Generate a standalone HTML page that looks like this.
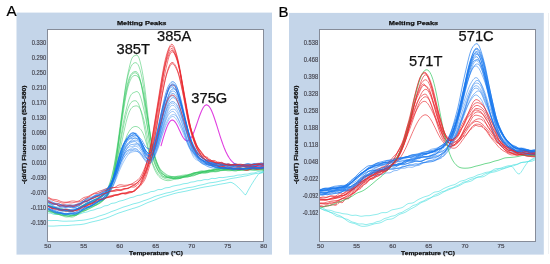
<!DOCTYPE html>
<html><head><meta charset="utf-8"><title>Melting Peaks</title>
<style>
html,body{margin:0;padding:0;background:#fff;width:550px;height:264px;overflow:hidden}
svg{display:block}
text{font-family:"Liberation Sans",sans-serif}
.r{stroke:#e8262c;stroke-opacity:0.9}
.b{stroke:#1677ee;stroke-opacity:0.95}
.g{stroke:#36c862;stroke-opacity:0.75}
.m{stroke:#e040e0}
.c{stroke:#4fe0e0;stroke-opacity:0.9}
path{fill:none;stroke-width:0.7;stroke-linejoin:round;stroke-linecap:round}
</style></head><body>
<svg width="550" height="264" viewBox="0 0 550 264" style="will-change:transform">
<rect x="16.5" y="12.6" width="255.5" height="242" fill="#c4d5e9"/>
<rect x="548" y="13" width="1" height="241" fill="#eef0f2"/>
<rect x="289" y="12.9" width="254.8" height="241.7" fill="#c4d5e9"/>
<rect x="47.5" y="29.5" width="216" height="212" fill="#fff" stroke="#868c99" stroke-width="1"/>
<rect x="319.5" y="29.5" width="216" height="212" fill="#fff" stroke="#868c99" stroke-width="1"/>
<svg x="48.1" y="30.1" width="215.6" height="210.6" viewBox="48.1 30.1 215.6 210.6" overflow="hidden">
<g fill="none" stroke-linejoin="round" stroke-linecap="round">
<path class="c" style="stroke-width:0.75" d="M48 213 49 213.1 50 213.1 51 213.3 52 213.7 53 214.1 54 214.4 55 214.5 56 214.4 57 214.3 58 214.3 59 214.6 60 214.9 61 215.2 62 215.2 63 215.1 64 214.8 65 214.7 66 214.7 67 214.9 68 215 69 215.1 70 215.1 71 215 72 214.8 73 214.7 74 214.6 75 214.5 76 214.4 77 214.3 78 214.2 79 214.1 80 213.9 81 213.6 82 213.2 83 212.8 84 212.5 85 212.3 86 212.2 87 212 88 211.6 89 211.2 90 210.8 91 210.5 92 210.3 93 210.1 94 209.9 95 209.5 96 209.1 97 208.7 98 208.4 99 208.2 100 208 101 207.7 102 207.2 103 206.6 104 206.1 105 205.8 106 205.7 107 205.6 108 205.3 109 204.8 110 204.2 111 203.6 112 203.3 113 203.2 114 203.1 115 202.9 116 202.6 117 202.2 118 201.7 119 201.3 120 201 121 200.8 122 200.6 123 200.4 124 200 125 199.7 126 199.3 127 199 128 198.6 129 198.2 130 197.8 131 197.6 132 197.4 133 197.2 134 196.9 135 196.5 136 196 137 195.7 138 195.4 139 195.3 140 195.2 141 195 142 194.6 143 194.2 144 193.8 145 193.6 146 193.4 147 193.2 148 192.9 149 192.5 150 192 151 191.6 152 191.5 153 191.4 154 191.3 155 190.9 156 190.5 157 190 158 189.6 159 189.5 160 189.6 161 189.6 162 189.4 163 188.9 164 188.4 165 188 166 187.8 167 187.7 168 187.6 169 187.5 170 187.2 171 186.8 172 186.4 173 186.1 174 185.9 175 185.7 176 185.5 177 185.3 178 185.1 179 185 180 184.8 181 184.5 182 184.2 183 183.9 184 183.7 185 183.6 186 183.5 187 183.4 188 183.2 189 182.8 190 182.4 191 182.1 192 182 193 181.9 194 181.8 195 181.5 196 181.2 197 180.9 198 180.7 199 180.7 200 180.7 201 180.6 202 180.3 203 180 204 179.7 205 179.6 206 179.6 207 179.7 208 179.7 209 179.4 210 179 211 178.6 212 178.3 213 178.4 214 178.5 215 178.6 216 178.4 217 178.1 218 177.8 219 177.5 220 177.5 221 177.5 222 177.6 223 177.6 224 177.4 225 177.3 226 177.1 227 177 228 176.8 229 176.6 230 176.5 231 176.4 232 176.3 233 176.2 234 176.1 235 175.8 236 175.5 237 175.2 238 175.1 239 175 240 175 241 175 242 174.8 243 174.5 244 174.3 245 174.2 246 174.1 247 174.1 248 174 249 173.7 250 173.4 251 173.2 252 173.1 253 173.1 254 173 255 172.8 256 172.4 257 172 258 171.6 259 171.6 260 171.7 261 171.8 262 171.7 263 171.3 264 170.9"/>
<path class="c" style="stroke-width:0.75" d="M48 220.5 49 220.5 50 220.6 51 220.6 52 220.6 53 220.5 54 220.5 55 220.5 56 220.5 57 220.5 58 220.6 59 220.8 60 220.9 61 221 62 221.1 63 221.2 64 221.2 65 221.2 66 221.2 67 221.2 68 221.1 69 221.1 70 221.1 71 221.1 72 221.1 73 221.1 74 221 75 220.9 76 220.8 77 220.7 78 220.6 79 220.5 80 220.4 81 220.4 82 220.3 83 220.2 84 220.1 85 219.9 86 219.8 87 219.5 88 219.3 89 219.1 90 218.8 91 218.6 92 218.4 93 218.2 94 217.9 95 217.6 96 217.2 97 216.9 98 216.5 99 216.1 100 215.8 101 215.5 102 215.2 103 214.9 104 214.6 105 214.3 106 213.9 107 213.5 108 213.1 109 212.7 110 212.2 111 211.8 112 211.4 113 211.1 114 210.7 115 210.4 116 210 117 209.6 118 209.2 119 208.8 120 208.4 121 208 122 207.6 123 207.2 124 206.9 125 206.6 126 206.3 127 206 128 205.7 129 205.4 130 205 131 204.7 132 204.3 133 204 134 203.7 135 203.5 136 203.3 137 203 138 202.8 139 202.5 140 202.1 141 201.8 142 201.4 143 201 144 200.6 145 200.3 146 200 147 199.6 148 199.3 149 198.9 150 198.5 151 198.1 152 197.7 153 197.2 154 196.8 155 196.4 156 196.1 157 195.7 158 195.5 159 195.2 160 194.9 161 194.6 162 194.3 163 194 164 193.7 165 193.4 166 193.1 167 192.9 168 192.7 169 192.5 170 192.3 171 192.1 172 191.8 173 191.5 174 191.2 175 190.8 176 190.5 177 190.2 178 190 179 189.7 180 189.5 181 189.3 182 189.1 183 188.8 184 188.6 185 188.3 186 188.1 187 187.8 188 187.7 189 187.5 190 187.4 191 187.3 192 187.1 193 187 194 186.7 195 186.5 196 186.2 197 185.9 198 185.7 199 185.4 200 185.2 201 185 202 184.8 203 184.6 204 184.3 205 184.1 206 183.8 207 183.5 208 183.2 209 183 210 182.8 211 182.7 212 182.6 213 182.5 214 182.3 215 182.2 216 182 217 181.8 218 181.6 219 181.3 220 181.1 221 180.9 222 180.7 223 180.5 224 180.3 225 180.1 226 179.9 227 179.6 228 179.3 229 179 230 178.8 231 178.5 232 178.4 233 178.2 234 178.1 235 177.9 236 177.8 237 177.6 238 177.4 239 177.2 240 177 241 176.8 242 176.6 243 176.4 244 176.2 245 176 246 175.9 247 175.7 248 175.4 249 175.2 250 174.9 251 174.6 252 174.3 253 174.1 254 173.9 255 173.7 256 173.6 257 173.4 258 173.3 259 173.1 260 172.9 261 172.6 262 172.4 263 172.1 264 171.9"/>
<path class="c" style="stroke-width:0.75" d="M48 226 49 226 50 226.1 51 226.1 52 226.1 53 226.1 54 226.1 55 226 56 225.9 57 225.9 58 225.8 59 225.7 60 225.7 61 225.6 62 225.6 63 225.6 64 225.6 65 225.6 66 225.6 67 225.5 68 225.5 69 225.4 70 225.3 71 225.2 72 225.1 73 225 74 225 75 224.9 76 224.8 77 224.8 78 224.7 79 224.7 80 224.6 81 224.5 82 224.3 83 224.2 84 224 85 223.8 86 223.5 87 223.3 88 223 89 222.7 90 222.4 91 222.2 92 221.9 93 221.7 94 221.5 95 221.2 96 221 97 220.8 98 220.5 99 220.3 100 220 101 219.7 102 219.4 103 219.1 104 218.8 105 218.5 106 218.2 107 217.8 108 217.4 109 217.1 110 216.7 111 216.2 112 215.8 113 215.4 114 215 115 214.5 116 214.1 117 213.7 118 213.3 119 212.9 120 212.6 121 212.3 122 212 123 211.6 124 211.3 125 211 126 210.7 127 210.3 128 210 129 209.7 130 209.4 131 209.1 132 208.7 133 208.4 134 208.2 135 207.9 136 207.5 137 207.2 138 206.9 139 206.5 140 206.1 141 205.7 142 205.2 143 204.8 144 204.3 145 203.8 146 203.4 147 202.9 148 202.5 149 202.1 150 201.8 151 201.4 152 201 153 200.7 154 200.3 155 199.9 156 199.5 157 199.1 158 198.6 159 198.2 160 197.8 161 197.5 162 197.1 163 196.8 164 196.5 165 196.2 166 196 167 195.7 168 195.4 169 195.1 170 194.8 171 194.5 172 194.2 173 193.9 174 193.6 175 193.4 176 193.1 177 192.9 178 192.6 179 192.4 180 192.3 181 192.1 182 191.9 183 191.7 184 191.5 185 191.3 186 191.1 187 190.9 188 190.7 189 190.4 190 190.2 191 189.9 192 189.7 193 189.5 194 189.2 195 189 196 188.8 197 188.6 198 188.4 199 188.1 200 187.9 201 187.7 202 187.5 203 187.3 204 187.1 205 186.9 206 186.8 207 186.6 208 186.5 209 186.3 210 186.1 211 186 212 185.8 213 185.6 214 185.4 215 185.2 216 185 217 184.8 218 184.6 219 184.4 220 184.2 221 184.1 222 183.9 223 183.7 224 183.6 225 183.4 226 183.2 227 183 228 182.8 229 182.6 230 182.3 231 182.4 232 182.7 233 183.2 234 183.8 235 184.5 236 185.3 237 186.2 238 187.1 239 188.1 240 189.1 241 190.2 242 191.3 243 192.4 244 193.6 245 194.8 246 194.5 247 192.6 248 190.7 249 188.9 250 187.1 251 185.4 252 183.8 253 182.2 254 180.6 255 179.1 256 177.6 257 176.2 258 174.8 259 173.7 260 173.4 261 173.1 262 172.9 263 172.7 264 172.5"/>
<path class="m" style="stroke-width:1.10" d="M161 145.8 162 142.3 163 138.9 164 135.6 165 132.4 166 129.5 167 126.9 168 124.6 169 122.7 170 121.3 171 120.4 172 120 173 120.1 174 120.8 175 121.9 176 123.3 177 125.1 178 127.1 179 129.2 180 131.3 181 133.4 182 135.4 183 137.2 184 138.7 185 139.8 186 140.6 187 141 188 140.9 189 140.4 190 139.4 191 138.1 192 136.3 193 134.2 194 131.8 195 129.1 196 126.3 197 123.4 198 120.4 199 117.5 200 114.7 201 112.2 202 109.9 203 108 204 106.5 205 105.4 206 104.9 207 104.9 208 105.4 209 106.4 210 107.8 211 109.6 212 111.8 213 114.3 214 117 215 120 216 123 217 126.2 218 129.4 219 132.6 220 135.8 221 138.9 222 141.8 223 144.6 224 147.3 225 149.7 226 152 227 154 228 155.9 229 157.5 230 159 231 160.3 232 161.4 233 162.3 234 163.2 235 163.9 236 164.4 237 164.9 238 165.3 239 165.6 240 165.9 241 166.1 242 166.3 243 166.4 244 166.5 245 166.5 246 166.6 247 166.6 248 166.6 249 166.6 250 166.6 251 166.5 252 166.5 253 166.5 254 166.5 255 166.4 256 166.4 257 166.3 258 166.3 259 166.2 260 166.2 261 166.1 262 166.1 263 166 264 166.0"/>
<path class="g" d="M48 209.4 49 209.8 50 210.5 51 211.3 52 211.9 53 212.1 54 212 55 212.1 56 212.4 57 213 58 213.5 59 213.7 60 213.6 61 213.7 62 214.1 63 214.7 64 215.2 65 215.4 66 215.1 67 214.8 68 214.6 69 214.9 70 215.4 71 215.7 72 215.8 73 215.5 74 215.2 75 215 76 214.9 77 214.5 78 213.8 79 212.7 80 211.6 81 210.9 82 210.6 83 210.5 84 210.1 85 209.4 86 208.6 87 207.9 88 207.5 89 207.3 90 207 91 206.5 92 205.8 93 205.2 94 204.9 95 204.9 96 204.9 97 204.4 98 203.5 99 202.5 100 201.6 101 201.1 102 200.8 103 200.2 104 199.3 105 198 106 196.6 107 195.2 108 193.7 109 191.7 110 188.8 111 185.2 112 181 113 176.5 114 171.8 115 166.7 116 160.7 117 153.7 118 146.1 119 138.1 120 130.1 121 122.2 122 114.2 123 106 124 98 125 90.4 126 83.8 127 78.1 128 73.1 129 68.6 130 64.4 131 60.8 132 58.2 133 56.6 134 55.9 135 55.6 136 55.2 137 55.2 138 56 139 58 140 61.2 141 65.3 142 70.1 143 75.5 144 81.9 145 89.3 146 97.7 147 106.7 148 115.6 149 124.1 150 131.8 151 138.6 152 144.6 153 150.1 154 154.6 155 158.3 156 161.2 157 163.8 158 166.4 159 168.9 160 171.1 161 172.7 162 173.6 163 174.2 164 174.7 165 175.4 166 176.2 167 176.8 168 177 169 177 170 177 171 177.3 172 177.8 173 178.2 174 178.1 175 177.7 176 177.3 177 177.1 178 177.3 179 177.6 180 177.8 181 177.5 182 177 183 176.6 184 176.3 185 176.3 186 176.1 187 175.5 188 174.8 189 174.2 190 174 191 174.1 192 174.4 193 174.3 194 173.8 195 173.2 196 172.7 197 172.5 198 172.6 199 172.5 200 172.3 201 171.8 202 171.5 203 171.5 204 171.7 205 171.9 206 171.7 207 171.1 208 170.5 209 170.2 210 170.3 211 170.6 212 170.7 213 170.5 214 170.1 215 169.7 216 169.7 217 169.8 218 169.7 219 169.4 220 168.8 221 168.4 222 168.3 223 168.7 224 169.2 225 169.4 226 169.3 227 168.9 228 168.7 229 168.8 230 169.1 231 169.3 232 169.2 233 168.9 234 168.7 235 168.9 236 169.3 237 169.6 238 169.5 239 169 240 168.5 241 168.2 242 168.4 243 168.7 244 169 245 168.9 246 168.6 247 168.5 248 168.6 249 168.8 250 168.9 251 168.6 252 168.1 253 167.7 254 167.6 255 168 256 168.5 257 168.8 258 168.7 259 168.4 260 168.2 261 168.3 262 168.6 263 168.8 264 168.6"/>
<path class="g" d="M48 205.2 49 205.7 50 206.1 51 206.3 52 206.6 53 206.8 54 207 55 207.3 56 207.6 57 207.9 58 208.1 59 208.2 60 208.3 61 208.5 62 208.7 63 209 64 209.4 65 209.7 66 210 67 210.2 68 210.3 69 210.3 70 210.4 71 210.5 72 210.6 73 210.6 74 210.4 75 210 76 209.4 77 208.8 78 208.1 79 207.5 80 206.9 81 206.4 82 205.8 83 205.2 84 204.5 85 204 86 203.5 87 203.1 88 202.8 89 202.4 90 202 91 201.6 92 201 93 200.5 94 200 95 199.5 96 199.1 97 198.7 98 198.2 99 197.7 100 197 101 196.3 102 195.5 103 194.7 104 193.8 105 192.8 106 191.5 107 189.8 108 187.7 109 185.2 110 182.3 111 179 112 175.2 113 171 114 166.1 115 160.6 116 154.5 117 147.9 118 141 119 133.8 120 126.5 121 119.2 122 111.9 123 104.7 124 97.9 125 91.4 126 85.4 127 80.2 128 75.7 129 72 130 69 131 66.6 132 64.9 133 63.7 134 63 135 62.7 136 62.7 137 63.3 138 64.6 139 66.7 140 69.6 141 73.4 142 78 143 83.6 144 89.9 145 96.9 146 104.4 147 112.1 148 119.8 149 127.5 150 134.6 151 140.8 152 146.3 153 151.1 154 155.2 155 158.8 156 161.8 157 164.4 158 166.5 159 168.4 160 170.1 161 171.7 162 173.1 163 174.2 164 175.2 165 175.9 166 176.5 167 177 168 177.5 169 177.9 170 178.3 171 178.5 172 178.7 173 178.7 174 178.6 175 178.4 176 178.4 177 178.3 178 178.3 179 178.2 180 178.1 181 177.9 182 177.6 183 177.3 184 177.1 185 177 186 176.9 187 176.8 188 176.6 189 176.4 190 176 191 175.7 192 175.4 193 175.2 194 175 195 174.9 196 174.6 197 174.3 198 174 199 173.7 200 173.5 201 173.3 202 173.2 203 173.2 204 173.1 205 172.9 206 172.7 207 172.4 208 172.2 209 172.1 210 172 211 172 212 171.9 213 171.7 214 171.4 215 171.2 216 171 217 170.8 218 170.8 219 170.8 220 170.7 221 170.7 222 170.6 223 170.5 224 170.4 225 170.4 226 170.5 227 170.7 228 170.8 229 170.8 230 170.8 231 170.7 232 170.6 233 170.6 234 170.6 235 170.6 236 170.6 237 170.6 238 170.4 239 170.3 240 170.1 241 170 242 170 243 170.1 244 170.1 245 170.1 246 170.1 247 170 248 170 249 170 250 170 251 170.1 252 170.3 253 170.3 254 170.3 255 170.2 256 170.1 257 170 258 170 259 170 260 170.1 261 170.1 262 170 263 169.9 264 169.7"/>
<path class="g" d="M48 211 49 211.2 50 211.5 51 211.7 52 212 53 212.4 54 212.7 55 213.1 56 213.4 57 213.7 58 214.1 59 214.4 60 214.8 61 215.2 62 215.6 63 216.1 64 216.5 65 216.8 66 217 67 217 68 216.9 69 216.7 70 216.4 71 216.2 72 215.9 73 215.8 74 215.5 75 215.3 76 215.1 77 214.7 78 214.3 79 213.8 80 213.3 81 212.6 82 212 83 211.4 84 210.9 85 210.4 86 210 87 209.6 88 209.1 89 208.7 90 208.1 91 207.6 92 207.1 93 206.5 94 206 95 205.6 96 205.2 97 204.8 98 204.3 99 203.8 100 203.2 101 202.5 102 201.6 103 200.7 104 199.6 105 198.4 106 197.1 107 195.5 108 193.8 109 191.6 110 189 111 185.8 112 182 113 177.5 114 172.3 115 166.5 116 160.1 117 153.2 118 146 119 138.5 120 131 121 123.5 122 116.1 123 109 124 102.2 125 96.1 126 90.5 127 85.7 128 81.7 129 78.5 130 76.1 131 74.3 132 73.1 133 72.3 134 71.8 135 71.5 136 71.5 137 72.1 138 73.5 139 75.9 140 79.1 141 83.4 142 88.6 143 94.5 144 101.1 145 108.1 146 115.4 147 122.8 148 130.1 149 137 150 143.1 151 148.4 152 153.1 153 157.2 154 160.7 155 163.8 156 166.5 157 168.7 158 170.6 159 172.2 160 173.5 161 174.6 162 175.5 163 176.2 164 176.8 165 177.2 166 177.5 167 177.6 168 177.6 169 177.5 170 177.4 171 177.3 172 177.2 173 177.2 174 177.4 175 177.6 176 177.8 177 178 178 178.2 179 178.2 180 178.1 181 177.8 182 177.4 183 177 184 176.6 185 176.2 186 175.8 187 175.5 188 175.1 189 174.8 190 174.5 191 174.2 192 173.9 193 173.6 194 173.3 195 173 196 172.9 197 172.7 198 172.6 199 172.5 200 172.3 201 172.1 202 171.9 203 171.6 204 171.3 205 171.1 206 170.9 207 170.8 208 170.8 209 170.8 210 170.8 211 170.8 212 170.7 213 170.5 214 170.2 215 169.8 216 169.5 217 169.2 218 168.9 219 168.8 220 168.8 221 168.8 222 168.9 223 169.1 224 169.2 225 169.3 226 169.3 227 169.3 228 169.3 229 169.3 230 169.2 231 169.2 232 169.1 233 169.1 234 168.9 235 168.7 236 168.5 237 168.3 238 168.2 239 168.1 240 168.1 241 168.2 242 168.5 243 168.7 244 169 245 169.2 246 169.3 247 169.3 248 169.2 249 169 250 168.8 251 168.6 252 168.5 253 168.4 254 168.3 255 168.3 256 168.4 257 168.4 258 168.3 259 168.2 260 168.1 261 168 262 167.9 263 167.9 264 167.9"/>
<path class="g" d="M48 204 49 204.4 50 204.9 51 205.5 52 206.2 53 206.9 54 207.5 55 208 56 208.4 57 208.7 58 208.9 59 209.1 60 209.2 61 209.3 62 209.4 63 209.5 64 209.5 65 209.4 66 209.4 67 209.4 68 209.5 69 209.7 70 209.9 71 210.2 72 210.5 73 210.6 74 210.4 75 210.1 76 209.6 77 209 78 208.4 79 207.7 80 207.1 81 206.5 82 205.9 83 205.3 84 204.8 85 204.2 86 203.7 87 203.3 88 202.9 89 202.5 90 202.2 91 201.8 92 201.3 93 200.7 94 200 95 199.3 96 198.6 97 198 98 197.5 99 197.1 100 196.7 101 196.3 102 195.7 103 195.1 104 194.2 105 193.2 106 191.9 107 190.3 108 188.4 109 186.2 110 183.5 111 180.3 112 176.5 113 172.1 114 167.2 115 161.9 116 156.2 117 150.1 118 143.9 119 137.4 120 130.8 121 124 122 117.3 123 110.7 124 104.4 125 98.4 126 93 127 88.3 128 84.2 129 80.8 130 78 131 75.9 132 74.4 133 73.5 134 73 135 72.8 136 73 137 73.7 138 75 139 77 140 79.6 141 82.8 142 86.6 143 91 144 95.9 145 101.5 146 107.5 147 113.8 148 120.4 149 127 150 133.6 151 139.4 152 144.6 153 149.1 154 153.1 155 156.6 156 159.8 157 162.6 158 165 159 167 160 168.6 161 169.9 162 171 163 171.9 164 172.7 165 173.4 166 174.1 167 174.8 168 175.4 169 175.8 170 176.2 171 176.4 172 176.5 173 176.5 174 176.5 175 176.5 176 176.4 177 176.4 178 176.3 179 176.1 180 175.8 181 175.6 182 175.3 183 175.2 184 175.1 185 175.1 186 175.2 187 175.3 188 175.2 189 175.1 190 174.8 191 174.4 192 174 193 173.5 194 173.1 195 172.7 196 172.4 197 172 198 171.7 199 171.4 200 171.2 201 171 202 170.9 203 170.9 204 171 205 171.1 206 171.2 207 171.2 208 171.1 209 170.9 210 170.6 211 170.3 212 169.9 213 169.6 214 169.4 215 169.3 216 169.1 217 169 218 168.8 219 168.7 220 168.6 221 168.5 222 168.5 223 168.6 224 168.7 225 168.8 226 168.9 227 168.8 228 168.7 229 168.6 230 168.5 231 168.4 232 168.5 233 168.6 234 168.8 235 169 236 169.1 237 169.1 238 169 239 168.9 240 168.7 241 168.5 242 168.4 243 168.2 244 168.1 245 167.9 246 167.8 247 167.6 248 167.5 249 167.5 250 167.5 251 167.7 252 168 253 168.4 254 168.7 255 169 256 169.1 257 169.1 258 169 259 168.8 260 168.5 261 168.3 262 168 263 167.8 264 167.7"/>
<path class="g" d="M48 211.1 49 211.2 50 211.1 51 211.1 52 211.5 53 212.2 54 213 55 213.7 56 214.1 57 214.2 58 214.2 59 214.2 60 214.3 61 214.6 62 215 63 215.3 64 215.5 65 215.6 66 215.7 67 215.8 68 216 69 216 70 215.9 71 215.8 72 215.6 73 215.5 74 215.5 75 215.6 76 215.5 77 215.1 78 214.4 79 213.5 80 212.5 81 211.8 82 211.4 83 211.2 84 211.1 85 210.8 86 210.2 87 209.3 88 208.4 89 207.6 90 207.1 91 206.9 92 206.7 93 206.3 94 205.8 95 205.2 96 204.6 97 204 98 203.6 99 203.1 100 202.6 101 202 102 201.3 103 200.6 104 199.8 105 199 106 197.8 107 196.2 108 194 109 191.4 110 188.4 111 185.3 112 181.8 113 178 114 173.5 115 168.2 116 162.2 117 155.5 118 148.6 119 141.6 120 134.8 121 128.1 122 121.4 123 114.7 124 108 125 101.7 126 95.9 127 91 128 86.9 129 83.6 130 80.9 131 78.8 132 77.2 133 76.1 134 75.6 135 75.4 136 75.5 137 75.9 138 76.8 139 78.3 140 80.6 141 83.7 142 87.7 143 92.4 144 97.6 145 103.1 146 108.8 147 114.7 148 121 149 127.6 150 134.3 151 140.6 152 145.9 153 150.3 154 154 155 157.1 156 160 157 162.7 158 165.2 159 167.5 160 169.3 161 170.7 162 171.8 163 172.7 164 173.5 165 174.4 166 175.2 167 175.8 168 176.2 169 176.3 170 176.3 171 176.5 172 176.7 173 176.9 174 177 175 176.9 176 176.7 177 176.4 178 176.2 179 176.3 180 176.4 181 176.5 182 176.4 183 176 184 175.6 185 175.2 186 174.9 187 174.9 188 174.9 189 174.8 190 174.5 191 174 192 173.4 193 172.9 194 172.8 195 172.8 196 172.8 197 172.7 198 172.4 199 171.9 200 171.5 201 171.3 202 171.3 203 171.4 204 171.4 205 171.3 206 171 207 170.6 208 170.3 209 170.1 210 170.1 211 170 212 169.9 213 169.6 214 169.2 215 169 216 168.9 217 169 218 169.1 219 169.1 220 168.9 221 168.6 222 168.4 223 168.4 224 168.7 225 169 226 169.2 227 169.2 228 168.9 229 168.5 230 168.2 231 168.2 232 168.4 233 168.7 234 168.9 235 168.8 236 168.6 237 168.2 238 168 239 168 240 168.1 241 168.3 242 168.5 243 168.5 244 168.4 245 168.3 246 168.3 247 168.4 248 168.4 249 168.4 250 168.2 251 168 252 167.9 253 168 254 168.2 255 168.4 256 168.4 257 168.2 258 167.8 259 167.4 260 167.3 261 167.5 262 167.9 263 168.3 264 168.5"/>
<path class="g" d="M48 205.5 49 205.6 50 205.9 51 206.4 52 207 53 207.6 54 208 55 208.2 56 208.3 57 208.3 58 208.5 59 208.9 60 209.4 61 209.8 62 210.1 63 210.2 64 210.1 65 210 66 210.1 67 210.3 68 210.8 69 211.2 70 211.4 71 211.4 72 211.2 73 210.8 74 210.4 75 210.2 76 210 77 209.7 78 209.3 79 208.6 80 207.7 81 206.8 82 206 83 205.5 84 205.3 85 205.1 86 204.9 87 204.3 88 203.6 89 202.8 90 202.1 91 201.6 92 201.3 93 201.1 94 200.8 95 200.3 96 199.7 97 199 98 198.4 99 198 100 197.8 101 197.6 102 197.1 103 196.3 104 195.2 105 193.9 106 192.4 107 191 108 189.6 109 188 110 185.9 111 183.4 112 180.3 113 176.6 114 172.6 115 168.4 116 164 117 159.2 118 154 119 148.3 120 142.2 121 136 122 130 123 124.3 124 119.2 125 114.5 126 110.3 127 106.3 128 102.6 129 99.4 130 96.8 131 94.9 132 93.6 133 92.9 134 92.5 135 92.1 136 91.6 137 91.5 138 92 139 93.2 140 95.4 141 98.4 142 101.9 143 105.9 144 110.3 145 114.9 146 119.9 147 125.4 148 131.1 149 137 150 142.7 151 147.8 152 152 153 155.5 154 158.7 155 161.6 156 164.4 157 167 158 169.3 159 171.1 160 172.4 161 173.2 162 173.9 163 174.5 164 175.2 165 175.9 166 176.6 167 177 168 177.1 169 177.1 170 177.1 171 177.3 172 177.7 173 178.2 174 178.6 175 178.8 176 178.6 177 178.2 178 177.7 179 177.4 180 177.2 181 177.2 182 177.2 183 177.1 184 176.8 185 176.4 186 176 187 175.8 188 175.7 189 175.8 190 175.9 191 175.7 192 175.2 193 174.6 194 173.9 195 173.4 196 173.1 197 173.1 198 173.2 199 173.2 200 173.1 201 172.8 202 172.5 203 172.3 204 172.3 205 172.4 206 172.5 207 172.4 208 172.1 209 171.6 210 171 211 170.6 212 170.4 213 170.5 214 170.7 215 170.8 216 170.7 217 170.5 218 170.2 219 170 220 169.9 221 170.1 222 170.3 223 170.3 224 170.1 225 169.8 226 169.4 227 169.2 228 169.2 229 169.5 230 169.9 231 170.2 232 170.3 233 170.2 234 169.9 235 169.7 236 169.7 237 169.8 238 170 239 170.1 240 170 241 169.7 242 169.3 243 169.1 244 169.1 245 169.3 246 169.6 247 169.8 248 169.9 249 169.6 250 169.3 251 169 252 168.9 253 169 254 169.3 255 169.5 256 169.5 257 169.3 258 169.1 259 168.9 260 168.9 261 169.1 262 169.4 263 169.7 264 169.7"/>
<path class="g" d="M48 211.2 49 211.7 50 212.1 51 212.5 52 212.7 53 213 54 213.2 55 213.4 56 213.6 57 213.9 58 214.2 59 214.5 60 214.8 61 215 62 215.2 63 215.4 64 215.6 65 215.8 66 216 67 216.2 68 216.5 69 216.7 70 216.9 71 217.1 72 217.1 73 217 74 216.6 75 216 76 215.3 77 214.6 78 213.8 79 213.1 80 212.4 81 211.9 82 211.5 83 211.1 84 210.8 85 210.5 86 210.2 87 209.9 88 209.4 89 208.9 90 208.4 91 207.9 92 207.4 93 206.9 94 206.4 95 205.8 96 205.3 97 204.7 98 204 99 203.3 100 202.6 101 201.8 102 201 103 200.2 104 199.3 105 198.3 106 197.1 107 195.7 108 194 109 191.9 110 189.4 111 186.4 112 183 113 179.2 114 175 115 170.5 116 165.7 117 160.8 118 155.6 119 150.3 120 145 121 139.6 122 134.2 123 129 124 124 125 119.4 126 115.2 127 111.5 128 108.5 129 106 130 104 131 102.6 132 101.7 133 101.1 134 100.8 135 100.7 136 100.9 137 101.6 138 103 139 105.1 140 108 141 111.5 142 115.6 143 120.3 144 125.4 145 130.7 146 136.1 147 141.5 148 146.8 149 151.6 150 155.8 151 159.5 152 162.7 153 165.5 154 168.1 155 170.4 156 172.3 157 174 158 175.4 159 176.6 160 177.5 161 178.3 162 178.9 163 179.4 164 179.8 165 180.2 166 180.4 167 180.6 168 180.7 169 180.6 170 180.5 171 180.3 172 180 173 179.7 174 179.4 175 179.2 176 179 177 178.8 178 178.7 179 178.6 180 178.4 181 178.2 182 177.9 183 177.6 184 177.2 185 176.9 186 176.6 187 176.4 188 176.3 189 176.2 190 176.2 191 176.2 192 176.1 193 176 194 175.7 195 175.3 196 174.9 197 174.4 198 173.9 199 173.5 200 173.1 201 172.7 202 172.4 203 172.2 204 172 205 171.8 206 171.6 207 171.5 208 171.3 209 171.3 210 171.3 211 171.3 212 171.5 213 171.6 214 171.8 215 171.9 216 171.8 217 171.7 218 171.5 219 171.2 220 170.8 221 170.4 222 170.1 223 169.8 224 169.6 225 169.5 226 169.6 227 169.6 228 169.7 229 169.8 230 169.9 231 169.9 232 169.9 233 169.9 234 169.9 235 170 236 170.1 237 170.2 238 170.3 239 170.5 240 170.5 241 170.5 242 170.5 243 170.3 244 170.2 245 170 246 169.8 247 169.7 248 169.7 249 169.6 250 169.6 251 169.6 252 169.5 253 169.4 254 169.3 255 169.1 256 168.9 257 168.8 258 168.8 259 168.9 260 169.1 261 169.3 262 169.6 263 170 264 170.2"/>
<path class="g" d="M48 209.5 49 210 50 210.4 51 210.8 52 211.2 53 211.5 54 211.8 55 212 56 212.2 57 212.4 58 212.6 59 212.8 60 213 61 213.2 62 213.5 63 213.8 64 214 65 214.3 66 214.5 67 214.7 68 214.9 69 215 70 215 71 215 72 214.9 73 214.8 74 214.5 75 214.1 76 213.7 77 213.2 78 212.6 79 212 80 211.5 81 210.9 82 210.4 83 209.9 84 209.4 85 209 86 208.6 87 208.1 88 207.6 89 207.1 90 206.5 91 206 92 205.4 93 204.9 94 204.4 95 203.8 96 203.3 97 202.8 98 202.3 99 201.8 100 201.3 101 200.7 102 200.1 103 199.5 104 198.8 105 198.1 106 197.1 107 196 108 194.6 109 192.9 110 190.9 111 188.4 112 185.5 113 182.2 114 178.5 115 174.4 116 170.1 117 165.5 118 160.8 119 155.9 120 151 121 146 122 141.1 123 136.2 124 131.4 125 126.9 126 122.6 127 118.8 128 115.5 129 112.6 130 110.4 131 108.7 132 107.5 133 106.7 134 106.3 135 106 136 105.9 137 105.9 138 106.4 139 107.2 140 108.6 141 110.7 142 113.3 143 116.6 144 120.5 145 124.8 146 129.5 147 134.4 148 139.3 149 144.1 150 148.7 151 152.9 152 156.4 153 159.4 154 162.1 155 164.5 156 166.7 157 168.7 158 170.6 159 172.3 160 173.7 161 174.9 162 175.8 163 176.5 164 176.9 165 177.1 166 177.3 167 177.4 168 177.5 169 177.6 170 177.8 171 178 172 178.1 173 178.2 174 178.2 175 178.1 176 177.9 177 177.6 178 177.3 179 177 180 176.7 181 176.6 182 176.5 183 176.5 184 176.5 185 176.4 186 176.3 187 176.1 188 175.8 189 175.3 190 174.8 191 174.2 192 173.7 193 173.3 194 173 195 172.8 196 172.8 197 172.8 198 172.8 199 172.8 200 172.8 201 172.6 202 172.4 203 172.1 204 171.8 205 171.4 206 171.1 207 170.9 208 170.7 209 170.5 210 170.4 211 170.3 212 170.2 213 170 214 169.9 215 169.7 216 169.5 217 169.4 218 169.3 219 169.3 220 169.3 221 169.4 222 169.5 223 169.5 224 169.6 225 169.6 226 169.5 227 169.4 228 169.2 229 169 230 168.9 231 168.8 232 168.7 233 168.7 234 168.7 235 168.7 236 168.8 237 168.9 238 169 239 169.1 240 169.1 241 169.1 242 169.1 243 169.1 244 169 245 168.9 246 168.8 247 168.7 248 168.6 249 168.5 250 168.4 251 168.4 252 168.3 253 168.3 254 168.4 255 168.4 256 168.5 257 168.5 258 168.6 259 168.7 260 168.7 261 168.7 262 168.7 263 168.6 264 168.5"/>
<path class="g" d="M48 205.8 49 206.3 50 206.8 51 207.3 52 207.6 53 207.7 54 207.7 55 207.8 56 207.9 57 208.2 58 208.6 59 209.1 60 209.7 61 210.2 62 210.6 63 210.9 64 210.9 65 211 66 211 67 211 68 211.2 69 211.3 70 211.5 71 211.5 72 211.5 73 211.2 74 210.8 75 210.4 76 209.9 77 209.4 78 209 79 208.6 80 208.1 81 207.5 82 206.8 83 206 84 205.3 85 204.7 86 204.3 87 204.1 88 204 89 203.8 90 203.6 91 203.2 92 202.7 93 201.9 94 201.1 95 200.4 96 199.7 97 199.1 98 198.7 99 198.3 100 197.8 101 197.3 102 196.6 103 195.9 104 195.1 105 194.3 106 193.5 107 192.7 108 191.7 109 190.4 110 188.9 111 186.9 112 184.7 113 182.1 114 179.4 115 176.5 116 173.5 117 170.4 118 167.1 119 163.6 120 159.9 121 156 122 152 123 148 124 144.3 125 140.9 126 138 127 135.4 128 133.3 129 131.5 130 130 131 128.7 132 127.8 133 127.1 134 126.7 135 126.5 136 126.5 137 126.7 138 127.1 139 127.8 140 128.6 141 129.8 142 131.3 143 133.3 144 135.7 145 138.6 146 141.9 147 145.4 148 148.9 149 152.4 150 155.8 151 158.9 152 161.6 153 164 154 166.2 155 168.3 156 170.2 157 172 158 173.6 159 174.8 160 175.8 161 176.5 162 177.1 163 177.6 164 178.1 165 178.5 166 178.8 167 179.1 168 179.2 169 179.1 170 178.9 171 178.7 172 178.5 173 178.5 174 178.5 175 178.7 176 178.9 177 178.9 178 178.9 179 178.6 180 178.3 181 177.8 182 177.5 183 177.3 184 177.2 185 177.2 186 177.2 187 177.2 188 177.1 189 176.7 190 176.3 191 175.8 192 175.4 193 175 194 174.8 195 174.6 196 174.4 197 174.1 198 173.8 199 173.4 200 173.1 201 172.8 202 172.7 203 172.8 204 172.9 205 173 206 173 207 172.9 208 172.7 209 172.3 210 171.8 211 171.5 212 171.2 213 171.2 214 171.2 215 171.3 216 171.4 217 171.3 218 171.1 219 170.8 220 170.5 221 170.3 222 170.2 223 170.2 224 170.2 225 170.3 226 170.4 227 170.4 228 170.3 229 170.2 230 170.2 231 170.3 232 170.5 233 170.7 234 170.9 235 171 236 171 237 170.8 238 170.4 239 170.1 240 169.8 241 169.7 242 169.7 243 169.9 244 170.1 245 170.3 246 170.3 247 170.2 248 170 249 169.8 250 169.6 251 169.6 252 169.7 253 169.8 254 170 255 170.1 256 170.1 257 170.1 258 170 259 169.9 260 169.9 261 169.9 262 170.1 263 170.2 264 170.2"/>
<path class="r" d="M48 206 49 206.7 50 207.4 51 207.9 52 208.3 53 208.4 54 208.4 55 208.4 56 208.4 57 208.5 58 208.8 59 209.1 60 209.5 61 209.8 62 210 63 210.1 64 210 65 209.9 66 209.8 67 209.8 68 209.9 69 210.2 70 210.6 71 210.9 72 211.2 73 211.2 74 211 75 210.6 76 210 77 209.4 78 208.8 79 208.3 80 207.9 81 207.4 82 207 83 206.6 84 206.1 85 205.7 86 205.3 87 205 88 204.7 89 204.6 90 204.4 91 204.1 92 203.8 93 203.2 94 202.5 95 201.6 96 200.8 97 200 98 199.4 99 199.1 100 199 101 199 102 199 103 198.9 104 198.7 105 198.2 106 197.7 107 197.1 108 196.5 109 196.1 110 195.8 111 195.7 112 195.6 113 195.6 114 195.5 115 195.3 116 195.1 117 194.8 118 194.4 119 194.1 120 193.9 121 193.8 122 193.7 123 193.6 124 193.4 125 193.2 126 192.9 127 192.5 128 192.2 129 192 130 191.9 131 191.9 132 191.8 133 191.6 134 191.3 135 190.7 136 189.9 137 188.8 138 187.6 139 186.4 140 185.1 141 183.8 142 182.4 143 180.9 144 179 145 176.8 146 174.1 147 171 148 167.5 149 163.7 150 159.7 151 155.5 152 151.2 153 146.6 154 141.8 155 136.8 156 131.3 157 125.6 158 119.6 159 113.4 160 107.4 161 101.4 162 95.7 163 90.3 164 85.2 165 80.5 166 76.2 167 72.4 168 69.1 169 66.4 170 64.3 171 63 172 62.4 173 62.6 174 63.4 175 64.8 176 66.6 177 68.9 178 71.7 179 75 180 78.8 181 83.2 182 88.1 183 93.4 184 98.9 185 104.6 186 110.2 187 115.6 188 120.6 189 125.1 190 129 191 132.6 192 135.8 193 138.9 194 141.9 195 144.6 196 147.1 197 149.3 198 151.2 199 152.8 200 154.2 201 155.5 202 156.6 203 157.7 204 158.8 205 159.8 206 160.8 207 161.6 208 162.2 209 162.7 210 163.2 211 163.5 212 163.9 213 164.4 214 164.9 215 165.4 216 165.9 217 166.3 218 166.4 219 166.5 220 166.5 221 166.4 222 166.4 223 166.6 224 166.9 225 167.3 226 167.8 227 168.2 228 168.5 229 168.6 230 168.5 231 168.4 232 168.2 233 168.1 234 168.2 235 168.4 236 168.7 237 169 238 169.3 239 169.5 240 169.5 241 169.3 242 169 243 168.8 244 168.6 245 168.5 246 168.5 247 168.5 248 168.7 249 168.7 250 168.8 251 168.8 252 168.7 253 168.7 254 168.8 255 168.9 256 169 257 169.1 258 169 259 168.8 260 168.5 261 168 262 167.5 263 167 264 166.8"/>
<path class="r" d="M48 202.2 49 202 50 202 51 202.2 52 202.7 53 203.2 54 203.6 55 203.7 56 203.7 57 203.5 58 203.5 59 203.7 60 204.2 61 204.9 62 205.5 63 206 64 206.1 65 206.1 66 206 67 206 68 206.2 69 206.5 70 206.8 71 206.8 72 206.6 73 206.1 74 205.5 75 204.9 76 204.5 77 204.3 78 204.2 79 204 80 203.6 81 203.1 82 202.4 83 201.8 84 201.4 85 201.3 86 201.2 87 201.1 88 200.8 89 200.3 90 199.6 91 198.8 92 198.2 93 197.8 94 197.5 95 197.2 96 196.9 97 196.5 98 195.9 99 195.3 100 194.8 101 194.5 102 194.3 103 194.1 104 193.8 105 193.5 106 193 107 192.4 108 191.9 109 191.5 110 191.2 111 191 112 190.8 113 190.7 114 190.4 115 190.3 116 190.1 117 190 118 190.1 119 190.1 120 190.1 121 190.1 122 190 123 189.8 124 189.5 125 189.2 126 188.9 127 188.5 128 188.1 129 187.6 130 187.1 131 186.5 132 186 133 185.5 134 185 135 184.4 136 183.7 137 182.9 138 182 139 180.9 140 179.7 141 178.3 142 176.6 143 174.5 144 172 145 169 146 165.6 147 161.9 148 157.9 149 153.6 150 148.9 151 143.8 152 138.3 153 132.4 154 126.3 155 120 156 113.8 157 107.5 158 101.4 159 95.2 160 88.9 161 82.7 162 76.5 163 70.8 164 65.5 165 60.8 166 56.8 167 53.2 168 50.2 169 47.6 170 45.7 171 44.5 172 44.2 173 45 174 46.7 175 49.3 176 52.4 177 56 178 59.9 179 64.4 180 69.3 181 74.9 182 80.9 183 87.1 184 93.3 185 99.3 186 105 187 110.4 188 115.4 189 120.2 190 124.8 191 129.1 192 133.1 193 136.6 194 139.5 195 142 196 144.2 197 146.4 198 148.5 199 150.7 200 152.7 201 154.4 202 155.5 203 156.3 204 156.8 205 157.3 206 158 207 158.9 208 159.8 209 160.6 210 161.2 211 161.5 212 161.6 213 161.8 214 162.2 215 163 216 163.9 217 164.7 218 165.3 219 165.6 220 165.7 221 165.6 222 165.6 223 165.8 224 166.2 225 166.6 226 166.8 227 166.7 228 166.3 229 165.9 230 165.6 231 165.6 232 165.9 233 166.4 234 166.9 235 167.1 236 167.2 237 167.1 238 167 239 167.1 240 167.4 241 167.8 242 168.2 243 168.4 244 168.3 245 167.9 246 167.5 247 167.2 248 167.1 249 167.2 250 167.4 251 167.5 252 167.4 253 167.1 254 166.8 255 166.5 256 166.4 257 166.6 258 166.8 259 166.9 260 166.9 261 166.7 262 166.4 263 166.1 264 165.9"/>
<path class="r" d="M48 200.2 49 200.9 50 201.7 51 202.6 52 203.2 53 203.5 54 203.7 55 203.9 56 204.2 57 204.7 58 205.3 59 205.6 60 205.6 61 205.3 62 204.8 63 204.6 64 204.6 65 204.9 66 205.2 67 205.4 68 205.4 69 205.2 70 205 71 205.1 72 205.4 73 205.9 74 206.2 75 206.1 76 205.6 77 205 78 204.3 79 203.9 80 203.7 81 203.5 82 203.1 83 202.5 84 201.7 85 200.9 86 200.3 87 200 88 199.9 89 199.8 90 199.5 91 198.9 92 198.1 93 197.3 94 196.8 95 196.6 96 196.5 97 196.3 98 195.9 99 195.2 100 194.5 101 194 102 193.7 103 193.7 104 193.7 105 193.6 106 193.2 107 192.6 108 191.9 109 191.5 110 191.4 111 191.4 112 191.4 113 191.1 114 190.6 115 190 116 189.6 117 189.4 118 189.5 119 189.7 120 189.8 121 189.6 122 189.3 123 188.8 124 188.5 125 188.5 126 188.6 127 188.7 128 188.6 129 188.1 130 187.4 131 186.7 132 186.1 133 185.8 134 185.6 135 185.2 136 184.5 137 183.5 138 182.2 139 180.8 140 179.6 141 178.3 142 176.9 143 175 144 172.4 145 169.3 146 165.7 147 162 148 158.2 149 154.2 150 149.8 151 144.8 152 139.3 153 133.4 154 127.4 155 121.4 156 115.5 157 109.7 158 103.8 159 97.6 160 91.2 161 84.9 162 78.8 163 73.3 164 68.3 165 63.7 166 59.5 167 55.4 168 51.8 169 48.9 170 47 171 46.1 172 46.2 173 47.1 174 48.6 175 50.7 176 53.4 177 56.8 178 61.2 179 66.3 180 72 181 77.8 182 83.6 183 89.2 184 94.8 185 100.5 186 106.4 187 112.4 188 117.9 189 122.7 190 126.8 191 130.3 192 133.5 193 136.7 194 139.9 195 143 196 145.8 197 148.2 198 150 199 151.6 200 153.1 201 154.7 202 156.3 203 157.8 204 159 205 159.8 206 160.3 207 160.6 208 161 209 161.7 210 162.6 211 163.4 212 163.9 213 164.2 214 164.3 215 164.5 216 164.8 217 165.4 218 166.1 219 166.7 220 167 221 166.9 222 166.8 223 166.7 224 166.9 225 167.3 226 167.8 227 168 228 168 229 167.7 230 167.5 231 167.6 232 167.9 233 168.3 234 168.8 235 168.9 236 168.8 237 168.5 238 168.4 239 168.4 240 168.7 241 169.1 242 169.4 243 169.3 244 169 245 168.7 246 168.5 247 168.7 248 169 249 169.3 250 169.3 251 169.1 252 168.7 253 168.3 254 168.1 255 168.1 256 168.3 257 168.4 258 168.3 259 167.9 260 167.5 261 167.2 262 167.2 263 167.5 264 167.9"/>
<path class="r" d="M48 206.2 49 206.5 50 207.2 51 208.1 52 208.6 53 208.7 54 208.4 55 208.2 56 208.3 57 208.9 58 209.6 59 210.1 60 210 61 209.7 62 209.6 63 209.8 64 210.4 65 211 66 211.3 67 211 68 210.6 69 210.3 70 210.4 71 210.9 72 211.2 73 211.2 74 210.7 75 210.1 76 209.6 77 209.5 78 209.6 79 209.6 80 209.1 81 208.2 82 207.3 83 206.7 84 206.5 85 206.5 86 206.3 87 205.7 88 204.9 89 204.2 90 203.8 91 203.7 92 203.7 93 203.4 94 202.8 95 202 96 201.3 97 200.9 98 200.7 99 200.5 100 200.1 101 199.4 102 198.7 103 198.1 104 197.9 105 197.9 106 197.9 107 197.7 108 197.2 109 196.8 110 196.6 111 196.5 112 196.5 113 196.3 114 195.9 115 195.4 116 194.9 117 194.5 118 194.4 119 194.3 120 194.1 121 193.8 122 193.6 123 193.5 124 193.5 125 193.7 126 193.8 127 193.7 128 193.5 129 193.1 130 192.8 131 192.6 132 192.2 133 191.6 134 190.9 135 190.1 136 189.4 137 188.7 138 188.1 139 187.3 140 186.4 141 185.2 142 183.9 143 182.6 144 181.1 145 179.3 146 177 147 174.3 148 171.2 149 167.9 150 164.5 151 160.8 152 156.9 153 152.6 154 148 155 143.3 156 138.8 157 134.4 158 130.1 159 125.6 160 120.9 161 116.1 162 111.5 163 107.4 164 103.6 165 100 166 96.4 167 92.9 168 89.8 169 87.4 170 85.9 171 85.2 172 84.9 173 85 174 85.4 175 86.5 176 88.4 177 91.1 178 94.3 179 97.8 180 101.1 181 104.4 182 108 183 111.9 184 116.3 185 120.7 186 124.9 187 128.6 188 131.9 189 135.1 190 138.3 191 141.7 192 144.8 193 147.3 194 149.3 195 150.8 196 152.4 197 154.2 198 156.1 199 157.7 200 158.8 201 159.3 202 159.7 203 160.2 204 161.1 205 162.2 206 163.1 207 163.6 208 163.6 209 163.6 210 164 211 164.7 212 165.5 213 166.1 214 166.1 215 165.8 216 165.6 217 165.8 218 166.3 219 167 220 167.3 221 167.2 222 166.9 223 166.8 224 167.1 225 167.7 226 168.3 227 168.5 228 168.3 229 167.9 230 167.6 231 167.8 232 168.3 233 168.7 234 168.7 235 168.4 236 168 237 167.9 238 168.3 239 168.8 240 169.3 241 169.3 242 169 243 168.6 244 168.5 245 168.7 246 169 247 169.1 248 168.8 249 168.3 250 167.8 251 167.7 252 168 253 168.3 254 168.5 255 168.3 256 168.1 257 167.9 258 168 259 168.3 260 168.6 261 168.5 262 168.1 263 167.6 264 167.2"/>
<path class="b" d="M48 205.8 49 206.5 50 207.1 51 207.4 52 207.6 53 207.6 54 207.7 55 207.8 56 208 57 208.2 58 208.5 59 208.7 60 208.9 61 209.1 62 209.2 63 209.3 64 209.4 65 209.5 66 209.7 67 209.9 68 210.2 69 210.4 70 210.5 71 210.5 72 210.4 73 210.1 74 209.8 75 209.5 76 209.1 77 208.8 78 208.5 79 208.2 80 207.8 81 207.3 82 206.6 83 205.8 84 204.9 85 204 86 203.2 87 202.6 88 202.2 89 202 90 201.9 91 202 92 202 93 201.9 94 201.6 95 201 96 200.3 97 199.4 98 198.5 99 197.6 100 196.7 101 196 102 195.4 103 194.8 104 194.1 105 193.3 106 192.4 107 191.2 108 189.8 109 188.2 110 186.3 111 184.2 112 181.8 113 179 114 176 115 172.6 116 169 117 165.2 118 161.4 119 157.6 120 154 121 150.7 122 147.8 123 145.2 124 143 125 141 126 139.3 127 137.7 128 136.3 129 135.1 130 134.1 131 133.4 132 132.9 133 132.7 134 132.9 135 133.4 136 134.3 137 135.5 138 137 139 138.5 140 140.2 141 141.9 142 143.7 143 145.6 144 147.5 145 149.3 146 150.9 147 152.2 148 153.1 149 153.4 150 153 151 152 152 150.3 153 147.9 154 145 155 141.6 156 137.8 157 133.6 158 129.1 159 124.4 160 119.5 161 114.5 162 109.5 163 104.7 164 100.1 165 96 166 92.4 167 89.4 168 86.9 169 85 170 83.5 171 82.4 172 81.8 173 81.7 174 82.1 175 83.1 176 84.8 177 87.1 178 90.1 179 93.7 180 97.8 181 102.1 182 106.5 183 111 184 115.4 185 119.7 186 123.8 187 127.9 188 131.7 189 135.3 190 138.7 191 141.9 192 144.9 193 147.6 194 150 195 152.2 196 154.1 197 155.7 198 157.2 199 158.5 200 159.7 201 160.8 202 161.7 203 162.5 204 163.1 205 163.6 206 163.8 207 164 208 164.2 209 164.4 210 164.7 211 165.2 212 165.7 213 166.3 214 166.9 215 167.3 216 167.7 217 167.8 218 167.8 219 167.8 220 167.7 221 167.6 222 167.6 223 167.8 224 168 225 168.2 226 168.4 227 168.5 228 168.5 229 168.4 230 168.2 231 168 232 167.9 233 167.9 234 168.1 235 168.3 236 168.6 237 168.9 238 169.2 239 169.3 240 169.3 241 169.1 242 168.9 243 168.7 244 168.6 245 168.5 246 168.5 247 168.5 248 168.5 249 168.5 250 168.3 251 168.1 252 167.9 253 167.6 254 167.5 255 167.4 256 167.5 257 167.7 258 168 259 168.2 260 168.4 261 168.4 262 168.3 263 168.1 264 167.8"/>
<path class="b" style="stroke-opacity:0.75" d="M48 208.4 49 208.7 50 209.2 51 209.8 52 210.5 53 211.1 54 211.7 55 212.3 56 212.7 57 212.9 58 213.1 59 213.3 60 213.5 61 213.7 62 213.9 63 214.2 64 214.5 65 214.7 66 214.8 67 214.8 68 214.6 69 214.3 70 214 71 213.6 72 213.3 73 213.1 74 213 75 212.9 76 212.8 77 212.7 78 212.6 79 212.3 80 211.9 81 211.4 82 210.8 83 210.1 84 209.5 85 209 86 208.5 87 208.1 88 207.7 89 207.3 90 206.9 91 206.3 92 205.7 93 205 94 204.2 95 203.4 96 202.6 97 202 98 201.5 99 201.1 100 200.8 101 200.6 102 200.2 103 199.7 104 199 105 198 106 196.7 107 195.1 108 193.3 109 191.3 110 189.1 111 186.7 112 184.2 113 181.6 114 178.8 115 175.8 116 172.6 117 169.3 118 165.9 119 162.5 120 159.2 121 156.1 122 153.3 123 150.9 124 148.8 125 147 126 145.5 127 144.3 128 143.3 129 142.3 130 141.4 131 140.5 132 139.7 133 138.9 134 138.3 135 137.9 136 138 137 138.5 138 139.3 139 140.6 140 142.1 141 143.8 142 145.6 143 147.5 144 149.3 145 151.1 146 152.7 147 154.1 148 155.2 149 155.9 150 156.1 151 155.7 152 154.6 153 152.9 154 150.5 155 147.5 156 143.9 157 140 158 135.8 159 131.6 160 127.3 161 123.2 162 119.3 163 115.5 164 111.9 165 108.5 166 105.3 167 102.3 168 99.7 169 97.4 170 95.6 171 94.3 172 93.6 173 93.4 174 93.8 175 94.6 176 95.9 177 97.5 178 99.4 179 101.5 180 103.9 181 106.5 182 109.3 183 112.5 184 115.8 185 119.4 186 123.2 187 127.1 188 131 189 134.6 190 137.8 191 140.7 192 143.1 193 145.3 194 147.1 195 148.8 196 150.3 197 151.8 198 153.1 199 154.4 200 155.6 201 156.7 202 157.6 203 158.2 204 158.8 205 159.2 206 159.5 207 159.8 208 160.1 209 160.5 210 161 211 161.6 212 162.2 213 162.7 214 163.2 215 163.5 216 163.7 217 163.7 218 163.7 219 163.6 220 163.5 221 163.5 222 163.5 223 163.7 224 164 225 164.2 226 164.5 227 164.6 228 164.7 229 164.7 230 164.6 231 164.6 232 164.5 233 164.5 234 164.6 235 164.8 236 165.1 237 165.4 238 165.6 239 165.7 240 165.6 241 165.5 242 165.2 243 164.8 244 164.5 245 164.2 246 164.1 247 164 248 164.2 249 164.3 250 164.6 251 164.7 252 164.8 253 164.9 254 164.8 255 164.6 256 164.5 257 164.3 258 164.2 259 164.2 260 164.3 261 164.4 262 164.5 263 164.5 264 164.4"/>
<path class="r" d="M48 197.1 49 197.6 50 198.2 51 198.7 52 199.1 53 199.3 54 199.4 55 199.5 56 199.6 57 199.8 58 200.2 59 200.6 60 201.1 61 201.5 62 201.8 63 202 64 202.2 65 202.2 66 202.2 67 202.1 68 201.9 69 201.7 70 201.4 71 201.2 72 201 73 201 74 201 75 201.2 76 201.4 77 201.4 78 201.2 79 200.8 80 200.2 81 199.4 82 198.7 83 198 84 197.5 85 197.2 86 197 87 196.8 88 196.5 89 196 90 195.4 91 194.8 92 194.3 93 193.8 94 193.3 95 192.9 96 192.6 97 192.2 98 191.7 99 191.3 100 190.9 101 190.6 102 190.3 103 189.9 104 189.6 105 189.1 106 188.7 107 188.3 108 188 109 187.8 110 187.8 111 187.9 112 188 113 187.9 114 187.7 115 187.3 116 186.7 117 186 118 185.4 119 185 120 184.8 121 184.8 122 184.9 123 185.1 124 185.3 125 185.3 126 185.2 127 185.1 128 185 129 184.7 130 184.5 131 184.1 132 183.7 133 183.2 134 182.5 135 181.9 136 181.2 137 180.5 138 179.7 139 178.7 140 177.5 141 175.9 142 174 143 171.9 144 169.6 145 167.1 146 164.4 147 161.5 148 158.3 149 154.6 150 150.4 151 145.6 152 140.4 153 134.9 154 129.2 155 123.4 156 117.6 157 111.8 158 105.9 159 100 160 94 161 88 162 82.1 163 76.4 164 71 165 66 166 61.4 167 57.4 168 54 169 51.3 170 49.5 171 48.5 172 48.4 173 49.3 174 50.9 175 53.1 176 55.9 177 59.2 178 62.8 179 67 180 71.6 181 76.7 182 82.2 183 88.1 184 94 185 100 186 105.7 187 111.3 188 116.5 189 121.3 190 125.7 191 129.8 192 133.7 193 137.3 194 140.6 195 143.5 196 146.1 197 148.4 198 150.5 199 152.3 200 153.9 201 155.3 202 156.5 203 157.5 204 158.4 205 159.2 206 160.1 207 161 208 162 209 163 210 163.9 211 164.5 212 164.9 213 165.1 214 165 215 165 216 165 217 165.2 218 165.7 219 166.2 220 166.8 221 167.4 222 167.8 223 168.1 224 168.3 225 168.4 226 168.5 227 168.7 228 168.8 229 168.9 230 168.9 231 168.9 232 168.8 233 168.8 234 168.8 235 168.9 236 169 237 169.1 238 169.1 239 169.1 240 169.1 241 169.1 242 169.2 243 169.5 244 169.9 245 170.2 246 170.5 247 170.5 248 170.3 249 169.9 250 169.4 251 168.9 252 168.6 253 168.5 254 168.5 255 168.7 256 169 257 169.1 258 169.2 259 169.2 260 169.1 261 168.9 262 168.7 263 168.5 264 168.4"/>
<path class="b" style="stroke-opacity:0.55" d="M48 208.6 49 209.3 50 209.8 51 210.1 52 210.4 53 210.8 54 211.2 55 211.8 56 212.2 57 212.4 58 212.4 59 212.4 60 212.5 61 212.7 62 213 63 213.3 64 213.3 65 213.3 66 213.2 67 213.3 68 213.6 69 213.8 70 213.9 71 213.8 72 213.5 73 213.3 74 213 75 212.9 76 212.6 77 212.2 78 211.6 79 210.9 80 210.3 81 209.9 82 209.6 83 209.3 84 209 85 208.5 86 208 87 207.5 88 207.2 89 206.9 90 206.6 91 206 92 205.2 93 204.3 94 203.6 95 203 96 202.5 97 202 98 201.3 99 200.5 100 199.8 101 199.3 102 198.9 103 198.5 104 198.1 105 197.4 106 196.4 107 195.3 108 194.2 109 192.9 110 191.5 111 189.6 112 187.3 113 184.7 114 181.8 115 179 116 176.1 117 173.2 118 170.2 119 167 120 163.9 121 161.1 122 158.7 123 156.7 124 155.1 125 153.6 126 152.2 127 151.1 128 150.3 129 149.9 130 149.7 131 149.6 132 149.3 133 148.9 134 148.5 135 148.5 136 148.8 137 149.4 138 150.3 139 151.3 140 152.4 141 153.7 142 155.3 143 157.2 144 159.1 145 160.7 146 162 147 162.9 148 163.4 149 163.6 150 163.5 151 162.9 152 161.7 153 159.9 154 157.5 155 154.7 156 151.8 157 148.7 158 145.5 159 142 160 138.3 161 134.5 162 130.8 163 127.4 164 124.3 165 121.5 166 118.8 167 116.2 168 113.8 169 112 170 110.6 171 109.8 172 109.3 173 109.1 174 109.2 175 109.6 176 110.5 177 112 178 114 179 116.2 180 118.5 181 121 182 123.6 183 126.6 184 129.8 185 133.2 186 136.5 187 139.7 188 142.6 189 145.2 190 147.7 191 150.1 192 152.3 193 154.2 194 155.6 195 156.8 196 157.8 197 158.9 198 160 199 161 200 161.9 201 162.5 202 163 203 163.5 204 164.2 205 165 206 165.7 207 166.3 208 166.7 209 166.9 210 167.2 211 167.6 212 168 213 168.3 214 168.4 215 168.3 216 168.1 217 167.9 218 168 219 168.1 220 168.1 221 168.1 222 167.9 223 167.8 224 167.8 225 168.1 226 168.4 227 168.7 228 168.9 229 169 230 169 231 169.2 232 169.5 233 169.8 234 169.9 235 169.9 236 169.6 237 169.4 238 169.3 239 169.3 240 169.3 241 169.2 242 169 243 168.7 244 168.5 245 168.5 246 168.6 247 168.8 248 168.9 249 168.9 250 168.7 251 168.7 252 168.8 253 169 254 169.1 255 169.1 256 168.8 257 168.5 258 168.3 259 168.2 260 168.2 261 168.2 262 168 263 167.7 264 167.5"/>
<path class="b" style="stroke-opacity:0.75" d="M48 205.9 49 206.3 50 206.6 51 206.8 52 206.9 53 207 54 207.1 55 207.4 56 207.7 57 208.1 58 208.6 59 209 60 209.3 61 209.5 62 209.5 63 209.4 64 209.3 65 209.1 66 209.1 67 209.1 68 209.3 69 209.6 70 210 71 210.3 72 210.6 73 210.7 74 210.5 75 210.1 76 209.6 77 208.9 78 208.2 79 207.5 80 206.9 81 206.4 82 206 83 205.6 84 205.3 85 204.9 86 204.4 87 203.8 88 203.1 89 202.3 90 201.6 91 201 92 200.5 93 200.1 94 199.8 95 199.6 96 199.5 97 199.2 98 198.8 99 198.3 100 197.8 101 197.1 102 196.3 103 195.6 104 194.9 105 194.1 106 193.4 107 192.5 108 191.4 109 190 110 188.3 111 186.3 112 183.8 113 181.1 114 178.1 115 174.9 116 171.6 117 168.4 118 165.1 119 162 120 158.9 121 155.9 122 153 123 150.3 124 147.7 125 145.4 126 143.4 127 141.7 128 140.4 129 139.5 130 138.9 131 138.6 132 138.4 133 138.2 134 138.1 135 138.1 136 138.2 137 138.6 138 139.3 139 140.3 140 141.7 141 143.4 142 145.4 143 147.6 144 149.8 145 151.8 146 153.6 147 155 148 155.9 149 156.3 150 156.1 151 155.3 152 154 153 152.2 154 149.9 155 147.2 156 144.1 157 140.5 158 136.6 159 132.5 160 128.1 161 123.5 162 119 163 114.6 164 110.4 165 106.6 166 103.1 167 100 168 97.4 169 95.2 170 93.4 171 92.1 172 91.3 173 91 174 91.2 175 91.9 176 93.2 177 95.1 178 97.5 179 100.4 180 103.6 181 107 182 110.6 183 114.2 184 117.8 185 121.4 186 125 187 128.6 188 132.3 189 135.8 190 139.1 191 142.1 192 145 193 147.5 194 149.8 195 151.7 196 153.3 197 154.6 198 155.7 199 156.7 200 157.7 201 158.8 202 159.9 203 161 204 162.1 205 163.2 206 164.1 207 164.8 208 165.2 209 165.5 210 165.6 211 165.6 212 165.6 213 165.8 214 166 215 166.4 216 166.9 217 167.4 218 167.8 219 168.1 220 168.3 221 168.2 222 168.1 223 167.8 224 167.5 225 167.3 226 167.3 227 167.5 228 167.8 229 168.2 230 168.6 231 169 232 169.3 233 169.4 234 169.4 235 169.2 236 169 237 168.7 238 168.6 239 168.6 240 168.7 241 168.9 242 169.2 243 169.4 244 169.6 245 169.6 246 169.5 247 169.2 248 168.9 249 168.5 250 168.2 251 168 252 167.9 253 167.9 254 168 255 168.1 256 168.3 257 168.4 258 168.4 259 168.3 260 168.2 261 168 262 167.9 263 167.8 264 167.7"/>
<path class="b" style="stroke-opacity:0.75" d="M48 201 49 201.7 50 202.3 51 202.8 52 203.1 53 203.4 54 203.7 55 204 56 204.4 57 204.6 58 204.8 59 204.9 60 204.9 61 204.9 62 205.1 63 205.3 64 205.6 65 205.9 66 206.1 67 206.2 68 206.1 69 205.9 70 205.7 71 205.7 72 205.8 73 206 74 206.1 75 206 76 205.8 77 205.4 78 204.9 79 204.3 80 203.8 81 203.2 82 202.5 83 201.8 84 200.9 85 200.1 86 199.4 87 198.8 88 198.4 89 198.1 90 198 91 197.8 92 197.5 93 197 94 196.5 95 196 96 195.5 97 195.1 98 194.8 99 194.4 100 194 101 193.5 102 192.9 103 192.2 104 191.5 105 190.8 106 190 107 189 108 187.7 109 186.1 110 184.3 111 182.3 112 180.2 113 178.2 114 176.1 115 174 116 171.8 117 169.3 118 166.6 119 163.8 120 161 121 158.2 122 155.6 123 153.1 124 150.8 125 148.6 126 146.6 127 144.9 128 143.5 129 142.4 130 141.8 131 141.4 132 141.1 133 140.8 134 140.5 135 140.2 136 140.1 137 140.4 138 141.1 139 142.3 140 143.9 141 145.7 142 147.6 143 149.6 144 151.4 145 153.1 146 154.7 147 155.9 148 156.7 149 156.9 150 156.5 151 155.5 152 153.8 153 151.7 154 149.3 155 146.6 156 143.7 157 140.5 158 137 159 133.2 160 129.1 161 125 162 120.8 163 116.8 164 113.1 165 109.6 166 106.4 167 103.5 168 100.9 169 98.7 170 97.1 171 96.1 172 95.7 173 95.8 174 96.3 175 97.3 176 98.5 177 100.2 178 102.2 179 104.8 180 107.9 181 111.3 182 115 183 118.8 184 122.6 185 126.3 186 129.8 187 133.3 188 136.5 189 139.5 190 142.2 191 144.5 192 146.6 193 148.4 194 150.1 195 151.7 196 153.3 197 154.9 198 156.5 199 157.9 200 159 201 159.8 202 160.4 203 160.8 204 161.2 205 161.6 206 162 207 162.4 208 162.7 209 162.9 210 163.1 211 163.1 212 163.2 213 163.4 214 163.6 215 163.8 216 163.9 217 164 218 163.9 219 163.9 220 164 221 164.3 222 164.7 223 165.2 224 165.7 225 166 226 166.1 227 166.1 228 165.9 229 165.7 230 165.5 231 165.3 232 165.2 233 165.1 234 164.9 235 164.7 236 164.6 237 164.6 238 164.7 239 165 240 165.3 241 165.5 242 165.6 243 165.5 244 165.4 245 165.3 246 165.2 247 165.4 248 165.6 249 165.7 250 165.8 251 165.8 252 165.6 253 165.3 254 165 255 164.8 256 164.6 257 164.4 258 164.2 259 163.9 260 163.6 261 163.4 262 163.4 263 163.5 264 163.8"/>
<path class="b" d="M48 202.8 49 203 50 203.4 51 203.9 52 204.5 53 204.7 54 204.6 55 204.3 56 204.2 57 204.6 58 205.4 59 206.3 60 206.8 61 207 62 207 63 207 64 207.2 65 207.5 66 207.5 67 207.1 68 206.5 69 206 70 206 71 206.5 72 207.2 73 207.6 74 207.5 75 207.2 76 206.7 77 206.4 78 206.1 79 205.6 80 204.7 81 203.5 82 202.3 83 201.6 84 201.4 85 201.5 86 201.6 87 201.2 88 200.7 89 200 90 199.6 91 199.4 92 199 93 198.3 94 197.3 95 196.3 96 195.5 97 195.3 98 195.3 99 195.3 100 195 101 194.3 102 193.6 103 193 104 192.6 105 192.1 106 191.2 107 189.8 108 188.2 109 186.6 110 185.2 111 183.9 112 182.3 113 180.1 114 177.3 115 174.1 116 170.9 117 167.8 118 164.7 119 161.4 120 157.9 121 154.2 122 150.9 123 148.2 124 146.1 125 144.3 126 142.4 127 140.5 128 138.6 129 137.1 130 136.1 131 135.6 132 135.1 133 134.5 134 133.7 135 133.2 136 133.4 137 134.3 138 135.6 139 136.9 140 138.1 141 139.2 142 140.5 143 142.3 144 144.2 145 146 146 147.3 147 148.1 148 148.6 149 148.9 150 149.1 151 148.8 152 147.7 153 145.5 154 142.5 155 138.9 156 135.2 157 131.4 158 127.4 159 123 160 118.4 161 113.7 162 109.5 163 105.8 164 102.6 165 99.6 166 96.4 167 93.3 168 90.4 169 88.2 170 86.7 171 85.8 172 85.2 173 84.9 174 85.1 175 86 176 88 177 90.7 178 93.9 179 97.1 180 100.2 181 103.6 182 107.2 183 111.4 184 115.7 185 119.9 186 123.8 187 127.4 188 130.8 189 134.2 190 137.7 191 140.9 192 143.5 193 145.5 194 147.2 195 148.8 196 150.6 197 152.4 198 154 199 155.2 200 155.9 201 156.5 202 157.3 203 158.3 204 159.3 205 160 206 160.2 207 160.3 208 160.4 209 160.8 210 161.5 211 162.2 212 162.6 213 162.6 214 162.5 215 162.5 216 162.9 217 163.3 218 163.6 219 163.4 220 163.1 221 162.8 222 162.9 223 163.4 224 163.9 225 164.2 226 164.2 227 164.1 228 164 229 164.3 230 164.6 231 164.9 232 164.7 233 164.2 234 163.8 235 163.6 236 163.9 237 164.4 238 164.6 239 164.6 240 164.4 241 164.2 242 164.3 243 164.7 244 164.9 245 164.8 246 164.4 247 163.8 248 163.6 249 163.7 250 164 251 164.3 252 164.2 253 163.8 254 163.5 255 163.5 256 163.8 257 164.1 258 164.1 259 163.7 260 163.2 261 162.9 262 163 263 163.3 264 163.6"/>
<path class="r" d="M48 206.6 49 207 50 207.3 51 207.6 52 207.9 53 208.4 54 208.9 55 209.4 56 209.7 57 209.8 58 209.9 59 209.9 60 210.1 61 210.4 62 210.6 63 210.7 64 210.7 65 210.8 66 210.8 67 211 68 211.3 69 211.4 70 211.4 71 211.2 72 211.1 73 210.9 74 210.8 75 210.6 76 210.4 77 210 78 209.5 79 209 80 208.7 81 208.4 82 208.2 83 207.9 84 207.5 85 206.9 86 206.4 87 205.9 88 205.5 89 205.2 90 204.7 91 204.1 92 203.4 93 202.8 94 202.3 95 202.1 96 201.9 97 201.6 98 201.1 99 200.5 100 199.9 101 199.5 102 199.3 103 199.2 104 199 105 198.5 106 197.9 107 197.4 108 197.1 109 197.1 110 197.1 111 197.1 112 196.8 113 196.2 114 195.7 115 195.3 116 195.3 117 195.3 118 195.2 119 194.9 120 194.3 121 193.8 122 193.5 123 193.6 124 193.8 125 194 126 193.8 127 193.3 128 192.7 129 192.3 130 192.1 131 192.1 132 192 133 191.4 134 190.4 135 189.3 136 188.3 137 187.5 138 186.8 139 186 140 184.6 141 182.6 142 180.3 143 177.8 144 175.4 145 173 146 170.2 147 166.8 148 162.6 149 157.9 150 153.1 151 148.3 152 143.6 153 138.7 154 133.2 155 127.1 156 120.6 157 113.9 158 107.6 159 101.7 160 95.9 161 90 162 83.8 163 77.5 164 71.7 165 66.8 166 62.8 167 59.6 168 56.8 169 54.2 170 52 171 50.5 172 50.1 173 50.9 174 52.7 175 55 176 57.6 177 60.3 178 63.6 179 67.8 180 72.8 181 78.5 182 84.3 183 89.9 184 95.2 185 100.3 186 105.6 187 111.3 188 116.8 189 121.8 190 126 191 129.3 192 132.1 193 134.7 194 137.6 195 140.7 196 143.5 197 145.8 198 147.5 199 148.8 200 150 201 151.5 202 153.3 203 154.9 204 156.2 205 156.8 206 156.9 207 157.1 208 157.6 209 158.6 210 159.6 211 160.3 212 160.6 213 160.5 214 160.4 215 160.6 216 161.3 217 162.1 218 162.7 219 162.8 220 162.6 221 162.3 222 162.3 223 162.8 224 163.5 225 164.2 226 164.4 227 164.2 228 163.9 229 163.8 230 164.2 231 164.8 232 165.3 233 165.3 234 165 235 164.4 236 164.1 237 164.2 238 164.6 239 165.1 240 165.3 241 165 242 164.6 243 164.4 244 164.6 245 165 246 165.5 247 165.7 248 165.4 249 164.9 250 164.5 251 164.4 252 164.7 253 165 254 165.2 255 164.9 256 164.5 257 164.1 258 164 259 164.2 260 164.5 261 164.7 262 164.4 263 163.9 264 163.4"/>
<path class="b" d="M48 209 49 209.4 50 209.7 51 210 52 210.3 53 210.6 54 210.9 55 211.2 56 211.7 57 212.2 58 212.6 59 212.9 60 213.1 61 213.4 62 213.6 63 213.9 64 214.1 65 214.2 66 214.1 67 213.8 68 213.4 69 213 70 212.8 71 212.8 72 213.1 73 213.4 74 213.6 75 213.7 76 213.7 77 213.5 78 213.1 79 212.6 80 211.9 81 211 82 210 83 208.9 84 207.9 85 207.3 86 206.9 87 206.8 88 206.7 89 206.7 90 206.5 91 206.1 92 205.6 93 205.1 94 204.5 95 204 96 203.3 97 202.7 98 201.9 99 201.1 100 200.3 101 199.6 102 198.9 103 198.1 104 197.2 105 196.1 106 194.7 107 193.1 108 191.4 109 189.6 110 187.6 111 185.2 112 182.5 113 179.3 114 175.7 115 171.8 116 167.8 117 163.9 118 160.1 119 156.6 120 153.3 121 150.3 122 147.6 123 145.2 124 143.2 125 141.6 126 140.1 127 138.7 128 137.4 129 136.1 130 134.9 131 134 132 133.4 133 133.1 134 133.2 135 133.7 136 134.5 137 135.8 138 137.4 139 139.4 140 141.8 141 144.4 142 147.2 143 149.9 144 152.4 145 154.8 146 156.8 147 158.4 148 159.7 149 160.3 150 160.2 151 159.3 152 157.6 153 155.2 154 152.3 155 149 156 145.3 157 141.4 158 137 159 132.3 160 127.3 161 122.1 162 116.9 163 111.7 164 106.7 165 102 166 97.6 167 93.7 168 90.3 169 87.6 170 85.6 171 84.4 172 83.9 173 83.9 174 84.3 175 85.1 176 86.2 177 87.9 178 90 179 92.8 180 96.1 181 99.9 182 103.9 183 108.1 184 112.5 185 117 186 121.6 187 126.1 188 130.4 189 134.2 190 137.5 191 140.5 192 143.1 193 145.6 194 148 195 150.3 196 152.3 197 154.1 198 155.5 199 156.7 200 157.8 201 158.8 202 159.7 203 160.7 204 161.6 205 162.4 206 163.1 207 163.7 208 164.3 209 164.8 210 165.2 211 165.5 212 165.7 213 165.7 214 165.6 215 165.6 216 165.7 217 166.1 218 166.6 219 167.1 220 167.5 221 167.7 222 167.7 223 167.7 224 167.6 225 167.6 226 167.6 227 167.6 228 167.7 229 167.7 230 167.8 231 168 232 168.2 233 168.5 234 168.7 235 168.7 236 168.5 237 168.3 238 168 239 167.8 240 167.8 241 168 242 168.2 243 168.4 244 168.6 245 168.5 246 168.5 247 168.3 248 168.2 249 168.1 250 168 251 167.8 252 167.6 253 167.5 254 167.4 255 167.5 256 167.7 257 167.9 258 167.9 259 167.8 260 167.6 261 167.3 262 167 263 166.9 264 166.9"/>
<path class="b" d="M48 208.1 49 208.4 50 208.7 51 209 52 209.3 53 209.7 54 210 55 210.5 56 210.9 57 211.3 58 211.7 59 212.1 60 212.5 61 212.8 62 213.1 63 213.3 64 213.5 65 213.6 66 213.7 67 213.7 68 213.7 69 213.6 70 213.5 71 213.4 72 213.2 73 213 74 212.7 75 212.4 76 211.9 77 211.5 78 211 79 210.6 80 210.1 81 209.6 82 209.2 83 208.8 84 208.4 85 208 86 207.7 87 207.2 88 206.8 89 206.3 90 205.8 91 205.2 92 204.7 93 204.1 94 203.5 95 202.9 96 202.3 97 201.8 98 201.2 99 200.7 100 200.2 101 199.6 102 199 103 198.3 104 197.5 105 196.6 106 195.5 107 194.2 108 192.6 109 190.8 110 188.6 111 186.2 112 183.4 113 180.4 114 177.1 115 173.6 116 170 117 166.3 118 162.6 119 158.9 120 155.4 121 152.1 122 149.1 123 146.4 124 144 125 142 126 140.3 127 138.9 128 137.9 129 137.1 130 136.5 131 136 132 135.6 133 135.1 134 134.9 135 134.9 136 135.2 137 135.8 138 136.8 139 138.1 140 139.7 141 141.5 142 143.5 143 145.6 144 147.6 145 149.5 146 151.2 147 152.4 148 153.3 149 153.5 150 153.3 151 152.4 152 150.9 153 148.7 154 146.1 155 142.9 156 139.2 157 135.3 158 131 159 126.6 160 122.1 161 117.5 162 113 163 108.7 164 104.6 165 100.8 166 97.4 167 94.3 168 91.8 169 89.7 170 88.2 171 87.2 172 86.8 173 86.9 174 87.6 175 88.7 176 90.3 177 92.4 178 94.9 179 97.7 180 100.8 181 104.1 182 107.6 183 111.3 184 115 185 118.8 186 122.6 187 126.3 188 129.9 189 133.3 190 136.3 191 139.1 192 141.7 193 144 194 146.2 195 148.1 196 150 197 151.6 198 153.2 199 154.5 200 155.8 201 156.9 202 157.9 203 158.8 204 159.6 205 160.2 206 160.8 207 161.3 208 161.7 209 162 210 162.3 211 162.5 212 162.7 213 162.9 214 163.1 215 163.2 216 163.4 217 163.5 218 163.6 219 163.8 220 164 221 164.2 222 164.3 223 164.5 224 164.7 225 164.9 226 165 227 165.2 228 165.3 229 165.4 230 165.5 231 165.6 232 165.7 233 165.8 234 165.8 235 165.9 236 165.9 237 165.8 238 165.8 239 165.8 240 165.7 241 165.6 242 165.5 243 165.5 244 165.4 245 165.3 246 165.2 247 165.2 248 165.1 249 165.1 250 165 251 165 252 165 253 165.1 254 165.1 255 165.1 256 165.1 257 165.1 258 165.2 259 165.1 260 165.1 261 165.1 262 165 263 164.9 264 164.8"/>
<path class="b" d="M48 205.5 49 205.8 50 206.2 51 206.5 52 206.8 53 207.1 54 207.4 55 207.7 56 208.1 57 208.5 58 208.8 59 209.2 60 209.5 61 209.8 62 210.1 63 210.2 64 210.4 65 210.4 66 210.4 67 210.3 68 210.1 69 209.9 70 209.8 71 209.6 72 209.5 73 209.3 74 209.2 75 209 76 208.8 77 208.6 78 208.4 79 208.1 80 207.8 81 207.5 82 207 83 206.5 84 206 85 205.4 86 204.8 87 204.2 88 203.5 89 202.9 90 202.2 91 201.6 92 201 93 200.5 94 200 95 199.5 96 199.1 97 198.6 98 198.1 99 197.6 100 197 101 196.4 102 195.7 103 195 104 194.1 105 193.2 106 192.1 107 190.9 108 189.5 109 187.8 110 185.9 111 183.7 112 181.2 113 178.4 114 175.3 115 171.9 116 168.4 117 164.8 118 161.2 119 157.7 120 154.3 121 151.2 122 148.5 123 146.1 124 144 125 142.4 126 141.1 127 140 128 139.2 129 138.6 130 138.1 131 137.6 132 137.1 133 136.6 134 136.1 135 135.9 136 135.9 137 136.2 138 137 139 138.1 140 139.6 141 141.4 142 143.5 143 145.6 144 147.7 145 149.7 146 151.4 147 152.6 148 153.4 149 153.7 150 153.3 151 152.4 152 150.9 153 148.9 154 146.4 155 143.5 156 140.3 157 136.9 158 133.2 159 129.4 160 125.5 161 121.6 162 117.6 163 113.6 164 109.8 165 106 166 102.5 167 99.3 168 96.4 169 93.8 170 91.8 171 90.2 172 89.2 173 88.7 174 88.8 175 89.4 176 90.5 177 92.2 178 94.3 179 96.8 180 99.6 181 102.7 182 106.1 183 109.8 184 113.5 185 117.5 186 121.5 187 125.5 188 129.5 189 133.4 190 136.9 191 140.1 192 143 193 145.6 194 147.8 195 149.8 196 151.5 197 152.9 198 154.1 199 155.2 200 156.1 201 156.9 202 157.6 203 158.4 204 159.1 205 159.8 206 160.5 207 161.2 208 162 209 162.6 210 163.3 211 163.8 212 164.3 213 164.7 214 165 215 165.2 216 165.3 217 165.3 218 165.3 219 165.3 220 165.2 221 165.2 222 165.2 223 165.3 224 165.4 225 165.5 226 165.7 227 165.8 228 166 229 166.2 230 166.4 231 166.5 232 166.6 233 166.7 234 166.7 235 166.7 236 166.6 237 166.5 238 166.5 239 166.4 240 166.3 241 166.3 242 166.3 243 166.3 244 166.4 245 166.5 246 166.6 247 166.7 248 166.7 249 166.8 250 166.7 251 166.7 252 166.6 253 166.5 254 166.3 255 166.1 256 165.9 257 165.7 258 165.5 259 165.4 260 165.2 261 165.2 262 165.1 263 165.1 264 165.1"/>
<path class="b" style="stroke-opacity:0.55" d="M48 205.9 49 206.4 50 206.8 51 207.2 52 207.5 53 207.8 54 208.1 55 208.5 56 209 57 209.6 58 210.1 59 210.6 60 211 61 211.3 62 211.4 63 211.3 64 211.2 65 211.1 66 211.1 67 211.1 68 211.2 69 211.3 70 211.4 71 211.5 72 211.4 73 211.2 74 210.9 75 210.4 76 210 77 209.5 78 209.2 79 208.8 80 208.5 81 208.1 82 207.7 83 207.1 84 206.4 85 205.8 86 205.1 87 204.5 88 204 89 203.6 90 203.3 91 203 92 202.7 93 202.3 94 201.8 95 201.2 96 200.6 97 200 98 199.5 99 199.1 100 198.8 101 198.5 102 198.2 103 197.7 104 197.1 105 196.2 106 195.2 107 194.1 108 192.9 109 191.7 110 190.4 111 189.1 112 187.6 113 185.9 114 184 115 181.9 116 179.5 117 177 118 174.4 119 171.8 120 169.4 121 167.1 122 165 123 163 124 161.1 125 159.4 126 157.7 127 156.2 128 154.9 129 153.8 130 153 131 152.4 132 152.1 133 151.8 134 151.6 135 151.5 136 151.5 137 151.5 138 151.7 139 152.1 140 152.7 141 153.6 142 154.8 143 156.1 144 157.5 145 158.9 146 160 147 160.9 148 161.4 149 161.5 150 161.4 151 160.9 152 160.1 153 159 154 157.6 155 155.9 156 153.8 157 151.4 158 148.7 159 145.6 160 142.5 161 139.3 162 136.1 163 133.2 164 130.4 165 127.8 166 125.4 167 123.3 168 121.3 169 119.6 170 118.1 171 117.1 172 116.5 173 116.4 174 116.8 175 117.6 176 118.9 177 120.5 178 122.2 179 124.1 180 126.2 181 128.3 182 130.4 183 132.8 184 135.2 185 137.7 186 140.2 187 142.7 188 145 189 147.1 190 148.8 191 150.2 192 151.4 193 152.6 194 153.7 195 154.8 196 155.9 197 157 198 158.1 199 159 200 159.8 201 160.5 202 160.9 203 161.3 204 161.6 205 161.9 206 162.3 207 162.7 208 163.1 209 163.4 210 163.7 211 163.7 212 163.7 213 163.6 214 163.5 215 163.4 216 163.5 217 163.6 218 163.9 219 164.1 220 164.4 221 164.5 222 164.6 223 164.5 224 164.4 225 164.2 226 164.2 227 164.2 228 164.2 229 164.4 230 164.5 231 164.7 232 164.7 233 164.6 234 164.5 235 164.4 236 164.3 237 164.3 238 164.4 239 164.6 240 164.9 241 165.1 242 165.3 243 165.3 244 165.2 245 165 246 164.8 247 164.6 248 164.4 249 164.3 250 164.3 251 164.4 252 164.4 253 164.3 254 164.2 255 163.9 256 163.7 257 163.4 258 163.3 259 163.2 260 163.3 261 163.4 262 163.6 263 163.7 264 163.7"/>
<path class="b" style="stroke-opacity:0.55" d="M48 201.9 49 202.4 50 203 51 203.4 52 203.7 53 203.7 54 203.8 55 204 56 204.4 57 204.9 58 205.5 59 206 60 206.1 61 205.9 62 205.7 63 205.5 64 205.6 65 206 66 206.4 67 206.9 68 207.1 69 207.1 70 207 71 206.8 72 206.6 73 206.5 74 206.4 75 206.2 76 205.8 77 205.4 78 204.9 79 204.4 80 204 81 203.4 82 202.8 83 202 84 201.3 85 200.6 86 200.2 87 200.1 88 200 89 199.9 90 199.5 91 198.8 92 198 93 197.1 94 196.4 95 196 96 195.9 97 195.7 98 195.5 99 195 100 194.4 101 193.6 102 192.9 103 192.3 104 191.8 105 191.2 106 190.6 107 189.9 108 189 109 188 110 186.9 111 185.6 112 184.1 113 182.2 114 180.1 115 177.8 116 175.6 117 173.4 118 171.4 119 169.4 120 167.2 121 164.8 122 162.2 123 159.7 124 157.6 125 155.9 126 154.7 127 154 128 153.4 129 152.8 130 152.1 131 151.4 132 150.8 133 150.4 134 150.2 135 150.3 136 150.7 137 151.2 138 151.9 139 152.8 140 153.9 141 155.2 142 156.5 143 157.8 144 159 145 160 146 160.9 147 161.8 148 162.6 149 163.1 150 163.1 151 162.5 152 161.1 153 159.2 154 156.9 155 154.6 156 152.3 157 149.9 158 147.5 159 144.7 160 141.5 161 138.1 162 134.7 163 131.4 164 128.4 165 125.7 166 123.3 167 121.2 168 119.3 169 117.6 170 116.3 171 115.4 172 114.8 173 114.6 174 114.6 175 115 176 115.8 177 117.1 178 118.9 179 121 180 123.4 181 125.8 182 128 183 130.2 184 132.3 185 134.7 186 137.4 187 140.3 188 143.2 189 145.9 190 148 191 149.6 192 150.9 193 152.1 194 153.3 195 154.5 196 155.8 197 157 198 158 199 158.9 200 159.6 201 160.3 202 160.8 203 161.3 204 161.7 205 161.9 206 162.1 207 162.4 208 162.8 209 163.3 210 163.9 211 164.2 212 164.3 213 164 214 163.6 215 163.3 216 163.3 217 163.6 218 164.1 219 164.6 220 164.9 221 164.9 222 164.6 223 164.3 224 164.1 225 164.2 226 164.4 227 164.8 228 165.1 229 165.3 230 165.3 231 165.4 232 165.3 233 165.3 234 165.2 235 165 236 164.9 237 164.8 238 164.8 239 165.1 240 165.3 241 165.5 242 165.5 243 165.2 244 164.7 245 164.3 246 164.1 247 164.2 248 164.6 249 165.1 250 165.4 251 165.4 252 165.1 253 164.6 254 164.2 255 164 256 164.1 257 164.3 258 164.5 259 164.6 260 164.5 261 164.3 262 164.1 263 163.9 264 163.7"/>
<path class="r" d="M48 206.5 49 206.7 50 207 51 207.6 52 208.1 53 208.6 54 208.8 55 208.8 56 208.8 57 208.9 58 209.2 59 209.6 60 210 61 210.2 62 210.1 63 209.8 64 209.5 65 209.2 66 209.3 67 209.5 68 209.9 69 210.3 70 210.4 71 210.5 72 210.4 73 210.4 74 210.5 75 210.7 76 210.8 77 210.6 78 210.2 79 209.4 80 208.6 81 207.8 82 207.2 83 206.9 84 206.8 85 206.5 86 206.2 87 205.5 88 204.8 89 204.1 90 203.6 91 203.2 92 202.9 93 202.5 94 201.9 95 201.2 96 200.4 97 199.7 98 199.4 99 199.3 100 199.5 101 199.6 102 199.5 103 199.2 104 198.7 105 198.2 106 197.9 107 197.7 108 197.6 109 197.3 110 196.9 111 196.3 112 195.7 113 195.1 114 194.8 115 194.7 116 194.8 117 194.9 118 194.8 119 194.4 120 193.9 121 193.4 122 193 123 192.9 124 192.9 125 192.9 126 192.8 127 192.5 128 192.1 129 191.8 130 191.6 131 191.6 132 191.7 133 191.8 134 191.4 135 190.8 136 189.7 137 188.5 138 187.3 139 186.2 140 185 141 183.6 142 181.9 143 179.7 144 177.1 145 174.3 146 171.4 147 168.3 148 165 149 161.4 150 157.3 151 152.5 152 147.3 153 141.7 154 136.1 155 130.4 156 124.8 157 119.1 158 113.2 159 107.1 160 100.8 161 94.6 162 88.7 163 83.1 164 77.9 165 73.1 166 68.5 167 64.1 168 60.1 169 56.7 170 54.1 171 52.4 172 51.8 173 51.9 174 52.8 175 54.3 176 56.2 177 58.8 178 62.1 179 66.2 180 70.9 181 76 182 81.3 183 86.6 184 92 185 97.3 186 102.8 187 108.5 188 114.3 189 119.7 190 124.6 191 128.8 192 132.3 193 135.4 194 138.2 195 140.8 196 143.3 197 145.6 198 147.6 199 149.2 200 150.5 201 151.6 202 152.7 203 153.9 204 155.2 205 156.5 206 157.7 207 158.6 208 159.1 209 159.5 210 159.8 211 160.3 212 160.9 213 161.5 214 162.2 215 162.6 216 162.8 217 163 218 163.2 219 163.6 220 164.2 221 164.9 222 165.5 223 165.7 224 165.7 225 165.4 226 165.1 227 164.9 228 165 229 165.2 230 165.4 231 165.5 232 165.5 233 165.3 234 165.2 235 165.3 236 165.7 237 166.1 238 166.5 239 166.7 240 166.6 241 166.3 242 166.1 243 166 244 166.1 245 166.5 246 166.8 247 167 248 167 249 166.9 250 166.7 251 166.6 252 166.6 253 166.8 254 166.8 255 166.7 256 166.3 257 165.7 258 165.1 259 164.7 260 164.6 261 164.8 262 165 263 165.2 264 165.2"/>
<path class="b" style="stroke-opacity:0.55" d="M48 201.8 49 202 50 202 51 202 52 202 53 202.3 54 202.7 55 203.3 56 203.9 57 204.2 58 204.4 59 204.4 60 204.5 61 204.7 62 205.2 63 205.7 64 206.2 65 206.4 66 206.4 67 206.1 68 205.7 69 205.5 70 205.5 71 205.7 72 205.9 73 206 74 205.8 75 205.3 76 204.7 77 204.1 78 203.6 79 203.3 80 203.1 81 202.9 82 202.4 83 201.8 84 201 85 200.2 86 199.6 87 199.2 88 199 89 198.8 90 198.6 91 198.1 92 197.4 93 196.6 94 195.9 95 195.3 96 195 97 194.8 98 194.5 99 194 100 193.3 101 192.4 102 191.6 103 190.9 104 190.4 105 190 106 189.6 107 189 108 188 109 186.7 110 185.1 111 183.4 112 181.7 113 179.9 114 178 115 175.8 116 173.3 117 170.4 118 167.3 119 164.2 120 161.4 121 159 122 156.9 123 155.1 124 153.4 125 151.7 126 150.2 127 148.8 128 147.7 129 147.1 130 146.8 131 146.7 132 146.6 133 146.2 134 145.7 135 145.1 136 144.7 137 144.8 138 145.3 139 146.2 140 147.4 141 148.7 142 149.9 143 151.1 144 152.3 145 153.6 146 155 147 156.3 148 157.4 149 157.9 150 157.9 151 157.1 152 155.8 153 154.1 154 152.1 155 150 156 147.6 157 144.9 158 141.8 159 138.3 160 134.5 161 130.6 162 126.9 163 123.4 164 120.2 165 117.2 166 114.4 167 111.6 168 108.9 169 106.6 170 104.7 171 103.6 172 103.1 173 103.2 174 103.8 175 104.6 176 105.6 177 106.8 178 108.4 179 110.4 180 112.9 181 115.8 182 118.9 183 122 184 125 185 127.8 186 130.6 187 133.6 188 136.7 189 140 190 143.2 191 146 192 148.5 193 150.6 194 152.3 195 153.8 196 155.3 197 156.8 198 158.4 199 159.7 200 160.8 201 161.5 202 161.9 203 162.1 204 162.5 205 163 206 163.7 207 164.4 208 165.1 209 165.6 210 165.8 211 165.9 212 166 213 166.2 214 166.6 215 167.1 216 167.5 217 167.7 218 167.7 219 167.4 220 167.2 221 167 222 167.2 223 167.5 224 167.9 225 168.3 226 168.5 227 168.4 228 168.3 229 168.2 230 168.2 231 168.4 232 168.8 233 169 234 169.1 235 168.9 236 168.6 237 168.2 238 168 239 168 240 168.3 241 168.7 242 168.9 243 169 244 168.9 245 168.6 246 168.4 247 168.4 248 168.5 249 168.7 250 168.9 251 168.8 252 168.6 253 168.1 254 167.7 255 167.4 256 167.4 257 167.6 258 167.9 259 168.1 260 168.1 261 167.9 262 167.6 263 167.3 264 167.3"/>
<path class="b" style="stroke-opacity:0.75" d="M48 202.5 49 203.1 50 203.8 51 204.5 52 205.1 53 205.7 54 206.2 55 206.6 56 206.9 57 207 58 207.1 59 207.1 60 207.1 61 206.9 62 206.8 63 206.7 64 206.7 65 206.7 66 206.7 67 206.9 68 207 69 207.2 70 207.4 71 207.6 72 207.8 73 207.9 74 207.9 75 207.7 76 207.4 77 207 78 206.5 79 205.9 80 205.3 81 204.6 82 204 83 203.4 84 202.8 85 202.3 86 201.8 87 201.3 88 200.9 89 200.4 90 199.9 91 199.4 92 198.9 93 198.4 94 197.9 95 197.4 96 196.8 97 196.3 98 195.9 99 195.4 100 194.9 101 194.4 102 193.9 103 193.2 104 192.5 105 191.7 106 190.8 107 189.6 108 188.3 109 186.8 110 185.1 111 183.2 112 181 113 178.7 114 176.3 115 173.7 116 171 117 168.3 118 165.6 119 162.9 120 160.2 121 157.7 122 155.3 123 153.1 124 151 125 149.2 126 147.6 127 146.1 128 144.9 129 144 130 143.2 131 142.6 132 142.1 133 141.8 134 141.6 135 141.6 136 141.9 137 142.6 138 143.6 139 144.9 140 146.6 141 148.4 142 150.4 143 152.5 144 154.5 145 156.3 146 157.8 147 159 148 159.7 149 159.9 150 159.6 151 158.8 152 157.4 153 155.5 154 153.2 155 150.4 156 147.3 157 143.9 158 140.3 159 136.5 160 132.6 161 128.6 162 124.6 163 120.7 164 116.9 165 113.2 166 109.9 167 106.8 168 104.1 169 101.8 170 100 171 98.7 172 97.9 173 97.6 174 97.8 175 98.5 176 99.6 177 101.2 178 103.3 179 105.7 180 108.4 181 111.4 182 114.6 183 118 184 121.6 185 125.3 186 129 187 132.6 188 136.2 189 139.4 190 142.4 191 145.1 192 147.5 193 149.6 194 151.5 195 153.1 196 154.6 197 155.8 198 156.8 199 157.7 200 158.5 201 159.2 202 159.8 203 160.3 204 160.8 205 161.3 206 161.8 207 162.2 208 162.7 209 163.1 210 163.5 211 163.8 212 164.1 213 164.3 214 164.5 215 164.7 216 164.8 217 164.8 218 164.9 219 164.9 220 165 221 165.1 222 165.1 223 165.2 224 165.4 225 165.5 226 165.6 227 165.7 228 165.9 229 166 230 166 231 166 232 166 233 166 234 165.9 235 165.8 236 165.8 237 165.7 238 165.6 239 165.6 240 165.5 241 165.5 242 165.6 243 165.6 244 165.7 245 165.8 246 165.8 247 165.8 248 165.9 249 165.9 250 165.8 251 165.8 252 165.7 253 165.6 254 165.5 255 165.4 256 165.3 257 165.2 258 165.1 259 165 260 165 261 164.9 262 164.8 263 164.7 264 164.6"/>
<path class="b" style="stroke-opacity:0.55" d="M48 200.2 49 200.3 50 200.5 51 200.9 52 201.5 53 202.2 54 202.7 55 203 56 203.1 57 203.2 58 203.4 59 203.8 60 204.3 61 204.8 62 205.2 63 205.3 64 205.1 65 204.7 66 204.4 67 204.4 68 204.5 69 204.7 70 204.9 71 205 72 204.9 73 204.8 74 204.6 75 204.6 76 204.5 77 204.4 78 204.1 79 203.6 80 202.8 81 201.9 82 201 83 200.2 84 199.6 85 199.1 86 198.7 87 198.2 88 197.9 89 197.5 90 197.3 91 197 92 196.8 93 196.4 94 195.9 95 195.3 96 194.6 97 194 98 193.4 99 192.8 100 192.2 101 191.6 102 190.9 103 190.3 104 189.9 105 189.5 106 189.2 107 188.7 108 188 109 186.8 110 185.4 111 183.6 112 181.8 113 179.9 114 178 115 176 116 173.8 117 171.4 118 168.8 119 166.2 120 163.9 121 161.9 122 160.2 123 158.8 124 157.3 125 155.8 126 154.3 127 152.9 128 151.7 129 151 130 150.6 131 150.4 132 150.2 133 149.9 134 149.4 135 149.1 136 149 137 149.4 138 150.2 139 151.2 140 152.4 141 153.5 142 154.5 143 155.5 144 156.6 145 157.6 146 158.6 147 159.5 148 159.9 149 160 150 159.5 151 158.6 152 157.4 153 155.8 154 154.1 155 152.1 156 149.7 157 147.1 158 144.3 159 141.3 160 138.3 161 135.2 162 132.1 163 129 164 125.9 165 123 166 120.2 167 117.8 168 115.8 169 114.2 170 112.9 171 112 172 111.5 173 111.4 174 111.9 175 112.9 176 114.5 177 116.3 178 118.3 179 120.3 180 122.3 181 124.5 182 127 183 129.8 184 132.8 185 136 186 139.1 187 142 188 144.6 189 147 190 149.4 191 151.7 192 154 193 156 194 157.7 195 158.8 196 159.6 197 160.1 198 160.6 199 161.3 200 162.1 201 163 202 163.7 203 164.3 204 164.7 205 165 206 165.4 207 165.9 208 166.5 209 167 210 167.4 211 167.4 212 167.3 213 167 214 166.7 215 166.6 216 166.7 217 166.8 218 167 219 167.2 220 167.3 221 167.4 222 167.6 223 167.8 224 168 225 168.2 226 168.3 227 168.3 228 168.2 229 168.1 230 168 231 168 232 167.9 233 167.9 234 167.8 235 167.8 236 167.8 237 167.9 238 168.1 239 168.3 240 168.4 241 168.4 242 168.2 243 168.1 244 168 245 168 246 168.2 247 168.3 248 168.2 249 168 250 167.6 251 167.2 252 167 253 167 254 167.2 255 167.5 256 167.6 257 167.6 258 167.4 259 167.1 260 167 261 167.1 262 167.3 263 167.5 264 167.4"/>
<path class="b" style="stroke-opacity:0.75" d="M48 209.9 49 210.3 50 210.6 51 211 52 211.4 53 211.9 54 212.3 55 212.7 56 213 57 213.1 58 213 59 212.9 60 212.7 61 212.7 62 212.8 63 213.1 64 213.4 65 213.7 66 213.9 67 214 68 214 69 213.9 70 213.9 71 214 72 214.2 73 214.4 74 214.4 75 214.4 76 214 77 213.5 78 212.9 79 212.1 80 211.4 81 210.8 82 210.3 83 209.9 84 209.6 85 209.2 86 208.7 87 208.1 88 207.4 89 206.7 90 206.1 91 205.6 92 205.2 93 204.8 94 204.5 95 204 96 203.5 97 202.8 98 202.1 99 201.5 100 200.9 101 200.4 102 200.1 103 199.7 104 199.3 105 198.7 106 197.8 107 196.7 108 195.4 109 193.8 110 192.2 111 190.4 112 188.4 113 186.2 114 183.8 115 181 116 177.9 117 174.6 118 171.1 119 167.7 120 164.5 121 161.4 122 158.7 123 156.2 124 154 125 151.9 126 150 127 148.3 128 146.9 129 145.9 130 145.1 131 144.7 132 144.5 133 144.4 134 144.2 135 144 136 143.8 137 143.7 138 143.9 139 144.4 140 145.2 141 146.5 142 147.9 143 149.5 144 151.1 145 152.5 146 153.7 147 154.6 148 155.3 149 155.6 150 155.6 151 155.3 152 154.6 153 153.3 154 151.4 155 149 156 146.1 157 142.7 158 139.1 159 135.5 160 131.8 161 128.2 162 124.7 163 121.2 164 117.9 165 114.6 166 111.5 167 108.6 168 106.2 169 104.3 170 102.9 171 102 172 101.6 173 101.6 174 102 175 102.7 176 103.7 177 105 178 106.8 179 109.1 180 111.7 181 114.8 182 118 183 121.4 184 124.7 185 128.1 186 131.4 187 134.6 188 137.9 189 141.1 190 144.1 191 146.9 192 149.6 193 151.9 194 153.9 195 155.6 196 157 197 158.2 198 159.3 199 160.4 200 161.4 201 162.3 202 163.1 203 163.7 204 164.1 205 164.3 206 164.4 207 164.5 208 164.6 209 164.9 210 165.3 211 165.8 212 166.2 213 166.6 214 166.9 215 167 216 167.1 217 167.2 218 167.4 219 167.7 220 168.1 221 168.5 222 168.7 223 168.9 224 168.8 225 168.7 226 168.4 227 168.3 228 168.2 229 168.2 230 168.4 231 168.6 232 168.8 233 168.8 234 168.8 235 168.7 236 168.6 237 168.5 238 168.5 239 168.6 240 168.8 241 169 242 169.1 243 169 244 168.8 245 168.5 246 168.2 247 168 248 167.9 249 167.9 250 168.1 251 168.2 252 168.4 253 168.4 254 168.3 255 168.2 256 168.1 257 168 258 168.1 259 168.3 260 168.5 261 168.6 262 168.6 263 168.5 264 168.1"/>
<path class="b" style="stroke-opacity:0.55" d="M48 205.4 49 205.7 50 206.1 51 206.5 52 206.9 53 207.4 54 207.9 55 208.5 56 209 57 209.5 58 209.8 59 210 60 210.1 61 210.1 62 210.1 63 210.1 64 210.1 65 210.2 66 210.4 67 210.6 68 210.8 69 211 70 211 71 210.9 72 210.7 73 210.4 74 210 75 209.6 76 209.2 77 208.9 78 208.6 79 208.4 80 208.1 81 207.7 82 207.2 83 206.6 84 205.9 85 205.2 86 204.5 87 203.9 88 203.3 89 202.9 90 202.6 91 202.4 92 202.1 93 201.8 94 201.3 95 200.7 96 200 97 199.2 98 198.5 99 197.8 100 197.3 101 196.9 102 196.6 103 196.2 104 195.8 105 195.2 106 194.3 107 193.1 108 191.6 109 189.9 110 187.9 111 185.9 112 183.8 113 181.7 114 179.6 115 177.3 116 175 117 172.5 118 169.9 119 167.1 120 164.3 121 161.5 122 158.9 123 156.5 124 154.6 125 153 126 151.8 127 150.9 128 150.2 129 149.6 130 149.1 131 148.5 132 147.9 133 147.3 134 146.7 135 146.3 136 146.3 137 146.6 138 147.3 139 148.3 140 149.6 141 151.1 142 152.6 143 154 144 155.4 145 156.7 146 157.8 147 158.8 148 159.6 149 160.1 150 160.3 151 160 152 159.3 153 157.9 154 156.1 155 153.7 156 150.8 157 147.5 158 144 159 140.3 160 136.7 161 133 162 129.4 163 126 164 122.6 165 119.4 166 116.3 167 113.5 168 110.9 169 108.8 170 107.1 171 105.9 172 105.3 173 105.3 174 105.7 175 106.7 176 108 177 109.7 178 111.7 179 114 180 116.6 181 119.3 182 122.3 183 125.4 184 128.7 185 132 186 135.2 187 138.4 188 141.3 189 143.9 190 146.2 191 148.1 192 149.9 193 151.4 194 152.8 195 154.1 196 155.2 197 156.3 198 157.2 199 158 200 158.7 201 159.3 202 159.8 203 160.3 204 160.8 205 161.3 206 161.9 207 162.5 208 163.1 209 163.6 210 164 211 164.4 212 164.6 213 164.7 214 164.7 215 164.8 216 164.9 217 165 218 165.2 219 165.4 220 165.5 221 165.6 222 165.6 223 165.4 224 165.2 225 164.9 226 164.6 227 164.4 228 164.3 229 164.4 230 164.6 231 164.9 232 165.2 233 165.5 234 165.7 235 165.7 236 165.7 237 165.6 238 165.5 239 165.5 240 165.6 241 165.7 242 166 243 166.3 244 166.5 245 166.6 246 166.6 247 166.4 248 166 249 165.5 250 165 251 164.7 252 164.4 253 164.3 254 164.4 255 164.6 256 164.7 257 164.8 258 164.8 259 164.7 260 164.4 261 164.1 262 163.9 263 163.7 264 163.7"/>
<path class="r" d="M48 201.8 49 201.8 50 202.1 51 202.6 52 203.2 53 203.8 54 204.1 55 204.2 56 204.3 57 204.6 58 205.1 59 205.7 60 206 61 206 62 205.8 63 205.7 64 205.8 65 206 66 206.3 67 206.3 68 206.1 69 205.8 70 205.7 71 205.8 72 206.1 73 206.3 74 206.3 75 206 76 205.5 77 205.2 78 205.1 79 205 80 204.8 81 204.3 82 203.5 83 202.7 84 202.1 85 201.8 86 201.5 87 201.1 88 200.5 89 199.7 90 199 91 198.5 92 198.4 93 198.3 94 198.1 95 197.6 96 197.1 97 196.6 98 196.3 99 196.2 100 196.1 101 195.8 102 195.1 103 194.3 104 193.7 105 193.3 106 193 107 192.8 108 192.4 109 191.8 110 191.3 111 191 112 191 113 191.2 114 191.4 115 191.3 116 191 117 190.7 118 190.5 119 190.6 120 190.6 121 190.5 122 190.1 123 189.4 124 188.9 125 188.5 126 188.5 127 188.4 128 188.3 129 187.9 130 187.4 131 187.1 132 187 133 187.1 134 187.1 135 186.8 136 186.1 137 185.2 138 184.2 139 183.3 140 182.3 141 181.1 142 179.3 143 177.1 144 174.7 145 172.2 146 169.8 147 167.2 148 164.3 149 160.9 150 157 151 153 152 148.8 153 144.6 154 140.1 155 135.2 156 129.8 157 124.1 158 118.3 159 112.6 160 107.1 161 101.7 162 96.2 163 90.7 164 85.4 165 80.7 166 76.6 167 73.3 168 70.5 169 68 170 65.9 171 64.4 172 63.7 173 63.9 174 64.9 175 66.3 176 68.1 177 70.2 178 72.9 179 76.2 180 80.2 181 84.7 182 89.4 183 94 184 98.7 185 103.5 186 108.7 187 114 188 119.3 189 123.9 190 127.8 191 131.3 192 134.4 193 137.5 194 140.4 195 142.9 196 145 197 146.6 198 148 199 149.4 200 151 201 152.5 202 153.9 203 155 204 155.8 205 156.6 206 157.4 207 158.4 208 159.4 209 160.2 210 160.6 211 160.8 212 160.9 213 161.1 214 161.5 215 161.9 216 162.2 217 162.2 218 162.1 219 162.1 220 162.5 221 163 222 163.6 223 164 224 164.2 225 164.2 226 164.3 227 164.6 228 165 229 165.3 230 165.3 231 165.1 232 164.7 233 164.5 234 164.6 235 164.8 236 165 237 165 238 164.8 239 164.7 240 164.9 241 165.3 242 165.8 243 166.1 244 166.1 245 165.9 246 165.7 247 165.6 248 165.7 249 165.8 250 165.6 251 165.2 252 164.7 253 164.3 254 164.3 255 164.4 256 164.6 257 164.7 258 164.6 259 164.4 260 164.4 261 164.7 262 165.1 263 165.3 264 165.2"/>
<path class="r" d="M48 198.4 49 198.7 50 199.1 51 199.5 52 200 53 200.4 54 200.7 55 201 56 201.2 57 201.4 58 201.7 59 202 60 202.4 61 202.8 62 203 63 203.1 64 203 65 202.9 66 202.7 67 202.6 68 202.6 69 202.7 70 202.8 71 202.9 72 202.9 73 202.7 74 202.5 75 202.3 76 202.1 77 202 78 201.9 79 201.8 80 201.5 81 201.1 82 200.6 83 199.9 84 199.3 85 198.7 86 198.2 87 197.7 88 197.3 89 196.8 90 196.2 91 195.6 92 195 93 194.4 94 193.9 95 193.7 96 193.5 97 193.4 98 193.3 99 193 100 192.7 101 192.2 102 191.8 103 191.3 104 190.9 105 190.6 106 190.3 107 190 108 189.5 109 189 110 188.5 111 188 112 187.7 113 187.5 114 187.5 115 187.5 116 187.6 117 187.5 118 187.4 119 187.2 120 186.9 121 186.7 122 186.6 123 186.5 124 186.5 125 186.4 126 186.1 127 185.8 128 185.4 129 185 130 184.7 131 184.5 132 184.4 133 184.3 134 184.2 135 183.9 136 183.5 137 182.8 138 182.1 139 181.3 140 180.4 141 179.5 142 178.5 143 177.2 144 175.7 145 173.9 146 171.8 147 169.4 148 167 149 164.4 150 161.8 151 159 152 156 153 152.8 154 149.2 155 145.5 156 141.5 157 137.5 158 133.5 159 129.5 160 125.6 161 121.8 162 117.9 163 114.1 164 110.4 165 106.9 166 103.8 167 101.2 168 99 169 97.4 170 96.3 171 95.5 172 95.1 173 95.1 174 95.6 175 96.5 176 98 177 100 178 102.4 179 105.1 180 108 181 111 182 114.1 183 117.3 184 120.6 185 124 186 127.5 187 131.1 188 134.5 189 137.5 190 140.2 191 142.5 192 144.5 193 146.4 194 148.2 195 149.9 196 151.5 197 153 198 154.3 199 155.3 200 156.2 201 156.9 202 157.5 203 158.2 204 158.8 205 159.5 206 160.2 207 160.7 208 161.1 209 161.3 210 161.4 211 161.5 212 161.7 213 161.9 214 162.2 215 162.4 216 162.7 217 162.8 218 162.8 219 162.7 220 162.8 221 162.9 222 163.1 223 163.5 224 163.8 225 164.1 226 164.3 227 164.4 228 164.4 229 164.4 230 164.4 231 164.5 232 164.7 233 164.8 234 164.9 235 164.8 236 164.7 237 164.5 238 164.3 239 164.2 240 164.2 241 164.4 242 164.6 243 164.8 244 164.9 245 164.9 246 164.8 247 164.7 248 164.7 249 164.8 250 164.9 251 165 252 165 253 164.9 254 164.6 255 164.3 256 164 257 163.8 258 163.6 259 163.6 260 163.7 261 163.8 262 163.8 263 163.7 264 163.5"/>
</g></svg>
<svg x="319.8" y="30.1" width="215.2" height="210.6" viewBox="319.8 30.1 215.2 210.6" overflow="hidden">
<g fill="none" stroke-linejoin="round" stroke-linecap="round">
<path class="c" d="M320 206.4 321 206.8 322 207.3 323 208 324 208.6 325 209.3 326 209.7 327 210 328 210.1 329 210.2 330 210.3 331 210.5 332 210.8 333 211.2 334 211.6 335 212 336 212.2 337 212.4 338 212.5 339 212.7 340 212.9 341 213.2 342 213.5 343 213.7 344 213.8 345 213.9 346 214 347 214.1 348 214.3 349 214.6 350 215 351 215.2 352 215.4 353 215.4 354 215.3 355 215.2 356 215.2 357 215.4 358 215.6 359 215.9 360 216.1 361 216.3 362 216.2 363 216.1 364 215.9 365 215.8 366 215.7 367 215.7 368 215.7 369 215.7 370 215.6 371 215.4 372 215.2 373 215 374 214.8 375 214.7 376 214.5 377 214.3 378 214.1 379 213.7 380 213.3 381 212.9 382 212.7 383 212.6 384 212.6 385 212.7 386 212.6 387 212.4 388 212 389 211.4 390 210.9 391 210.3 392 209.9 393 209.6 394 209.5 395 209.3 396 209.1 397 208.9 398 208.7 399 208.4 400 208.2 401 207.9 402 207.6 403 207.1 404 206.4 405 205.7 406 204.9 407 204.2 408 203.7 409 203.4 410 203.3 411 203.2 412 203.1 413 202.8 414 202.4 415 201.7 416 201 417 200.3 418 199.7 419 199.2 420 198.7 421 198.3 422 197.8 423 197.4 424 197 425 196.6 426 196.4 427 196.1 428 195.8 429 195.4 430 194.9 431 194.2 432 193.5 433 192.9 434 192.3 435 192 436 191.9 437 191.7 438 191.6 439 191.3 440 190.8 441 190.2 442 189.6 443 189 444 188.4 445 188 446 187.5 447 187.1 448 186.7 449 186.3 450 185.9 451 185.5 452 185.3 453 185 454 184.8 455 184.4 456 183.9 457 183.3 458 182.6 459 182 460 181.4 461 181.1 462 180.8 463 180.6 464 180.4 465 180.1 466 179.7 467 179.2 468 178.7 469 178.3 470 178 471 177.7 472 177.5 473 177.2 474 176.8 475 176.3 476 175.8 477 175.3 478 174.9 479 174.6 480 174.4 481 174.1 482 173.8 483 173.4 484 173 485 172.6 486 172.4 487 172.2 488 172.1 489 171.9 490 171.6 491 171.2 492 170.6 493 170 494 169.4 495 169 496 168.7 497 168.6 498 168.6 499 168.5 500 168.3 501 168 502 167.7 503 167.3 504 167 505 166.7 506 166.4 507 166.1 508 165.8 509 165.7 510 165.7 511 165.9 512 166.6 513 167.6 514 168.9 515 170.3 516 171.7 517 172.9 518 173.7 519 174 520 173.5 521 172.3 522 170.8 523 169.2 524 167.5 525 166 526 164.5 527 163.2 528 162 529 161 530 160.3 531 159.6 532 159.1 533 158.5 534 158 535 157.6"/>
<path class="c" d="M320 208.1 321 208.6 322 209.2 323 209.7 324 210.2 325 210.6 326 210.9 327 211.1 328 211.4 329 211.7 330 212.1 331 212.6 332 213.2 333 213.9 334 214.6 335 215.3 336 215.9 337 216.3 338 216.6 339 216.8 340 217 341 217.1 342 217.4 343 217.9 344 218.5 345 219.2 346 220 347 220.7 348 221.4 349 222 350 222.4 351 222.7 352 223 353 223.2 354 223.4 355 223.7 356 224.1 357 224.5 358 225 359 225.4 360 225.8 361 226.1 362 226.3 363 226.3 364 226.3 365 226.3 366 226.1 367 226 368 225.8 369 225.5 370 225.2 371 224.9 372 224.6 373 224.3 374 224 375 223.7 376 223.6 377 223.4 378 223.3 379 223.1 380 222.9 381 222.5 382 222.1 383 221.5 384 221 385 220.4 386 220 387 219.6 388 219.4 389 219.3 390 219.2 391 219.1 392 218.9 393 218.5 394 218 395 217.4 396 216.7 397 216 398 215.3 399 214.7 400 214.2 401 213.8 402 213.5 403 213.2 404 212.8 405 212.4 406 211.9 407 211.3 408 210.6 409 210 410 209.4 411 208.8 412 208.3 413 207.8 414 207.3 415 206.7 416 206.1 417 205.5 418 204.8 419 204.1 420 203.4 421 202.8 422 202.3 423 201.9 424 201.5 425 201.1 426 200.7 427 200.2 428 199.6 429 199 430 198.4 431 197.8 432 197.3 433 196.8 434 196.5 435 196.2 436 195.9 437 195.6 438 195.2 439 194.8 440 194.2 441 193.6 442 193 443 192.4 444 191.8 445 191.3 446 190.9 447 190.5 448 190.1 449 189.7 450 189.3 451 188.9 452 188.4 453 188.1 454 187.7 455 187.3 456 187 457 186.7 458 186.3 459 185.8 460 185.3 461 184.8 462 184.2 463 183.6 464 183 465 182.6 466 182.3 467 182.1 468 181.9 469 181.7 470 181.4 471 181.1 472 180.6 473 180 474 179.3 475 178.6 476 178 477 177.6 478 177.3 479 177.1 480 177.1 481 177 482 177 483 176.8 484 176.4 485 175.9 486 175.3 487 174.6 488 174 489 173.4 490 172.9 491 172.6 492 172.4 493 172.2 494 172 495 171.8 496 171.5 497 171.2 498 170.8 499 170.5 500 170.1 501 169.7 502 169.3 503 169 504 168.7 505 168.3 506 168 507 167.6 508 167.3 509 166.9 510 166.7 511 166.4 512 166.2 513 165.9 514 165.7 515 165.3 516 164.9 517 164.5 518 164 519 163.5 520 163 521 162.6 522 162.4 523 162.2 524 162.1 525 162.1 526 162 527 161.9 528 161.6 529 161.2 530 160.8 531 160.3 532 159.8 533 159.3 534 159 535 158.7"/>
<path class="c" d="M320 208.2 321 208.7 322 209.2 323 209.5 324 209.8 325 210 326 210.2 327 210.7 328 211.3 329 211.8 330 212.3 331 212.6 332 212.7 333 212.9 334 213.2 335 213.7 336 214.2 337 214.7 338 215.1 339 215.4 340 215.8 341 216.3 342 216.9 343 217.6 344 218.3 345 218.7 346 219 347 219.2 348 219.6 349 220.1 350 220.8 351 221.4 352 221.9 353 222.2 354 222.4 355 222.7 356 223 357 223.5 358 223.8 359 224 360 224 361 223.9 362 223.9 363 224 364 224.2 365 224.5 366 224.6 367 224.5 368 224.2 369 224 370 223.7 371 223.6 372 223.5 373 223.3 374 223 375 222.5 376 222 377 221.7 378 221.5 379 221.3 380 221.1 381 220.6 382 220 383 219.3 384 218.8 385 218.4 386 218.1 387 217.9 388 217.6 389 217.1 390 216.7 391 216.4 392 216.1 393 216 394 215.8 395 215.5 396 214.9 397 214.3 398 213.7 399 213.2 400 212.9 401 212.7 402 212.3 403 211.8 404 211.1 405 210.5 406 209.9 407 209.4 408 208.9 409 208.4 410 207.7 411 206.9 412 206.2 413 205.6 414 205.2 415 205 416 204.7 417 204.2 418 203.6 419 202.9 420 202.3 421 201.9 422 201.5 423 201.2 424 200.7 425 200.1 426 199.5 427 198.9 428 198.6 429 198.3 430 198 431 197.6 432 196.9 433 196.2 434 195.4 435 194.9 436 194.5 437 194.1 438 193.7 439 193.2 440 192.7 441 192.1 442 191.7 443 191.5 444 191.2 445 190.9 446 190.4 447 189.7 448 189.1 449 188.7 450 188.4 451 188.2 452 188 453 187.6 454 187.1 455 186.5 456 186 457 185.5 458 185.2 459 184.8 460 184.2 461 183.6 462 182.9 463 182.3 464 182 465 181.8 466 181.6 467 181.3 468 180.8 469 180.2 470 179.7 471 179.3 472 179 473 178.8 474 178.5 475 178.1 476 177.6 477 177.2 478 176.9 479 176.7 480 176.6 481 176.3 482 175.8 483 175.1 484 174.5 485 173.9 486 173.6 487 173.3 488 173 489 172.7 490 172.2 491 171.7 492 171.3 493 171 494 170.8 495 170.6 496 170.3 497 169.8 498 169.3 499 168.9 500 168.7 501 168.7 502 168.7 503 168.5 504 168.2 505 167.8 506 167.4 507 167.1 508 166.9 509 166.7 510 166.4 511 165.9 512 165.4 513 164.9 514 164.6 515 164.5 516 164.4 517 164.3 518 164 519 163.5 520 163.1 521 162.7 522 162.5 523 162.4 524 162.3 525 162.2 526 161.9 527 161.6 528 161.4 529 161.4 530 161.4 531 161.4 532 161.2 533 160.8 534 160.3 535 159.9"/>
<path class="b" d="M320 191 321 190.9 322 190.6 323 190.1 324 189.7 325 189.5 326 189.4 327 189.3 328 189 329 188.7 330 188.3 331 188 332 187.9 333 188 334 188.2 335 188.3 336 188.2 337 187.9 338 187.7 339 187.6 340 187.5 341 187.5 342 187.4 343 187.1 344 186.5 345 185.9 346 185.4 347 184.9 348 184.4 349 183.9 350 183.2 351 182.3 352 181.4 353 180.5 354 179.8 355 179.1 356 178.4 357 177.5 358 176.4 359 175.3 360 174.3 361 173.5 362 172.8 363 172.2 364 171.5 365 170.6 366 169.7 367 168.9 368 168.3 369 168 370 167.8 371 167.6 372 167.2 373 166.7 374 166.2 375 165.8 376 165.5 377 165.3 378 165.1 379 164.6 380 164 381 163.4 382 162.9 383 162.7 384 162.6 385 162.6 386 162.4 387 162.2 388 161.9 389 161.7 390 161.7 391 161.9 392 162 393 161.9 394 161.7 395 161.2 396 160.8 397 160.5 398 160.3 399 160.1 400 159.7 401 159.2 402 158.6 403 158.1 404 157.7 405 157.6 406 157.6 407 157.6 408 157.4 409 157.2 410 157 411 156.9 412 157 413 157.1 414 157.2 415 157.1 416 156.7 417 156.3 418 155.9 419 155.6 420 155.5 421 155.3 422 155 423 154.6 424 154 425 153.6 426 153.4 427 153.4 428 153.4 429 153.3 430 153 431 152.6 432 152.2 433 151.9 434 151.7 435 151.6 436 151.3 437 150.8 438 150.2 439 149.5 440 148.9 441 148.4 442 148 443 147.5 444 146.7 445 145.7 446 144.6 447 143.4 448 142.2 449 140.9 450 139.4 451 137.4 452 135 453 132.3 454 129.3 455 126.2 456 123 457 119.5 458 115.7 459 111.5 460 107.1 461 102.6 462 98.1 463 93.8 464 89.4 465 85.1 466 80.6 467 76.1 468 71.9 469 67.9 470 64.5 471 61.4 472 58.7 473 56.2 474 54.1 475 52.5 476 51.6 477 51.6 478 52.2 479 53.4 480 55.1 481 57.3 482 59.9 483 63.2 484 67.1 485 71.5 486 76.2 487 80.9 488 85.7 489 90.3 490 95 491 99.8 492 104.5 493 109 494 113.2 495 116.9 496 120 497 122.8 498 125.4 499 128 500 130.3 501 132.4 502 134.2 503 135.7 504 137.2 505 138.6 506 140.1 507 141.6 508 142.9 509 143.9 510 144.7 511 145.3 512 145.9 513 146.5 514 147.2 515 147.8 516 148.2 517 148.4 518 148.5 519 148.6 520 149 521 149.5 522 150 523 150.4 524 150.6 525 150.8 526 150.9 527 151.1 528 151.4 529 151.7 530 151.9 531 151.8 532 151.5 533 151.2 534 151 535 151.0"/>
<path class="b" d="M320 189.5 321 189.3 322 188.9 323 188.6 324 188.3 325 188.2 326 188.1 327 188.1 328 188.1 329 187.9 330 187.7 331 187.3 332 187 333 186.7 334 186.4 335 186.2 336 186.1 337 186 338 185.8 339 185.7 340 185.6 341 185.5 342 185.4 343 185.4 344 185.4 345 185.3 346 184.9 347 184.3 348 183.4 349 182.4 350 181.4 351 180.4 352 179.6 353 178.8 354 178 355 177.1 356 176.1 357 175 358 174 359 173 360 172.1 361 171.2 362 170.4 363 169.6 364 168.8 365 168 366 167.2 367 166.5 368 166 369 165.7 370 165.6 371 165.5 372 165.4 373 165.1 374 164.7 375 164.2 376 163.7 377 163.1 378 162.7 379 162.4 380 162.1 381 161.9 382 161.6 383 161.4 384 161.1 385 160.8 386 160.6 387 160.4 388 160.3 389 160.1 390 159.9 391 159.6 392 159.3 393 159 394 158.7 395 158.6 396 158.6 397 158.7 398 158.8 399 158.9 400 158.8 401 158.6 402 158.2 403 157.8 404 157.5 405 157.2 406 156.9 407 156.7 408 156.5 409 156.2 410 156 411 155.7 412 155.6 413 155.5 414 155.4 415 155.4 416 155.3 417 155.1 418 154.8 419 154.5 420 154.1 421 153.9 422 153.7 423 153.7 424 153.7 425 153.8 426 153.8 427 153.6 428 153.4 429 153.1 430 152.7 431 152.4 432 152 433 151.7 434 151.3 435 150.9 436 150.4 437 149.9 438 149.5 439 149.1 440 148.7 441 148.3 442 147.9 443 147.3 444 146.4 445 145.3 446 144.1 447 142.6 448 141.1 449 139.5 450 137.9 451 136.1 452 134.1 453 131.7 454 129.1 455 126.1 456 122.9 457 119.4 458 115.7 459 111.8 460 107.6 461 103.1 462 98.4 463 93.5 464 88.6 465 83.7 466 79 467 74.5 468 70.2 469 66.2 470 62.4 471 58.9 472 55.6 473 52.9 474 50.7 475 49.1 476 48.3 477 48.2 478 48.8 479 49.9 480 51.7 481 53.9 482 56.7 483 60 484 63.7 485 67.8 486 72.1 487 76.7 488 81.2 489 85.8 490 90.3 491 94.9 492 99.5 493 104.1 494 108.6 495 113 496 117 497 120.6 498 123.6 499 126.3 500 128.6 501 130.7 502 132.6 503 134.4 504 136.1 505 137.6 506 139 507 140.2 508 141.4 509 142.5 510 143.5 511 144.6 512 145.6 513 146.5 514 147.2 515 147.7 516 148 517 148.3 518 148.5 519 148.7 520 149.1 521 149.5 522 149.9 523 150.2 524 150.5 525 150.6 526 150.7 527 150.7 528 150.8 529 150.8 530 150.9 531 151 532 151 533 151 534 151 535 151.0"/>
<path class="r" d="M320 197.8 321 197.4 322 197.1 323 196.9 324 197 325 197.2 326 197.3 327 197.2 328 196.9 329 196.4 330 196 331 195.9 332 196 333 196.4 334 196.7 335 196.6 336 196.1 337 195.3 338 194.3 339 193.5 340 193.1 341 193.1 342 193.3 343 193.5 344 193.4 345 193 346 192.3 347 191.6 348 190.9 349 190.4 350 190 351 189.4 352 188.5 353 187.3 354 185.9 355 184.6 356 183.6 357 183 358 182.7 359 182.5 360 182.1 361 181.3 362 180.1 363 178.8 364 177.5 365 176.7 366 176.2 367 176 368 175.8 369 175.4 370 174.8 371 174 372 173.2 373 172.7 374 172.5 375 172.4 376 172.3 377 171.8 378 170.9 379 169.7 380 168.5 381 167.5 382 167 383 166.9 384 167 385 167 386 166.6 387 165.8 388 164.6 389 163.5 390 162.4 391 161.6 392 160.9 393 160 394 158.7 395 157 396 155.1 397 153 398 151.1 399 149.4 400 147.8 401 145.9 402 143.7 403 140.8 404 137.5 405 133.9 406 130.4 407 127.1 408 124.2 409 121.5 410 118.8 411 115.9 412 112.6 413 109.2 414 105.8 415 102.8 416 100.1 417 97.7 418 95.5 419 93.2 420 90.9 421 88.7 422 86.9 423 85.7 424 85.3 425 85.6 426 86.5 427 87.7 428 89.2 429 90.7 430 92.5 431 94.7 432 97.6 433 100.9 434 104.8 435 108.7 436 112.6 437 116.2 438 119.5 439 122.8 440 126.1 441 129.3 442 132.5 443 135.3 444 137.6 445 139.3 446 140.4 447 141.3 448 142 449 142.9 450 143.9 451 144.8 452 145.4 453 145.6 454 145.1 455 144.3 456 143.1 457 141.9 458 140.7 459 139.4 460 137.9 461 136.2 462 134.1 463 131.8 464 129.5 465 127.4 466 125.4 467 123.7 468 122 469 120.2 470 118.2 471 116.1 472 114 473 112.3 474 111 475 110.2 476 110 477 110.1 478 110.4 479 110.8 480 111.3 481 111.9 482 112.8 483 114.1 484 115.6 485 117.3 486 119 487 120.6 488 122.2 489 123.9 490 125.8 491 128 492 130.4 493 132.9 494 135.3 495 137.4 496 139.1 497 140.6 498 141.8 499 143 500 144.2 501 145.5 502 146.8 503 147.9 504 148.9 505 149.7 506 150.3 507 150.9 508 151.5 509 152 510 152.5 511 152.8 512 152.9 513 152.8 514 152.7 515 152.6 516 152.7 517 153 518 153.5 519 154.1 520 154.6 521 154.9 522 155 523 155 524 154.8 525 154.6 526 154.5 527 154.5 528 154.5 529 154.5 530 154.5 531 154.4 532 154.4 533 154.5 534 154.6 535 154.8"/>
<path class="r" d="M320 199.8 321 199.8 322 199.9 323 200 324 200.1 325 200.2 326 200.2 327 200 328 199.8 329 199.3 330 198.9 331 198.4 332 198.1 333 197.8 334 197.6 335 197.4 336 197.2 337 196.8 338 196.3 339 195.9 340 195.6 341 195.4 342 195.3 343 195.4 344 195.4 345 195.2 346 194.9 347 194.2 348 193.4 349 192.5 350 191.7 351 190.9 352 190.3 353 189.7 354 189 355 188.1 356 187 357 185.7 358 184.4 359 183.3 360 182.3 361 181.7 362 181.2 363 180.8 364 180.4 365 179.8 366 179 367 178.1 368 177.2 369 176.5 370 176.1 371 175.9 372 175.8 373 175.7 374 175.3 375 174.7 376 173.8 377 172.8 378 171.8 379 171 380 170.5 381 170.2 382 170 383 169.7 384 169.1 385 168.3 386 167.2 387 166 388 164.9 389 163.9 390 163.1 391 162.5 392 161.8 393 160.8 394 159.5 395 157.8 396 155.8 397 153.6 398 151.4 399 149.3 400 147.3 401 145.4 402 143.3 403 141 404 138.3 405 135.4 406 132.3 407 129.2 408 126.2 409 123.4 410 120.8 411 118.3 412 115.9 413 113.3 414 110.6 415 107.9 416 105.2 417 102.8 418 100.7 419 99 420 97.6 421 96.5 422 95.6 423 94.9 424 94.3 425 94.1 426 94.4 427 95.3 428 96.9 429 99 430 101.5 431 104.4 432 107.4 433 110.6 434 113.8 435 117.1 436 120.4 437 123.7 438 127 439 130.1 440 133 441 135.6 442 137.7 443 139.6 444 141.1 445 142.5 446 143.6 447 144.7 448 145.5 449 146 450 146.2 451 146.2 452 145.8 453 145.3 454 144.8 455 144.2 456 143.6 457 142.9 458 142.1 459 141 460 139.6 461 137.9 462 136 463 134.1 464 132.3 465 130.5 466 128.9 467 127.3 468 125.6 469 123.8 470 121.9 471 120 472 118.2 473 116.8 474 115.8 475 115.3 476 115.2 477 115.3 478 115.5 479 115.8 480 116.1 481 116.5 482 117.1 483 118.2 484 119.6 485 121.4 486 123.4 487 125.4 488 127.3 489 128.8 490 130.2 491 131.5 492 132.8 493 134.3 494 136.1 495 138 496 139.9 497 141.7 498 143.1 499 144.2 500 145.1 501 145.8 502 146.6 503 147.6 504 148.8 505 150 506 151.2 507 152.2 508 152.8 509 153.1 510 153.2 511 153.2 512 153.2 513 153.5 514 154 515 154.5 516 155 517 155.3 518 155.3 519 155.1 520 154.9 521 154.7 522 154.7 523 154.8 524 155.2 525 155.7 526 156 527 156.2 528 156.2 529 156 530 155.8 531 155.6 532 155.6 533 155.7 534 155.8 535 156.0"/>
<path class="r" d="M320 206.6 321 206.3 322 206.2 323 206.4 324 206.6 325 206.6 326 206.4 327 206.1 328 205.9 329 205.8 330 205.4 331 204.7 332 204.1 333 203.9 334 204.1 335 204.4 336 204.2 337 203.4 338 202.4 339 201.7 340 201.9 341 202.5 342 202.8 343 202.2 344 200.8 345 199.4 346 198.7 347 198.7 348 198.9 349 198.4 350 197 351 195.2 352 193.8 353 193 354 192.6 355 192.2 356 191.3 357 190.1 358 189 359 188.2 360 187.7 361 187 362 186 363 185.1 364 184.4 365 184.1 366 183.7 367 182.9 368 181.7 369 180.4 370 179.5 371 179.2 372 179.2 373 178.8 374 177.7 375 176.3 376 175.1 377 174.6 378 174.7 379 174.8 380 174.4 381 173.6 382 172.5 383 171.7 384 171.2 385 171 386 170.7 387 170.1 388 169.3 389 168.2 390 167 391 165.7 392 164.4 393 163.4 394 162.4 395 161.2 396 159.6 397 157.5 398 155.1 399 152.9 400 151 401 149.3 402 147.2 403 144.6 404 141.3 405 137.9 406 134.5 407 131.4 408 128.3 409 124.9 410 121.1 411 117.1 412 113.2 413 109.4 414 105.8 415 102.2 416 98.7 417 95.7 418 93.2 419 91.1 420 89.1 421 86.9 422 85.1 423 84 424 84 425 84.9 426 86 427 86.8 428 87.5 429 88.6 430 90.9 431 94.3 432 98.2 433 101.6 434 104.3 435 106.7 436 109.6 437 113.2 438 117.3 439 121.1 440 124.1 441 126.5 442 128.7 443 131.1 444 133.5 445 135.7 446 137.3 447 138.3 448 139.2 449 140 450 140.7 451 140.7 452 140.1 453 139.2 454 138.4 455 138 456 137.5 457 136.4 458 134.7 459 132.4 460 130.3 461 128.9 462 127.9 463 126.9 464 125.2 465 123 466 120.6 467 118.6 468 117.2 469 116.2 470 115.2 471 113.9 472 112.3 473 110.9 474 109.7 475 108.9 476 108.5 477 108.5 478 108.7 479 108.9 480 109.2 481 109.5 482 110 483 111 484 112.5 485 114.5 486 116.4 487 118.1 488 119.4 489 120.7 490 122.4 491 124.5 492 126.8 493 128.8 494 130.4 495 131.7 496 133 497 134.5 498 136.1 499 137.5 500 138.8 501 140 502 141.3 503 142.6 504 143.7 505 144.4 506 144.9 507 145.7 508 146.9 509 148.3 510 149.4 511 149.6 512 149.3 513 149 514 149.4 515 150.4 516 151.5 517 151.9 518 151.4 519 150.4 520 150 521 150.4 522 151.4 523 152.1 524 152.2 525 151.7 526 151.2 527 151.2 528 151.8 529 152.5 530 152.7 531 152.6 532 152.4 533 152.4 534 152.6 535 152.6"/>
<path class="b" d="M320 192.7 321 192.6 322 192.6 323 192.9 324 193.2 325 193.3 326 193.2 327 192.8 328 192.2 329 191.7 330 191.5 331 191.4 332 191.4 333 191.3 334 191 335 190.5 336 189.9 337 189.5 338 189.4 339 189.5 340 189.6 341 189.6 342 189.4 343 188.9 344 188.5 345 188.1 346 188 347 187.9 348 187.9 349 187.6 350 187.1 351 186.4 352 185.6 353 185 354 184.4 355 184 356 183.4 357 182.6 358 181.5 359 180.3 360 179.1 361 178 362 177.2 363 176.5 364 175.8 365 174.9 366 173.8 367 172.7 368 171.8 369 171.2 370 171 371 171.1 372 171.1 373 171 374 170.7 375 170.3 376 170 377 169.9 378 169.9 379 170.1 380 170 381 169.6 382 169 383 168.2 384 167.6 385 167.2 386 167 387 166.8 388 166.5 389 166 390 165.4 391 164.8 392 164.4 393 164.3 394 164.4 395 164.5 396 164.5 397 164.3 398 163.9 399 163.5 400 163.2 401 163.2 402 163.3 403 163.3 404 163.2 405 162.7 406 162.1 407 161.6 408 161.2 409 161.1 410 161.1 411 161.1 412 160.9 413 160.4 414 159.7 415 159.2 416 158.9 417 158.7 418 158.7 419 158.6 420 158.3 421 157.7 422 157.1 423 156.7 424 156.4 425 156.5 426 156.6 427 156.7 428 156.5 429 156.1 430 155.6 431 155.2 432 155.1 433 155 434 155 435 154.6 436 154 437 153 438 151.9 439 150.9 440 150 441 149.2 442 148.3 443 147.1 444 145.6 445 143.7 446 141.8 447 139.9 448 138.1 449 136.3 450 134.3 451 131.8 452 128.9 453 125.6 454 122.1 455 118.5 456 114.8 457 111.1 458 107.1 459 102.6 460 97.8 461 92.8 462 87.7 463 82.9 464 78.3 465 73.9 466 69.5 467 65.2 468 60.9 469 56.9 470 53.3 471 50.4 472 48.2 473 46.6 474 45.3 475 44.4 476 43.8 477 43.7 478 44.4 479 45.9 480 48.2 481 51.1 482 54.3 483 57.8 484 61.4 485 65.4 486 69.9 487 74.8 488 80 489 85.2 490 90.3 491 95.1 492 99.6 493 103.9 494 108.2 495 112.5 496 116.6 497 120.2 498 123.3 499 125.9 500 128 501 130 502 132 503 134.1 504 136.2 505 138.1 506 139.6 507 140.8 508 141.8 509 142.7 510 143.8 511 144.9 512 146.1 513 147 514 147.6 515 147.9 516 148 517 148.2 518 148.6 519 149.1 520 149.7 521 150.2 522 150.4 523 150.4 524 150.4 525 150.5 526 150.8 527 151.3 528 151.8 529 152.2 530 152.2 531 152 532 151.8 533 151.7 534 151.8 535 152.0"/>
<path class="r" d="M320 203.3 321 203.3 322 203.2 323 203.1 324 202.9 325 202.7 326 202.4 327 202.1 328 201.9 329 201.6 330 201.4 331 201.2 332 201 333 200.9 334 200.8 335 200.7 336 200.6 337 200.5 338 200.4 339 200.1 340 199.8 341 199.4 342 199 343 198.5 344 197.9 345 197.2 346 196.5 347 195.7 348 194.9 349 194 350 193.1 351 192.2 352 191.4 353 190.6 354 189.9 355 189.2 356 188.5 357 187.8 358 187 359 186.2 360 185.4 361 184.6 362 183.7 363 182.8 364 181.9 365 181 366 180.2 367 179.4 368 178.6 369 177.9 370 177.3 371 176.7 372 176.1 373 175.6 374 175.1 375 174.7 376 174.2 377 173.7 378 173.2 379 172.7 380 172.1 381 171.5 382 170.9 383 170.2 384 169.5 385 168.8 386 168.2 387 167.5 388 166.8 389 166.1 390 165.5 391 164.8 392 164.1 393 163.3 394 162.4 395 161.4 396 160.2 397 158.9 398 157.4 399 155.6 400 153.7 401 151.5 402 149.1 403 146.5 404 143.8 405 140.9 406 137.9 407 134.8 408 131.6 409 128.4 410 125.2 411 122 412 118.8 413 115.6 414 112.5 415 109.5 416 106.5 417 103.7 418 101 419 98.5 420 96.2 421 94.1 422 92.4 423 91 424 90 425 89.4 426 89.3 427 89.8 428 90.8 429 92.4 430 94.4 431 96.8 432 99.6 433 102.7 434 106 435 109.4 436 112.8 437 116.2 438 119.4 439 122.5 440 125.4 441 128.1 442 130.5 443 132.6 444 134.4 445 136.1 446 137.5 447 138.7 448 139.7 449 140.5 450 141.2 451 141.6 452 142 453 142.1 454 142 455 141.8 456 141.3 457 140.6 458 139.7 459 138.6 460 137.2 461 135.7 462 134 463 132.2 464 130.3 465 128.3 466 126.3 467 124.3 468 122.4 469 120.5 470 118.8 471 117.2 472 115.8 473 114.6 474 113.6 475 112.8 476 112.3 477 112 478 111.9 479 112.1 480 112.5 481 113.1 482 113.9 483 114.9 484 116.2 485 117.6 486 119.1 487 120.8 488 122.5 489 124.3 490 126.2 491 128 492 129.8 493 131.6 494 133.2 495 134.8 496 136.3 497 137.6 498 138.9 499 140.1 500 141.1 501 142.2 502 143.2 503 144.1 504 145.1 505 146 506 146.8 507 147.7 508 148.5 509 149.2 510 149.9 511 150.5 512 150.9 513 151.3 514 151.5 515 151.7 516 151.7 517 151.7 518 151.5 519 151.4 520 151.2 521 151 522 150.9 523 150.8 524 150.8 525 150.9 526 151 527 151.3 528 151.5 529 151.9 530 152.2 531 152.5 532 152.7 533 152.9 534 153.1 535 153.1"/>
<path class="b" style="stroke-opacity:0.70" d="M320 190.7 321 190.5 322 190.3 323 190.2 324 190.1 325 190.2 326 190.4 327 190.4 328 190.3 329 190 330 189.6 331 189.2 332 189 333 188.8 334 188.8 335 188.7 336 188.6 337 188.5 338 188.3 339 188.2 340 188.2 341 188.2 342 188.1 343 187.9 344 187.4 345 186.7 346 186 347 185.3 348 184.6 349 184 350 183.5 351 182.8 352 182.1 353 181.4 354 180.7 355 180.1 356 179.4 357 178.8 358 178 359 177.1 360 176 361 175 362 174 363 173.1 364 172.3 365 171.5 366 170.7 367 169.9 368 169.1 369 168.4 370 167.9 371 167.6 372 167.4 373 167.1 374 166.7 375 166.2 376 165.8 377 165.4 378 165.1 379 165 380 164.9 381 164.8 382 164.6 383 164.2 384 163.9 385 163.6 386 163.3 387 163.2 388 162.9 389 162.6 390 162.1 391 161.6 392 161.2 393 160.9 394 160.7 395 160.6 396 160.4 397 160.2 398 159.9 399 159.6 400 159.3 401 159.1 402 159 403 158.9 404 158.8 405 158.5 406 158.1 407 157.8 408 157.6 409 157.4 410 157.3 411 157.2 412 156.9 413 156.5 414 156 415 155.5 416 155.2 417 155 418 154.8 419 154.7 420 154.5 421 154.2 422 154 423 153.9 424 153.8 425 153.9 426 153.8 427 153.6 428 153.2 429 152.7 430 152.1 431 151.6 432 151.2 433 150.9 434 150.6 435 150.2 436 149.8 437 149.4 438 149 439 148.7 440 148.5 441 148.3 442 147.8 443 147.2 444 146.3 445 145.3 446 144.2 447 143.2 448 142.3 449 141.2 450 140 451 138.5 452 136.9 453 135.2 454 133.3 455 131.4 456 129.4 457 127 458 124.4 459 121.5 460 118.3 461 115.2 462 112.1 463 109.1 464 106.2 465 103.3 466 100.4 467 97.6 468 94.8 469 92.4 470 90.1 471 88.2 472 86.3 473 84.6 474 83.1 475 81.7 476 80.8 477 80.4 478 80.6 479 81.3 480 82.4 481 83.8 482 85.6 483 87.7 484 90.2 485 92.9 486 96 487 99.1 488 102.3 489 105.3 490 108.2 491 111.1 492 114.1 493 117.2 494 120.3 495 123.3 496 126.1 497 128.5 498 130.7 499 132.6 500 134.5 501 136.2 502 137.7 503 139 504 139.9 505 140.7 506 141.4 507 142 508 142.8 509 143.7 510 144.7 511 145.5 512 146.2 513 146.9 514 147.5 515 148.1 516 148.7 517 149.2 518 149.6 519 149.7 520 149.7 521 149.5 522 149.4 523 149.4 524 149.6 525 149.8 526 150.1 527 150.2 528 150.3 529 150.4 530 150.6 531 150.8 532 151.1 533 151.3 534 151.4 535 151.3"/>
<path class="b" style="stroke-opacity:0.70" d="M320 194.8 321 194.8 322 194.9 323 194.9 324 194.8 325 194.5 326 194.2 327 194 328 194.1 329 194.3 330 194.5 331 194.5 332 194.2 333 193.9 334 193.5 335 193.4 336 193.4 337 193.4 338 193.3 339 192.9 340 192.4 341 191.9 342 191.5 343 191.4 344 191.4 345 191.4 346 191.2 347 190.8 348 190.4 349 190 350 189.9 351 189.9 352 189.9 353 189.7 354 189.1 355 188.2 356 187.3 357 186.5 358 185.9 359 185.3 360 184.7 361 183.9 362 182.8 363 181.7 364 180.7 365 179.9 366 179.4 367 178.9 368 178.2 369 177.5 370 176.8 371 176.2 372 175.9 373 175.8 374 175.8 375 175.7 376 175.4 377 175 378 174.5 379 174.3 380 174.3 381 174.4 382 174.4 383 174.2 384 173.9 385 173.4 386 173 387 172.9 388 172.9 389 172.9 390 172.8 391 172.4 392 171.8 393 171.2 394 170.8 395 170.6 396 170.6 397 170.4 398 170 399 169.4 400 168.8 401 168.4 402 168.2 403 168.2 404 168.2 405 168.1 406 167.8 407 167.4 408 167.1 409 167 410 167.1 411 167.3 412 167.3 413 167.1 414 166.7 415 166.2 416 165.8 417 165.6 418 165.5 419 165.4 420 164.9 421 164.3 422 163.6 423 163 424 162.6 425 162.5 426 162.4 427 162.2 428 161.9 429 161.4 430 161 431 160.8 432 160.8 433 161 434 161 435 160.8 436 160.4 437 159.8 438 159.3 439 158.9 440 158.7 441 158.3 442 157.5 443 156.5 444 155.2 445 153.9 446 152.6 447 151.5 448 150.4 449 149 450 147.3 451 145.4 452 143.3 453 141.3 454 139.5 455 137.7 456 135.7 457 133.4 458 130.9 459 128.2 460 125.5 461 123 462 120.7 463 118.3 464 115.7 465 113 466 110.2 467 107.5 468 105.1 469 103.1 470 101.4 471 99.9 472 98.4 473 97 474 95.8 475 95.1 476 94.9 477 95.2 478 96 479 96.9 480 97.9 481 99.2 482 100.8 483 102.9 484 105.4 485 108.3 486 111.1 487 113.9 488 116.5 489 119.2 490 122 491 125.1 492 128.1 493 131.1 494 133.6 495 135.7 496 137.4 497 139.1 498 140.7 499 142.4 500 143.8 501 145.1 502 145.9 503 146.5 504 147 505 147.7 506 148.5 507 149.3 508 150.1 509 150.6 510 150.8 511 151 512 151.3 513 151.8 514 152.4 515 153 516 153.3 517 153.4 518 153.4 519 153.3 520 153.4 521 153.7 522 154.1 523 154.3 524 154.2 525 154 526 153.8 527 153.7 528 153.9 529 154.3 530 154.6 531 154.8 532 154.7 533 154.6 534 154.6 535 154.8"/>
<path class="b" style="stroke-opacity:0.70" d="M320 193.6 321 194 322 194.2 323 194 324 193.7 325 193.4 326 193.3 327 193.3 328 193.2 329 192.8 330 192.2 331 191.6 332 191.3 333 191.3 334 191.4 335 191.3 336 190.9 337 190.5 338 190.2 339 190.3 340 190.4 341 190.5 342 190.3 343 190 344 189.7 345 189.6 346 189.8 347 189.9 348 189.7 349 189.2 350 188.5 351 187.9 352 187.5 353 187 354 186.3 355 185.2 356 183.9 357 182.6 358 181.6 359 181 360 180.5 361 179.8 362 178.9 363 178 364 177.3 365 176.9 366 176.7 367 176.3 368 175.7 369 175 370 174.5 371 174.2 372 174.2 373 174.1 374 173.8 375 173.2 376 172.7 377 172.3 378 172.2 379 172.2 380 172 381 171.4 382 170.8 383 170.2 384 170 385 170 386 170 387 169.7 388 169.4 389 169.1 390 169 391 169.2 392 169.5 393 169.6 394 169.3 395 168.9 396 168.6 397 168.4 398 168.4 399 168.3 400 167.9 401 167.2 402 166.6 403 166.3 404 166.3 405 166.3 406 166.1 407 165.7 408 165.2 409 164.8 410 164.7 411 164.8 412 164.8 413 164.5 414 164.1 415 163.7 416 163.6 417 163.7 418 163.9 419 163.9 420 163.6 421 163.1 422 162.8 423 162.8 424 162.8 425 162.6 426 162.1 427 161.4 428 160.8 429 160.5 430 160.4 431 160.4 432 160.2 433 159.8 434 159.4 435 159.1 436 159.1 437 159.2 438 159.1 439 158.6 440 157.9 441 157.2 442 156.7 443 156.3 444 155.8 445 155 446 153.8 447 152.5 448 151.3 449 150.2 450 149.1 451 147.6 452 145.7 453 143.4 454 141.1 455 138.9 456 136.8 457 134.4 458 131.7 459 128.6 460 125.5 461 122.4 462 119.5 463 116.6 464 113.4 465 109.8 466 106.1 467 102.5 468 99.2 469 96.3 470 93.5 471 90.7 472 88 473 85.8 474 84.2 475 83.3 476 83.1 477 83.1 478 83.3 479 83.8 480 84.9 481 86.6 482 88.8 483 91.3 484 93.7 485 96.2 486 99 487 102.1 488 105.7 489 109.3 490 112.7 491 115.9 492 118.8 493 121.9 494 125 495 128.1 496 130.8 497 133 498 134.7 499 136.3 500 138 501 139.7 502 141.4 503 142.8 504 143.9 505 144.8 506 145.9 507 147.1 508 148.3 509 149.3 510 149.8 511 150.1 512 150.3 513 150.8 514 151.3 515 151.9 516 152.1 517 152.1 518 152 519 152.2 520 152.5 521 153 522 153.3 523 153.3 524 153.1 525 153.1 526 153.3 527 153.7 528 154.1 529 154.3 530 154.2 531 154.2 532 154.4 533 154.8 534 155.3 535 155.6"/>
<path class="r" d="M320 203 321 203 322 203.1 323 203.3 324 203.4 325 203.5 326 203.6 327 203.7 328 203.7 329 203.7 330 203.6 331 203.4 332 203.2 333 202.9 334 202.5 335 202.1 336 201.7 337 201.1 338 200.6 339 200 340 199.4 341 198.9 342 198.4 343 197.9 344 197.5 345 197.1 346 196.8 347 196.4 348 195.9 349 195.5 350 195 351 194.4 352 193.8 353 193.2 354 192.5 355 191.7 356 190.9 357 189.9 358 188.9 359 187.9 360 186.7 361 185.6 362 184.5 363 183.5 364 182.5 365 181.6 366 180.8 367 180.1 368 179.5 369 179 370 178.6 371 178.2 372 177.9 373 177.6 374 177.3 375 177 376 176.7 377 176.4 378 175.9 379 175.5 380 174.9 381 174.3 382 173.7 383 173 384 172.2 385 171.5 386 170.7 387 169.9 388 169.1 389 168.3 390 167.5 391 166.8 392 166 393 165.2 394 164.4 395 163.5 396 162.6 397 161.6 398 160.6 399 159.4 400 158.1 401 156.6 402 155 403 153.3 404 151.5 405 149.5 406 147.5 407 145.3 408 143 409 140.7 410 138.4 411 136 412 133.7 413 131.4 414 129.2 415 127 416 125 417 123.1 418 121.3 419 119.8 420 118.4 421 117.2 422 116.3 423 115.6 424 115.1 425 114.8 426 114.9 427 115.3 428 116 429 117 430 118.3 431 119.9 432 121.6 433 123.5 434 125.5 435 127.5 436 129.6 437 131.7 438 133.7 439 135.6 440 137.4 441 139 442 140.5 443 141.8 444 143 445 144 446 144.8 447 145.4 448 145.9 449 146.2 450 146.4 451 146.4 452 146.3 453 146.1 454 145.7 455 145.2 456 144.5 457 143.7 458 142.8 459 141.7 460 140.5 461 139.2 462 137.8 463 136.3 464 134.8 465 133.2 466 131.6 467 130 468 128.5 469 127 470 125.7 471 124.5 472 123.5 473 122.7 474 122.1 475 121.6 476 121.4 477 121.4 478 121.6 479 122 480 122.5 481 123.1 482 123.9 483 124.8 484 125.7 485 126.8 486 127.9 487 129 488 130.2 489 131.4 490 132.6 491 133.8 492 135.1 493 136.3 494 137.6 495 138.9 496 140.2 497 141.4 498 142.7 499 143.9 500 145.1 501 146.2 502 147.2 503 148.2 504 149.1 505 149.9 506 150.7 507 151.3 508 151.8 509 152.3 510 152.6 511 152.9 512 153.2 513 153.4 514 153.5 515 153.7 516 153.8 517 154 518 154.1 519 154.3 520 154.4 521 154.6 522 154.7 523 154.9 524 155 525 155.1 526 155.2 527 155.3 528 155.4 529 155.4 530 155.4 531 155.4 532 155.3 533 155.3 534 155.2 535 155.2"/>
<path class="b" d="M320 190 321 189.8 322 189.4 323 189 324 188.6 325 188.4 326 188.4 327 188.4 328 188.4 329 188.3 330 188.1 331 188 332 187.9 333 188 334 188.1 335 188.2 336 188.2 337 188 338 187.8 339 187.6 340 187.3 341 187.1 342 186.9 343 186.6 344 186.1 345 185.5 346 184.8 347 184.1 348 183.4 349 182.7 350 181.9 351 181.1 352 180.3 353 179.5 354 178.7 355 177.9 356 177.2 357 176.5 358 175.8 359 175 360 174.2 361 173.4 362 172.7 363 172.1 364 171.4 365 170.6 366 169.7 367 168.8 368 167.9 369 167.2 370 166.6 371 166.2 372 165.7 373 165.2 374 164.6 375 164 376 163.6 377 163.3 378 163.2 379 163.2 380 163.2 381 163 382 162.7 383 162.5 384 162.4 385 162.4 386 162.5 387 162.6 388 162.4 389 162 390 161.5 391 161.1 392 160.7 393 160.6 394 160.4 395 160.1 396 159.7 397 159 398 158.4 399 157.9 400 157.7 401 157.8 402 157.8 403 157.7 404 157.5 405 157.1 406 156.8 407 156.7 408 156.9 409 157.1 410 157.3 411 157.3 412 157 413 156.5 414 156.1 415 155.9 416 155.9 417 155.9 418 155.8 419 155.3 420 154.7 421 154 422 153.4 423 153.2 424 153.1 425 153.2 426 153 427 152.6 428 152.1 429 151.6 430 151.3 431 151.4 432 151.6 433 151.7 434 151.5 435 151.1 436 150.4 437 149.8 438 149.4 439 149.1 440 148.9 441 148.4 442 147.5 443 146.2 444 144.7 445 143.2 446 141.9 447 140.7 448 139.3 449 137.6 450 135.4 451 132.9 452 130.2 453 127.4 454 124.8 455 122.2 456 119.3 457 115.9 458 112.1 459 107.9 460 103.7 461 99.5 462 95.4 463 91.3 464 87.1 465 82.6 466 77.8 467 73.1 468 68.7 469 64.9 470 61.5 471 58.6 472 56 473 53.6 474 51.5 475 50 476 49.2 477 49.3 478 50.2 479 51.7 480 53.7 481 55.9 482 58.4 483 61.4 484 65 485 69.2 486 73.8 487 78.5 488 83 489 87.5 490 91.8 491 96.2 492 100.7 493 105.3 494 109.7 495 113.9 496 117.4 497 120.4 498 123.1 499 125.7 500 128.2 501 130.6 502 132.8 503 134.7 504 136.3 505 137.7 506 138.9 507 140.2 508 141.5 509 142.8 510 144 511 144.9 512 145.5 513 146 514 146.5 515 147 516 147.6 517 148.2 518 148.6 519 148.8 520 148.9 521 149 522 149.1 523 149.4 524 149.7 525 150 526 150.2 527 150.3 528 150.4 529 150.5 530 150.7 531 151 532 151.2 533 151.4 534 151.5 535 151.5"/>
<path class="r" d="M320 197.8 321 197.9 322 198 323 198 324 198 325 197.8 326 197.6 327 197.3 328 197 329 196.7 330 196.4 331 196.2 332 196.1 333 196 334 196.1 335 196.1 336 196.2 337 196.2 338 196.1 339 195.9 340 195.5 341 194.9 342 194.3 343 193.6 344 192.8 345 192.1 346 191.4 347 190.8 348 190.1 349 189.6 350 189.1 351 188.7 352 188.2 353 187.7 354 187 355 186.3 356 185.5 357 184.5 358 183.4 359 182.2 360 181 361 179.8 362 178.8 363 177.9 364 177.2 365 176.6 366 176.1 367 175.7 368 175.3 369 174.8 370 174.3 371 173.7 372 173.1 373 172.3 374 171.6 375 170.9 376 170.2 377 169.7 378 169.2 379 168.8 380 168.4 381 168.1 382 167.8 383 167.4 384 166.8 385 166.2 386 165.3 387 164.4 388 163.2 389 162 390 160.8 391 159.6 392 158.4 393 157.2 394 156.1 395 155.1 396 154.1 397 153 398 151.9 399 150.5 400 149 401 147.2 402 145.2 403 143 404 140.6 405 138 406 135.3 407 132.6 408 129.9 409 127.2 410 124.7 411 122.2 412 119.8 413 117.5 414 115.3 415 113.2 416 111.2 417 109.2 418 107.4 419 105.8 420 104.3 421 103.1 422 102.2 423 101.6 424 101.3 425 101.4 426 101.8 427 102.7 428 103.9 429 105.4 430 107.1 431 108.9 432 110.9 433 113 434 115.2 435 117.4 436 119.7 437 122 438 124.4 439 126.7 440 129.1 441 131.4 442 133.6 443 135.6 444 137.5 445 139.1 446 140.5 447 141.6 448 142.5 449 143.1 450 143.4 451 143.6 452 143.5 453 143.3 454 142.9 455 142.3 456 141.7 457 140.9 458 139.9 459 138.9 460 137.7 461 136.4 462 135 463 133.6 464 132.2 465 130.8 466 129.4 467 128 468 126.8 469 125.6 470 124.4 471 123.4 472 122.5 473 121.6 474 120.8 475 120.1 476 119.6 477 119.2 478 118.9 479 118.8 480 118.9 481 119.2 482 119.8 483 120.5 484 121.5 485 122.5 486 123.7 487 125 488 126.4 489 127.8 490 129.2 491 130.6 492 132 493 133.4 494 134.7 495 136.1 496 137.5 497 138.8 498 140 499 141.2 500 142.3 501 143.2 502 144.1 503 144.8 504 145.5 505 146 506 146.5 507 146.9 508 147.4 509 147.9 510 148.4 511 149 512 149.6 513 150.2 514 150.9 515 151.4 516 151.9 517 152.3 518 152.4 519 152.5 520 152.4 521 152.2 522 152 523 151.7 524 151.5 525 151.4 526 151.3 527 151.4 528 151.5 529 151.7 530 151.9 531 152.1 532 152.3 533 152.4 534 152.5 535 152.4"/>
<path class="b" d="M320 192.9 321 192.9 322 192.8 323 192.8 324 192.7 325 192.6 326 192.4 327 192.3 328 192.1 329 191.9 330 191.7 331 191.4 332 191.2 333 190.9 334 190.7 335 190.5 336 190.3 337 190.2 338 190.1 339 190.1 340 190.1 341 190.1 342 190.1 343 190.1 344 190 345 189.7 346 189.4 347 188.9 348 188.3 349 187.6 350 186.9 351 186.2 352 185.5 353 184.9 354 184.2 355 183.6 356 183 357 182.4 358 181.8 359 181.3 360 180.7 361 180.1 362 179.4 363 178.6 364 177.7 365 176.7 366 175.8 367 174.9 368 174.2 369 173.6 370 173.1 371 172.8 372 172.6 373 172.4 374 172.3 375 172.2 376 172.1 377 172 378 171.9 379 171.7 380 171.5 381 171.3 382 171 383 170.7 384 170.5 385 170.2 386 170 387 169.7 388 169.5 389 169.3 390 169.1 391 168.9 392 168.7 393 168.6 394 168.5 395 168.4 396 168.3 397 168.2 398 168.1 399 168 400 167.8 401 167.6 402 167.3 403 167 404 166.7 405 166.3 406 166 407 165.7 408 165.5 409 165.3 410 165.2 411 165.2 412 165.2 413 165.2 414 165.2 415 165.1 416 165 417 164.8 418 164.5 419 164.2 420 163.8 421 163.3 422 163 423 162.6 424 162.4 425 162.2 426 162.1 427 162 428 162 429 162 430 161.9 431 161.8 432 161.6 433 161.3 434 160.8 435 160.3 436 159.8 437 159.1 438 158.4 439 157.7 440 157 441 156.2 442 155.4 443 154.4 444 153.4 445 152.1 446 150.7 447 149.1 448 147.2 449 145.1 450 142.7 451 140.1 452 137.2 453 134.1 454 130.7 455 127.1 456 123.3 457 119.3 458 115.1 459 110.8 460 106.4 461 101.9 462 97.3 463 92.7 464 88.2 465 83.7 466 79.3 467 75.1 468 71.1 469 67.4 470 64 471 60.9 472 58.3 473 56.1 474 54.5 475 53.4 476 52.9 477 53 478 53.9 479 55.4 480 57.5 481 60.2 482 63.5 483 67.2 484 71.3 485 75.6 486 80.1 487 84.7 488 89.3 489 93.8 490 98.3 491 102.7 492 107 493 111.1 494 115.2 495 119.1 496 122.6 497 126 498 129 499 131.9 500 134.4 501 136.7 502 138.8 503 140.5 504 142.1 505 143.4 506 144.5 507 145.4 508 146.2 509 146.9 510 147.5 511 148.1 512 148.7 513 149.3 514 149.9 515 150.5 516 151.1 517 151.7 518 152.2 519 152.7 520 153.1 521 153.5 522 153.8 523 154 524 154.2 525 154.4 526 154.4 527 154.4 528 154.4 529 154.4 530 154.3 531 154.3 532 154.3 533 154.3 534 154.4 535 154.5"/>
<path class="b" style="stroke-opacity:0.70" d="M320 195.2 321 194.8 322 194.6 323 194.4 324 194.2 325 194.1 326 194.1 327 194 328 194 329 193.9 330 193.8 331 193.7 332 193.7 333 193.7 334 193.6 335 193.6 336 193.4 337 193.2 338 192.9 339 192.5 340 192 341 191.5 342 191.1 343 190.7 344 190.5 345 190.5 346 190.6 347 190.7 348 190.8 349 190.7 350 190.5 351 190 352 189.3 353 188.4 354 187.3 355 186.1 356 185 357 184.1 358 183.3 359 182.7 360 182.3 361 181.9 362 181.3 363 180.7 364 179.8 365 178.8 366 177.7 367 176.7 368 175.7 369 174.9 370 174.3 371 173.9 372 173.6 373 173.4 374 173.1 375 172.8 376 172.4 377 171.9 378 171.4 379 170.9 380 170.4 381 170.1 382 169.9 383 169.7 384 169.6 385 169.4 386 169.1 387 168.7 388 168.1 389 167.5 390 166.7 391 166 392 165.5 393 165.1 394 164.9 395 164.9 396 165 397 165.1 398 165.1 399 164.9 400 164.5 401 163.9 402 163.1 403 162.2 404 161.4 405 160.7 406 160.1 407 159.8 408 159.7 409 159.7 410 159.7 411 159.7 412 159.6 413 159.3 414 158.9 415 158.4 416 157.8 417 157.3 418 156.8 419 156.3 420 156 421 155.7 422 155.5 423 155.2 424 154.9 425 154.5 426 154.1 427 153.7 428 153.3 429 152.9 430 152.5 431 152.2 432 151.8 433 151.5 434 151 435 150.4 436 149.8 437 149.1 438 148.3 439 147.5 440 146.7 441 146 442 145.3 443 144.6 444 143.8 445 142.8 446 141.7 447 140.3 448 138.6 449 136.6 450 134.4 451 132 452 129.5 453 126.8 454 124.1 455 121.4 456 118.6 457 115.7 458 112.7 459 109.6 460 106.3 461 103 462 99.6 463 96.1 464 92.6 465 89.2 466 85.9 467 82.8 468 79.8 469 77 470 74.3 471 71.9 472 69.8 473 68.1 474 66.8 475 66.1 476 65.9 477 66.3 478 67.2 479 68.6 480 70.4 481 72.5 482 74.7 483 77.1 484 79.7 485 82.4 486 85.3 487 88.5 488 91.9 489 95.6 490 99.5 491 103.6 492 107.7 493 111.6 494 115.3 495 118.7 496 121.6 497 124 498 126.1 499 127.9 500 129.7 501 131.3 502 133 503 134.7 504 136.4 505 138.1 506 139.5 507 140.8 508 141.9 509 142.7 510 143.4 511 144 512 144.5 513 145.1 514 145.7 515 146.3 516 146.9 517 147.4 518 147.8 519 148.1 520 148.2 521 148.2 522 148.1 523 148.2 524 148.3 525 148.5 526 148.9 527 149.5 528 150 529 150.5 530 150.9 531 151.1 532 151 533 150.8 534 150.4 535 150.0"/>
<path class="b" d="M320 194 321 194.6 322 195 323 195 324 194.7 325 194.5 326 194.6 327 194.8 328 194.8 329 194.3 330 193.4 331 192.8 332 192.5 333 192.7 334 192.8 335 192.7 336 192.3 337 192 338 192.1 339 192.5 340 192.8 341 192.5 342 191.9 343 191.1 344 190.7 345 190.5 346 190.4 347 189.9 348 189.1 349 188.4 350 188.1 351 188.1 352 188.3 353 188.2 354 187.4 355 186.5 356 185.6 357 185 358 184.5 359 183.6 360 182.3 361 180.8 362 179.6 363 178.9 364 178.5 365 177.9 366 177 367 176 368 175.3 369 175 370 174.9 371 174.7 372 174.1 373 173.1 374 172.1 375 171.6 376 171.4 377 171.1 378 170.6 379 169.8 380 169.3 381 169.2 382 169.5 383 169.8 384 169.7 385 169.2 386 168.6 387 168.3 388 168.3 389 168.2 390 167.7 391 166.8 392 165.8 393 165.2 394 165 395 165.1 396 164.8 397 164.3 398 163.6 399 163.3 400 163.3 401 163.4 402 163.2 403 162.5 404 161.6 405 160.9 406 160.6 407 160.5 408 160.3 409 159.8 410 159.1 411 158.6 412 158.7 413 159 414 159.1 415 158.9 416 158.3 417 157.7 418 157.5 419 157.4 420 157.3 421 156.7 422 155.7 423 154.9 424 154.5 425 154.4 426 154.5 427 154.2 428 153.6 429 152.9 430 152.6 431 152.7 432 152.7 433 152.3 434 151.5 435 150.6 436 149.9 437 149.6 438 149.5 439 149 440 148.2 441 147.2 442 146.5 443 146.1 444 145.8 445 145.1 446 143.9 447 142.2 448 140.6 449 139.2 450 137.7 451 135.8 452 133.3 453 130.4 454 127.5 455 124.8 456 122.2 457 119.3 458 115.8 459 111.9 460 108 461 104.3 462 100.8 463 97.1 464 92.9 465 88.3 466 83.9 467 79.9 468 76.5 469 73.3 470 70.1 471 66.9 472 64.1 473 62.1 474 60.9 475 60.3 476 59.9 477 59.6 478 59.7 479 60.5 480 62.3 481 64.6 482 67 483 69.4 484 72.1 485 75.4 486 79.3 487 83.6 488 87.9 489 91.9 490 95.7 491 99.6 492 104 493 108.4 494 112.5 495 116 496 119 497 121.7 498 124.6 499 127.5 500 130 501 132 502 133.5 503 134.9 504 136.5 505 138.4 506 140 507 141.1 508 141.8 509 142.4 510 143.2 511 144.3 512 145.3 513 145.9 514 146.1 515 146.2 516 146.5 517 147.2 518 148 519 148.4 520 148.3 521 148.2 522 148.3 523 148.8 524 149.4 525 149.7 526 149.7 527 149.5 528 149.5 529 149.9 530 150.5 531 150.8 532 150.7 533 150.4 534 150.3 535 150.5"/>
<path class="b" style="stroke-opacity:0.70" d="M320 190.4 321 190.4 322 190.5 323 190.7 324 190.9 325 191.1 326 191.2 327 191.1 328 190.8 329 190.3 330 189.8 331 189.2 332 188.7 333 188.4 334 188.1 335 187.9 336 187.7 337 187.5 338 187.3 339 187.1 340 187 341 187.1 342 187.3 343 187.5 344 187.6 345 187.5 346 187.2 347 186.6 348 185.8 349 184.9 350 184 351 183.1 352 182.2 353 181.3 354 180.3 355 179.1 356 177.9 357 176.8 358 175.7 359 174.9 360 174.4 361 173.9 362 173.5 363 173.1 364 172.4 365 171.7 366 170.9 367 170.1 368 169.4 369 168.8 370 168.3 371 167.8 372 167.2 373 166.5 374 165.8 375 165.1 376 164.5 377 164 378 163.8 379 163.7 380 163.6 381 163.6 382 163.5 383 163.2 384 163 385 162.7 386 162.5 387 162.3 388 162.2 389 162 390 161.8 391 161.4 392 160.9 393 160.3 394 159.7 395 159.3 396 159 397 158.9 398 158.8 399 158.6 400 158.4 401 158.1 402 157.8 403 157.4 404 157.2 405 157 406 156.8 407 156.7 408 156.5 409 156.2 410 155.8 411 155.4 412 154.9 413 154.6 414 154.4 415 154.4 416 154.3 417 154.3 418 154.2 419 153.9 420 153.6 421 153.3 422 153 423 152.7 424 152.5 425 152.3 426 152.1 427 151.7 428 151.1 429 150.5 430 150 431 149.4 432 149.1 433 148.9 434 148.7 435 148.5 436 148.3 437 148 438 147.5 439 147.1 440 146.6 441 146.2 442 145.7 443 145.2 444 144.5 445 143.6 446 142.4 447 141 448 139.4 449 137.7 450 136 451 134.3 452 132.6 453 130.7 454 128.6 455 126.3 456 123.8 457 121.1 458 118.5 459 115.8 460 113.2 461 110.5 462 107.7 463 104.8 464 101.7 465 98.5 466 95.4 467 92.4 468 89.6 469 87.1 470 84.9 471 83 472 81.3 473 79.8 474 78.7 475 77.9 476 77.6 477 77.9 478 78.7 479 80.1 480 82 481 84.1 482 86.6 483 89.2 484 92.1 485 95.2 486 98.6 487 102.2 488 105.8 489 109.5 490 113 491 116.3 492 119.4 493 122.3 494 124.9 495 127.4 496 129.6 497 131.7 498 133.6 499 135.3 500 136.7 501 137.9 502 138.9 503 139.8 504 140.8 505 141.9 506 143 507 144 508 144.9 509 145.6 510 146.2 511 146.6 512 147 513 147.4 514 147.9 515 148.3 516 148.7 517 149 518 149.1 519 149.1 520 149 521 148.9 522 148.9 523 149 524 149.2 525 149.5 526 149.8 527 150 528 150.1 529 150.2 530 150.2 531 150.4 532 150.6 533 150.9 534 151.1 535 151.3"/>
<path class="r" d="M320 198.9 321 199 322 199.2 323 199.4 324 199.6 325 199.7 326 199.6 327 199.6 328 199.4 329 199.3 330 199.2 331 199.1 332 199 333 198.9 334 198.7 335 198.4 336 198.1 337 197.6 338 197.1 339 196.5 340 196.1 341 195.7 342 195.4 343 195.2 344 195 345 194.8 346 194.5 347 194 348 193.4 349 192.6 350 191.8 351 190.9 352 190 353 189.2 354 188.4 355 187.7 356 187 357 186.1 358 185.2 359 184.2 360 183.2 361 182.3 362 181.4 363 180.7 364 180.1 365 179.6 366 179.2 367 178.8 368 178.3 369 177.7 370 177.1 371 176.4 372 175.7 373 175 374 174.4 375 173.8 376 173.4 377 172.9 378 172.5 379 172 380 171.5 381 170.9 382 170.3 383 169.8 384 169.2 385 168.7 386 168.3 387 167.9 388 167.5 389 167 390 166.4 391 165.5 392 164.5 393 163.3 394 162 395 160.6 396 159.1 397 157.6 398 156.1 399 154.4 400 152.7 401 150.8 402 148.7 403 146.4 404 144 405 141.5 406 138.9 407 136.3 408 133.7 409 131.1 410 128.4 411 125.6 412 122.7 413 119.8 414 116.8 415 113.8 416 110.9 417 108.2 418 105.7 419 103.5 420 101.6 421 100.1 422 98.9 423 97.9 424 97.2 425 96.8 426 96.8 427 97.2 428 98.1 429 99.6 430 101.5 431 103.8 432 106.4 433 109.3 434 112.2 435 115.1 436 118.1 437 120.9 438 123.8 439 126.6 440 129.3 441 132 442 134.6 443 137 444 139.3 445 141.3 446 142.9 447 144.3 448 145.5 449 146.4 450 147.1 451 147.6 452 148 453 148.2 454 148.2 455 148.1 456 147.6 457 146.9 458 146 459 144.8 460 143.6 461 142.2 462 140.8 463 139.5 464 138.1 465 136.8 466 135.4 467 133.9 468 132.5 469 131 470 129.5 471 128.1 472 126.9 473 125.9 474 125.1 475 124.6 476 124.2 477 124.1 478 124.2 479 124.3 480 124.6 481 125.1 482 125.7 483 126.6 484 127.6 485 128.9 486 130.4 487 131.9 488 133.5 489 135 490 136.5 491 137.8 492 139.1 493 140.3 494 141.5 495 142.6 496 143.8 497 145 498 146.2 499 147.3 500 148.3 501 149.1 502 149.9 503 150.6 504 151.2 505 151.7 506 152.3 507 153 508 153.6 509 154.1 510 154.5 511 154.8 512 155 513 154.9 514 154.8 515 154.6 516 154.4 517 154.3 518 154.3 519 154.3 520 154.4 521 154.6 522 154.7 523 154.9 524 155 525 155.1 526 155.2 527 155.4 528 155.7 529 156 530 156.3 531 156.6 532 156.8 533 156.8 534 156.7 535 156.5"/>
<path class="b" d="M320 192.1 321 191.9 322 191.9 323 192.1 324 192.5 325 192.7 326 192.7 327 192.5 328 191.9 329 191.3 330 190.8 331 190.6 332 190.5 333 190.7 334 190.9 335 191 336 190.9 337 190.8 338 190.6 339 190.5 340 190.4 341 190.3 342 190.1 343 189.7 344 189.1 345 188.4 346 187.6 347 187 348 186.7 349 186.6 350 186.7 351 186.7 352 186.5 353 185.9 354 185 355 183.9 356 182.8 357 181.8 358 180.9 359 180.2 360 179.5 361 178.8 362 177.9 363 177 364 176.1 365 175.4 366 174.9 367 174.5 368 174.1 369 173.5 370 172.8 371 172.1 372 171.3 373 170.7 374 170.4 375 170.5 376 170.7 377 170.9 378 171 379 170.8 380 170.4 381 169.9 382 169.4 383 169 384 168.7 385 168.5 386 168.3 387 167.9 388 167.4 389 167 390 166.7 391 166.7 392 166.8 393 167 394 167.2 395 167.1 396 166.8 397 166.2 398 165.6 399 165 400 164.7 401 164.6 402 164.7 403 164.7 404 164.6 405 164.4 406 164 407 163.5 408 163.2 409 162.9 410 162.8 411 162.7 412 162.5 413 162.2 414 161.8 415 161.3 416 161 417 161 418 161.1 419 161.4 420 161.6 421 161.5 422 161.2 423 160.6 424 159.9 425 159.3 426 158.9 427 158.7 428 158.6 429 158.5 430 158.3 431 158 432 157.6 433 157.2 434 157 435 156.9 436 156.8 437 156.7 438 156.4 439 155.8 440 155 441 154.1 442 153.2 443 152.4 444 151.7 445 151 446 150.1 447 148.8 448 147.2 449 145.1 450 142.8 451 140.5 452 138 453 135.6 454 133 455 130.1 456 126.9 457 123.3 458 119.4 459 115.4 460 111.3 461 107.1 462 103 463 98.6 464 94 465 89.2 466 84.3 467 79.4 468 74.9 469 70.9 470 67.5 471 64.6 472 62.1 473 60.1 474 58.5 475 57.3 476 56.7 477 56.9 478 57.8 479 59.5 480 61.9 481 64.6 482 67.7 483 71 484 74.6 485 78.5 486 82.8 487 87.5 488 92.3 489 97.1 490 101.7 491 106.1 492 110.1 493 114 494 117.8 495 121.4 496 124.8 497 128.1 498 131 499 133.5 500 135.5 501 137.2 502 138.7 503 140.1 504 141.5 505 142.9 506 144.3 507 145.4 508 146.2 509 146.8 510 147.2 511 147.6 512 148.2 513 148.8 514 149.5 515 150.2 516 150.7 517 150.9 518 151 519 151.1 520 151.3 521 151.6 522 152.2 523 152.7 524 153.2 525 153.5 526 153.5 527 153.3 528 153.1 529 153 530 153.1 531 153.3 532 153.5 533 153.7 534 153.6 535 153.5"/>
<path class="b" style="stroke-opacity:0.70" d="M320 191.5 321 191.3 322 191.1 323 190.9 324 190.7 325 190.6 326 190.5 327 190.4 328 190.5 329 190.5 330 190.5 331 190.4 332 190.3 333 190.2 334 189.9 335 189.6 336 189.3 337 189 338 188.8 339 188.7 340 188.6 341 188.5 342 188.5 343 188.4 344 188.2 345 187.9 346 187.5 347 186.9 348 186.2 349 185.5 350 184.7 351 184 352 183.4 353 182.9 354 182.3 355 181.8 356 181.2 357 180.6 358 179.9 359 179.1 360 178.2 361 177.3 362 176.3 363 175.2 364 174.3 365 173.3 366 172.6 367 171.9 368 171.4 369 171.1 370 170.8 371 170.6 372 170.4 373 170.2 374 169.9 375 169.6 376 169.3 377 169.1 378 168.8 379 168.6 380 168.3 381 168.1 382 167.9 383 167.7 384 167.4 385 167.2 386 166.9 387 166.7 388 166.6 389 166.4 390 166.3 391 166.2 392 166.1 393 166 394 165.8 395 165.6 396 165.3 397 165 398 164.7 399 164.4 400 164.2 401 164 402 164 403 163.9 404 163.9 405 163.9 406 163.8 407 163.7 408 163.4 409 163.1 410 162.6 411 162.2 412 161.8 413 161.5 414 161.3 415 161.3 416 161.3 417 161.4 418 161.5 419 161.5 420 161.5 421 161.3 422 161.1 423 160.7 424 160.3 425 159.8 426 159.4 427 159.1 428 158.8 429 158.6 430 158.5 431 158.4 432 158.3 433 158.2 434 158 435 157.7 436 157.4 437 157 438 156.5 439 155.9 440 155.4 441 154.7 442 154 443 153.2 444 152.3 445 151.2 446 150 447 148.6 448 147.1 449 145.4 450 143.5 451 141.5 452 139.2 453 136.8 454 134.2 455 131.3 456 128.1 457 124.8 458 121.1 459 117.3 460 113.3 461 109.2 462 105 463 100.8 464 96.6 465 92.5 466 88.4 467 84.4 468 80.6 469 76.9 470 73.4 471 70.1 472 67.2 473 64.7 474 62.8 475 61.4 476 60.7 477 60.7 478 61.4 479 62.8 480 64.8 481 67.3 482 70.2 483 73.5 484 77.1 485 80.9 486 84.9 487 89.1 488 93.4 489 97.8 490 102.3 491 106.9 492 111.4 493 115.8 494 119.9 495 123.7 496 127 497 129.9 498 132.5 499 134.7 500 136.6 501 138.3 502 139.8 503 141.3 504 142.6 505 143.8 506 144.9 507 145.9 508 146.8 509 147.6 510 148.3 511 148.9 512 149.5 513 150 514 150.5 515 151 516 151.4 517 151.7 518 152.1 519 152.3 520 152.5 521 152.6 522 152.7 523 152.8 524 152.9 525 153.1 526 153.3 527 153.6 528 153.8 529 154.1 530 154.3 531 154.4 532 154.4 533 154.3 534 154.2 535 154.0"/>
<path class="b" style="stroke-opacity:0.70" d="M320 190.3 321 190 322 189.7 323 189.5 324 189.3 325 189.2 326 189.1 327 189.1 328 189.1 329 189.1 330 189.2 331 189.3 332 189.3 333 189.4 334 189.4 335 189.4 336 189.4 337 189.3 338 189.2 339 189 340 188.8 341 188.6 342 188.3 343 187.9 344 187.5 345 187.1 346 186.6 347 186 348 185.3 349 184.6 350 183.8 351 183 352 182.3 353 181.5 354 180.7 355 179.9 356 179 357 178.2 358 177.4 359 176.7 360 176.1 361 175.5 362 174.9 363 174.4 364 173.8 365 173.2 366 172.6 367 172.1 368 171.6 369 171.1 370 170.7 371 170.2 372 169.8 373 169.3 374 168.8 375 168.3 376 167.8 377 167.3 378 166.9 379 166.4 380 166.1 381 165.7 382 165.5 383 165.3 384 165.2 385 165.1 386 165.1 387 165.2 388 165.3 389 165.4 390 165.5 391 165.6 392 165.6 393 165.7 394 165.6 395 165.5 396 165.3 397 165.1 398 164.8 399 164.4 400 164 401 163.5 402 163 403 162.5 404 162.1 405 161.6 406 161.3 407 161 408 160.7 409 160.6 410 160.5 411 160.4 412 160.5 413 160.6 414 160.7 415 160.8 416 160.9 417 161 418 161.1 419 161.1 420 161 421 160.9 422 160.7 423 160.4 424 160.1 425 159.7 426 159.3 427 158.9 428 158.4 429 158 430 157.5 431 157.1 432 156.7 433 156.4 434 156.1 435 155.9 436 155.6 437 155.4 438 155.2 439 155 440 154.8 441 154.5 442 154.1 443 153.6 444 152.9 445 152.2 446 151.3 447 150.2 448 149 449 147.7 450 146.1 451 144.4 452 142.6 453 140.6 454 138.4 455 136.1 456 133.7 457 131.1 458 128.4 459 125.6 460 122.7 461 119.7 462 116.6 463 113.5 464 110.4 465 107.3 466 104.2 467 101.2 468 98.4 469 95.7 470 93.3 471 91.1 472 89.3 473 87.8 474 86.7 475 86 476 85.7 477 85.9 478 86.4 479 87.3 480 88.5 481 90 482 91.8 483 93.9 484 96.2 485 98.7 486 101.3 487 104.1 488 106.9 489 109.8 490 112.8 491 115.7 492 118.5 493 121.4 494 124.1 495 126.8 496 129.3 497 131.6 498 133.7 499 135.7 500 137.4 501 139.1 502 140.6 503 142 504 143.3 505 144.4 506 145.5 507 146.4 508 147.2 509 147.9 510 148.5 511 149 512 149.5 513 149.8 514 150.1 515 150.4 516 150.6 517 150.8 518 151 519 151.1 520 151.3 521 151.5 522 151.8 523 152 524 152.3 525 152.6 526 152.9 527 153.2 528 153.4 529 153.7 530 153.9 531 154.1 532 154.2 533 154.3 534 154.3 535 154.3"/>
<path class="b" style="stroke-opacity:0.70" d="M320 190.5 321 190.6 322 190.7 323 190.8 324 190.8 325 190.8 326 190.6 327 190.4 328 190.1 329 189.6 330 189.2 331 188.7 332 188.2 333 187.8 334 187.5 335 187.2 336 187.1 337 187 338 187.1 339 187.2 340 187.3 341 187.5 342 187.5 343 187.5 344 187.4 345 187.1 346 186.7 347 186.2 348 185.5 349 184.7 350 183.8 351 182.9 352 182.1 353 181.3 354 180.4 355 179.5 356 178.6 357 177.8 358 176.9 359 176 360 175.2 361 174.4 362 173.5 363 172.7 364 171.8 365 171 366 170.2 367 169.6 368 169 369 168.6 370 168.4 371 168.2 372 168 373 167.9 374 167.7 375 167.5 376 167.2 377 166.9 378 166.5 379 166.1 380 165.7 381 165.3 382 164.9 383 164.5 384 164.2 385 164 386 163.8 387 163.6 388 163.5 389 163.4 390 163.3 391 163.2 392 163 393 162.7 394 162.4 395 162.2 396 161.9 397 161.6 398 161.4 399 161.2 400 161.1 401 161 402 161 403 161.1 404 161.1 405 161.1 406 161.1 407 161 408 160.8 409 160.5 410 160.1 411 159.7 412 159.2 413 158.6 414 158.1 415 157.7 416 157.3 417 157 418 156.8 419 156.7 420 156.7 421 156.8 422 156.9 423 157 424 157.1 425 157.1 426 157.1 427 156.9 428 156.7 429 156.4 430 156.1 431 155.7 432 155.3 433 154.9 434 154.5 435 154 436 153.5 437 153 438 152.5 439 151.9 440 151.2 441 150.5 442 149.6 443 148.6 444 147.5 445 146.3 446 145 447 143.7 448 142.2 449 140.7 450 139 451 137.2 452 135.3 453 133.1 454 130.8 455 128.2 456 125.3 457 122.2 458 118.9 459 115.3 460 111.5 461 107.6 462 103.5 463 99.4 464 95.3 465 91.3 466 87.5 467 83.8 468 80.4 469 77.2 470 74.3 471 71.7 472 69.4 473 67.5 474 66 475 64.9 476 64.1 477 63.9 478 64.1 479 64.8 480 66.1 481 67.9 482 70.2 483 72.9 484 76 485 79.5 486 83.2 487 87.1 488 91.1 489 95.2 490 99.2 491 103.1 492 106.9 493 110.6 494 114.1 495 117.4 496 120.6 497 123.4 498 126 499 128.5 500 130.7 501 132.9 502 134.9 503 136.8 504 138.5 505 140.1 506 141.6 507 142.9 508 144.1 509 145.1 510 146 511 146.8 512 147.4 513 148 514 148.6 515 149.1 516 149.5 517 149.9 518 150.2 519 150.5 520 150.7 521 150.8 522 150.9 523 150.9 524 150.9 525 150.8 526 150.8 527 150.8 528 150.9 529 151.1 530 151.3 531 151.6 532 152 533 152.4 534 152.9 535 153.3"/>
<path class="r" d="M320 205.8 321 205.8 322 206.1 323 206.4 324 206.4 325 206 326 205.4 327 205 328 205 329 205.3 330 205.5 331 205.3 332 205.1 333 204.9 334 205.1 335 205.3 336 205.2 337 204.6 338 203.6 339 202.7 340 202 341 201.6 342 201.1 343 200.5 344 199.7 345 199 346 198.7 347 198.5 348 198.3 349 197.7 350 196.6 351 195.5 352 194.5 353 193.9 354 193.3 355 192.6 356 191.6 357 190.6 358 189.8 359 189.3 360 189 361 188.3 362 187.1 363 185.8 364 184.5 365 183.6 366 182.9 367 182.1 368 181 369 179.9 370 179.1 371 178.8 372 178.8 373 178.8 374 178.3 375 177.6 376 176.9 377 176.3 378 176 379 175.6 380 174.9 381 173.9 382 172.9 383 172.4 384 172.1 385 171.9 386 171.4 387 170.4 388 169.3 389 168.3 390 167.4 391 166.5 392 165.2 393 163.5 394 161.7 395 160.1 396 158.7 397 157.5 398 156 399 153.9 400 151.4 401 148.7 402 146 403 143.3 404 140 405 136.2 406 131.9 407 127.6 408 123.6 409 119.7 410 115.9 411 111.7 412 107.2 413 102.8 414 98.8 415 95.1 416 91.5 417 87.8 418 84.1 419 80.6 420 77.9 421 76.1 422 74.8 423 73.9 424 73.2 425 73 426 73.6 427 75.2 428 77.4 429 79.9 430 82.5 431 85.3 432 88.7 433 92.7 434 97.3 435 101.9 436 106.2 437 110.5 438 114.7 439 119.1 440 123.5 441 127.4 442 130.6 443 133 444 135.2 445 137.3 446 139.3 447 141.1 448 142.3 449 143 450 143.5 451 144.1 452 144.7 453 145.1 454 145 455 144.3 456 143.3 457 142.3 458 141.6 459 141 460 140.1 461 138.9 462 137.7 463 136.7 464 136.1 465 135.7 466 135 467 133.8 468 132.4 469 131.1 470 130 471 129.2 472 128.4 473 127.4 474 126.3 475 125.6 476 125.4 477 125.7 478 126.1 479 126.3 480 126.3 481 126.4 482 126.8 483 127.6 484 128.6 485 129.4 486 130 487 130.7 488 131.9 489 133.5 490 135.3 491 136.7 492 137.8 493 138.7 494 139.6 495 140.7 496 141.8 497 142.6 498 143 499 143.2 500 143.6 501 144.4 502 145.5 503 146.6 504 147.2 505 147.7 506 148.2 507 148.9 508 149.7 509 150.4 510 150.6 511 150.6 512 150.6 513 150.9 514 151.6 515 152.3 516 152.7 517 152.8 518 152.8 519 152.9 520 153.3 521 153.5 522 153.3 523 152.8 524 152.1 525 151.8 526 151.9 527 152.3 528 152.5 529 152.5 530 152.5 531 152.7 532 153.1 533 153.7 534 154 535 153.8"/>
<path class="g" style="stroke-width:0.95" d="M320 208 321 207.7 322 207.5 323 207.2 324 206.8 325 206.5 326 206.2 327 206 328 205.8 329 205.6 330 205.4 331 205.1 332 204.8 333 204.4 334 204 335 203.5 336 203 337 202.5 338 202.1 339 201.7 340 201.4 341 201.1 342 200.8 343 200.4 344 200.1 345 199.7 346 199.2 347 198.8 348 198.3 349 197.9 350 197.4 351 196.8 352 196.2 353 195.6 354 194.9 355 194.2 356 193.7 357 193.1 358 192.7 359 192.3 360 192 361 191.6 362 191.2 363 190.7 364 190.1 365 189.5 366 188.8 367 188.1 368 187.3 369 186.5 370 185.8 371 184.9 372 184.1 373 183.2 374 182.4 375 181.5 376 180.6 377 179.8 378 179 379 178.3 380 177.5 381 176.7 382 175.8 383 174.8 384 173.8 385 172.7 386 171.7 387 170.7 388 169.8 389 168.8 390 167.9 391 166.8 392 165.6 393 164.2 394 162.6 395 160.9 396 159.2 397 157.4 398 155.5 399 153.6 400 151.6 401 149.3 402 146.9 403 144.2 404 141.3 405 138.1 406 134.8 407 131.2 408 127.5 409 123.5 410 119.3 411 114.9 412 110.5 413 105.9 414 101.4 415 97.1 416 92.9 417 89 418 85.5 419 82.2 420 79.3 421 76.7 422 74.4 423 72.6 424 71.2 425 70.2 426 69.8 427 69.8 428 70.2 429 71.1 430 72.5 431 74.4 432 76.9 433 79.8 434 83.4 435 87.4 436 92 437 96.8 438 102 439 107.3 440 112.6 441 117.8 442 122.9 443 127.8 444 132.5 445 136.9 446 141.1 447 144.9 448 148.5 449 151.7 450 154.5 451 157 452 159.1 453 160.9 454 162.4 455 163.7 456 164.8 457 165.7 458 166.5 459 167.1 460 167.5 461 167.8 462 168 463 168.1 464 168.2 465 168.2 466 168.2 467 168.1 468 168.1 469 167.9 470 167.8 471 167.6 472 167.3 473 167 474 166.7 475 166.4 476 166.1 477 165.9 478 165.7 479 165.4 480 165.2 481 164.9 482 164.6 483 164.3 484 164 485 163.7 486 163.5 487 163.3 488 163.1 489 162.9 490 162.7 491 162.3 492 162 493 161.6 494 161.3 495 161 496 160.8 497 160.5 498 160.3 499 160 500 159.6 501 159.3 502 158.9 503 158.5 504 158.2 505 157.9 506 157.8 507 157.7 508 157.6 509 157.6 510 157.5 511 157.4 512 157.3 513 157.2 514 157.1 515 157 516 156.8 517 156.7 518 156.5 519 156.3 520 156 521 155.8 522 155.5 523 155.4 524 155.3 525 155.3 526 155.4 527 155.6 528 155.7 529 155.8 530 155.9 531 155.8 532 155.8 533 155.7 534 155.6 535 155.5"/>
<path class="r" d="M320 200 321 200.1 322 200.1 323 200.1 324 200.1 325 200 326 199.9 327 199.8 328 199.6 329 199.5 330 199.3 331 199.1 332 199 333 198.8 334 198.7 335 198.5 336 198.4 337 198.2 338 198 339 197.7 340 197.4 341 197 342 196.5 343 195.9 344 195.3 345 194.7 346 194 347 193.2 348 192.3 349 191.5 350 190.7 351 190 352 189.3 353 188.8 354 188.2 355 187.8 356 187.2 357 186.6 358 185.8 359 185 360 184 361 182.9 362 181.8 363 180.8 364 179.9 365 179.1 366 178.5 367 178 368 177.6 369 177.1 370 176.6 371 176.1 372 175.4 373 174.7 374 173.9 375 173.1 376 172.4 377 171.7 378 171.2 379 170.7 380 170.4 381 170.2 382 170 383 169.7 384 169.4 385 169.1 386 168.6 387 168.2 388 167.7 389 167.2 390 166.6 391 166.1 392 165.4 393 164.6 394 163.7 395 162.5 396 161.1 397 159.5 398 157.7 399 155.8 400 153.9 401 151.8 402 149.7 403 147.4 404 145 405 142.2 406 139.2 407 135.7 408 131.8 409 127.6 410 123.1 411 118.5 412 113.9 413 109.5 414 105.2 415 101.1 416 97.3 417 93.8 418 90.4 419 87.3 420 84.3 421 81.6 422 79.2 423 77.2 424 75.7 425 74.9 426 74.8 427 75.5 428 76.9 429 79 430 81.5 431 84.5 432 87.9 433 91.4 434 95.2 435 99 436 103.1 437 107.2 438 111.3 439 115.4 440 119.4 441 123.1 442 126.4 443 129.4 444 131.8 445 133.8 446 135.4 447 136.6 448 137.6 449 138.4 450 139 451 139.5 452 139.7 453 139.6 454 139.1 455 138.2 456 136.9 457 135.2 458 133.2 459 131 460 128.7 461 126.5 462 124.4 463 122.5 464 120.7 465 119 466 117.3 467 115.6 468 113.8 469 112 470 110.1 471 108.4 472 106.7 473 105.3 474 104.1 475 103.3 476 102.9 477 102.7 478 102.7 479 103 480 103.4 481 104 482 104.8 483 105.8 484 107 485 108.4 486 110.1 487 112 488 114 489 116.1 490 118.3 491 120.4 492 122.4 493 124.4 494 126.3 495 128.2 496 130.1 497 132.1 498 134.2 499 136.2 500 138.3 501 140.2 502 142 503 143.6 504 144.9 505 145.9 506 146.6 507 147.2 508 147.7 509 148.1 510 148.6 511 149.1 512 149.7 513 150.3 514 150.9 515 151.5 516 151.9 517 152.3 518 152.5 519 152.6 520 152.7 521 152.7 522 152.7 523 152.8 524 152.8 525 153 526 153.1 527 153.3 528 153.5 529 153.7 530 153.8 531 154 532 154.1 533 154.2 534 154.3 535 154.4"/>
<path class="b" style="stroke-opacity:0.70" d="M320 190 321 189.7 322 189.3 323 188.9 324 188.8 325 188.8 326 189.1 327 189.4 328 189.6 329 189.6 330 189.4 331 189.1 332 188.8 333 188.6 334 188.5 335 188.4 336 188.1 337 187.7 338 187.2 339 186.7 340 186.4 341 186.2 342 186.3 343 186.4 344 186.4 345 186.2 346 185.8 347 185.2 348 184.6 349 184 350 183.5 351 182.8 352 182.1 353 181.2 354 180 355 178.9 356 177.8 357 176.8 358 176.1 359 175.4 360 174.8 361 174.1 362 173.4 363 172.6 364 171.8 365 171.1 366 170.5 367 169.9 368 169.3 369 168.7 370 168 371 167.4 372 166.9 373 166.5 374 166.3 375 166.1 376 165.9 377 165.7 378 165.5 379 165.3 380 165.1 381 165 382 164.9 383 164.8 384 164.6 385 164.4 386 164 387 163.7 388 163.4 389 163.1 390 163 391 162.8 392 162.6 393 162.5 394 162.3 395 162.1 396 162 397 161.9 398 161.7 399 161.6 400 161.4 401 161.2 402 160.9 403 160.6 404 160.4 405 160.2 406 160 407 159.8 408 159.7 409 159.6 410 159.5 411 159.4 412 159.3 413 159.2 414 159.1 415 158.9 416 158.7 417 158.4 418 158.2 419 157.9 420 157.7 421 157.5 422 157.2 423 156.9 424 156.7 425 156.6 426 156.5 427 156.4 428 156.4 429 156.3 430 156.1 431 155.8 432 155.5 433 155.1 434 154.8 435 154.5 436 154.1 437 153.7 438 153.2 439 152.7 440 152.1 441 151.6 442 151.2 443 150.8 444 150.3 445 149.7 446 148.9 447 147.8 448 146.6 449 145.3 450 143.9 451 142.4 452 140.8 453 138.9 454 136.8 455 134.5 456 132.1 457 129.7 458 127.4 459 125.1 460 122.8 461 120.4 462 117.7 463 114.8 464 111.9 465 109 466 106.3 467 103.7 468 101.1 469 98.6 470 96.1 471 93.7 472 91.5 473 89.9 474 88.8 475 88.2 476 88.1 477 88.3 478 88.8 479 89.5 480 90.5 481 92 482 93.8 483 96 484 98.5 485 100.9 486 103.3 487 105.6 488 108 489 110.5 490 113.4 491 116.4 492 119.6 493 122.6 494 125.4 495 127.9 496 130.3 497 132.5 498 134.7 499 136.8 500 138.7 501 140.3 502 141.5 503 142.3 504 142.8 505 143.4 506 144.1 507 145 508 145.9 509 146.7 510 147.3 511 147.7 512 148.1 513 148.6 514 149.3 515 150.1 516 151 517 151.6 518 151.9 519 151.8 520 151.6 521 151.4 522 151.4 523 151.7 524 151.9 525 152.2 526 152.2 527 152 528 151.8 529 151.8 530 152.1 531 152.6 532 153.3 533 153.7 534 153.9 535 153.7"/>
<path class="r" d="M320 203.7 321 203.7 322 203.8 323 203.9 324 204.1 325 204.2 326 204.1 327 203.8 328 203.4 329 202.9 330 202.4 331 202.1 332 202 333 202.1 334 202.3 335 202.4 336 202.4 337 202 338 201.5 339 200.7 340 199.9 341 199.2 342 198.7 343 198.4 344 198.3 345 198.3 346 198.1 347 197.7 348 197 349 196 350 194.8 351 193.7 352 192.6 353 191.8 354 191.1 355 190.5 356 190 357 189.3 358 188.4 359 187.3 360 186.2 361 185.1 362 184.1 363 183.2 364 182.6 365 182.2 366 181.8 367 181.3 368 180.8 369 180.1 370 179.4 371 178.7 372 178 373 177.4 374 176.9 375 176.3 376 175.8 377 175.1 378 174.3 379 173.5 380 172.7 381 172.1 382 171.6 383 171.4 384 171.3 385 171.2 386 171 387 170.6 388 169.9 389 168.9 390 167.7 391 166.4 392 165.2 393 164.1 394 163 395 161.8 396 160.5 397 159 398 157 399 154.7 400 152.1 401 149.3 402 146.4 403 143.6 404 140.8 405 137.9 406 134.8 407 131.3 408 127.5 409 123.2 410 118.5 411 113.5 412 108.5 413 103.6 414 98.9 415 94.6 416 90.6 417 86.9 418 83.5 419 80.4 420 77.7 421 75.5 422 73.8 423 72.7 424 72.2 425 72.3 426 73 427 74.2 428 75.8 429 77.7 430 80 431 82.6 432 85.7 433 89.1 434 93 435 97.1 436 101.4 437 105.7 438 109.8 439 113.8 440 117.6 441 121.2 442 124.6 443 127.9 444 131.1 445 134 446 136.5 447 138.5 448 139.8 449 140.5 450 140.6 451 140.3 452 139.8 453 139.2 454 138.6 455 138 456 137.4 457 136.6 458 135.6 459 134.2 460 132.4 461 130.3 462 127.9 463 125.5 464 123.1 465 120.8 466 118.5 467 116.2 468 113.9 469 111.5 470 109 471 106.6 472 104.3 473 102.4 474 101 475 100 476 99.6 477 99.7 478 100.1 479 100.7 480 101.5 481 102.5 482 103.7 483 105.1 484 106.7 485 108.6 486 110.6 487 112.7 488 114.8 489 116.8 490 118.9 491 120.9 492 123 493 125.3 494 127.8 495 130.5 496 133.1 497 135.7 498 138.1 499 140.1 500 141.7 501 143 502 144.1 503 145 504 146 505 147 506 148.1 507 149 508 149.8 509 150.3 510 150.6 511 150.7 512 150.6 513 150.7 514 151 515 151.5 516 152.2 517 153.1 518 153.8 519 154.4 520 154.7 521 154.7 522 154.4 523 154 524 153.6 525 153.4 526 153.3 527 153.3 528 153.4 529 153.6 530 153.7 531 153.7 532 153.6 533 153.6 534 153.7 535 153.8"/>
<path class="b" style="stroke-opacity:0.70" d="M320 192.7 321 192.9 322 193.2 323 193.6 324 193.8 325 193.7 326 193.5 327 193 328 192.6 329 192.3 330 192.1 331 192 332 191.9 333 191.7 334 191.5 335 191.3 336 191.1 337 191.2 338 191.5 339 191.8 340 192.1 341 192.2 342 191.8 343 191.2 344 190.3 345 189.3 346 188.4 347 187.8 348 187.5 349 187.4 350 187.3 351 187.1 352 186.9 353 186.4 354 185.9 355 185.2 356 184.6 357 184 358 183.2 359 182.3 360 181.2 361 179.9 362 178.6 363 177.4 364 176.5 365 175.9 366 175.6 367 175.4 368 175.2 369 174.8 370 174.1 371 173.3 372 172.5 373 171.7 374 171.2 375 170.8 376 170.6 377 170.4 378 170.2 379 170 380 169.8 381 169.6 382 169.6 383 169.8 384 169.9 385 169.9 386 169.6 387 168.9 388 168 389 167 390 166 391 165.4 392 165.1 393 165 394 165.2 395 165.4 396 165.5 397 165.4 398 165.1 399 164.8 400 164.5 401 164.3 402 164.1 403 163.8 404 163.3 405 162.8 406 162.1 407 161.5 408 161 409 160.8 410 160.9 411 161.2 412 161.3 413 161.3 414 160.9 415 160.3 416 159.5 417 158.7 418 158.1 419 157.7 420 157.6 421 157.6 422 157.6 423 157.6 424 157.5 425 157.3 426 157.2 427 157.1 428 157.1 429 157 430 156.7 431 156.2 432 155.3 433 154.3 434 153.3 435 152.6 436 152.1 437 152 438 152.1 439 152.3 440 152.4 441 152.2 442 151.7 443 150.9 444 150.1 445 149.3 446 148.4 447 147.5 448 146.5 449 145.3 450 143.9 451 142.3 452 140.7 453 139.2 454 137.8 455 136.4 456 134.8 457 133 458 130.8 459 128.2 460 125.2 461 122.1 462 119.1 463 116.2 464 113.6 465 111.2 466 109 467 106.8 468 104.5 469 102.3 470 100.1 471 98.2 472 96.5 473 95.1 474 94 475 92.9 476 92 477 91.3 478 90.9 479 91 480 91.7 481 93.1 482 95.1 483 97.5 484 100.1 485 102.6 486 105.1 487 107.4 488 109.8 489 112.2 490 114.7 491 117.4 492 120.2 493 122.9 494 125.5 495 127.9 496 130.1 497 132.1 498 134.1 499 136.1 500 137.9 501 139.5 502 140.8 503 141.7 504 142.2 505 142.5 506 142.8 507 143.3 508 144.1 509 145.1 510 146.3 511 147.4 512 148.4 513 149.1 514 149.6 515 150 516 150.2 517 150.5 518 150.7 519 150.8 520 150.8 521 150.6 522 150.3 523 150 524 149.9 525 150.1 526 150.6 527 151.3 528 152 529 152.5 530 152.7 531 152.6 532 152.3 533 152 534 151.7 535 151.6"/>
<path class="b" d="M320 190.3 321 190.4 322 190.5 323 190.6 324 190.5 325 190.4 326 190.1 327 189.7 328 189.3 329 188.8 330 188.5 331 188.3 332 188.3 333 188.3 334 188.5 335 188.6 336 188.6 337 188.5 338 188.3 339 188 340 187.6 341 187.2 342 186.9 343 186.6 344 186.4 345 186.3 346 186.1 347 185.8 348 185.4 349 184.8 350 184 351 183.1 352 182.1 353 181.1 354 180.1 355 179 356 178 357 177 358 176 359 175.2 360 174.4 361 173.6 362 172.9 363 172.1 364 171.5 365 170.8 366 170.2 367 169.5 368 168.9 369 168.3 370 167.7 371 167.1 372 166.5 373 166 374 165.5 375 165.2 376 165 377 164.9 378 164.8 379 164.7 380 164.5 381 164.1 382 163.6 383 163 384 162.4 385 161.7 386 161.2 387 160.9 388 160.7 389 160.6 390 160.7 391 160.7 392 160.7 393 160.5 394 160.2 395 159.8 396 159.4 397 158.9 398 158.5 399 158.3 400 158.1 401 158.1 402 158 403 158 404 157.9 405 157.7 406 157.3 407 156.9 408 156.3 409 155.8 410 155.4 411 155.1 412 154.8 413 154.7 414 154.6 415 154.5 416 154.3 417 154.1 418 153.9 419 153.5 420 153.2 421 152.8 422 152.5 423 152.3 424 152 425 151.9 426 151.7 427 151.5 428 151.4 429 151.2 430 150.9 431 150.7 432 150.5 433 150.2 434 149.9 435 149.6 436 149.1 437 148.6 438 148 439 147.2 440 146.5 441 145.8 442 145.1 443 144.4 444 143.8 445 143.2 446 142.4 447 141.6 448 140.4 449 139 450 137.3 451 135.2 452 132.9 453 130.4 454 127.8 455 125.1 456 122.3 457 119.3 458 116.3 459 112.9 460 109.3 461 105.4 462 101.1 463 96.6 464 91.8 465 87.1 466 82.4 467 77.9 468 73.8 469 69.9 470 66.5 471 63.4 472 60.8 473 58.5 474 56.7 475 55.3 476 54.5 477 54.4 478 54.9 479 56.1 480 58 481 60.5 482 63.6 483 67 484 70.8 485 74.9 486 79.1 487 83.4 488 87.8 489 92.3 490 96.7 491 101.2 492 105.5 493 109.8 494 113.8 495 117.5 496 120.8 497 123.7 498 126.3 499 128.7 500 130.8 501 132.8 502 134.6 503 136.2 504 137.6 505 138.8 506 139.8 507 140.8 508 141.6 509 142.4 510 143.3 511 144.2 512 145.1 513 146 514 146.9 515 147.7 516 148.4 517 148.7 518 148.9 519 148.9 520 148.8 521 148.7 522 148.6 523 148.7 524 148.9 525 149.2 526 149.6 527 150 528 150.3 529 150.5 530 150.5 531 150.4 532 150.2 533 149.9 534 149.8 535 149.7"/>
<path class="r" d="M320 199.8 321 199.7 322 199.6 323 199.5 324 199.4 325 199.4 326 199.4 327 199.4 328 199.3 329 199.1 330 198.9 331 198.5 332 198.1 333 197.8 334 197.5 335 197.3 336 197.3 337 197.3 338 197.3 339 197.3 340 197.2 341 196.9 342 196.4 343 195.9 344 195.2 345 194.5 346 193.8 347 193.1 348 192.5 349 191.8 350 191.2 351 190.5 352 189.8 353 189 354 188.2 355 187.4 356 186.6 357 185.7 358 185 359 184.3 360 183.7 361 183.2 362 182.6 363 181.9 364 181.2 365 180.3 366 179.4 367 178.4 368 177.5 369 176.6 370 175.9 371 175.3 372 174.9 373 174.6 374 174.4 375 174.1 376 173.8 377 173.4 378 173 379 172.5 380 172 381 171.6 382 171.2 383 170.9 384 170.6 385 170.3 386 169.8 387 169.3 388 168.5 389 167.7 390 166.7 391 165.6 392 164.5 393 163.5 394 162.4 395 161.4 396 160.4 397 159.2 398 157.8 399 156.2 400 154.3 401 152.1 402 149.6 403 146.9 404 144 405 141 406 137.8 407 134.5 408 131 409 127.3 410 123.5 411 119.4 412 115.1 413 110.8 414 106.5 415 102.3 416 98.4 417 94.8 418 91.5 419 88.7 420 86.3 421 84.2 422 82.5 423 81.2 424 80.3 425 79.8 426 79.8 427 80.5 428 81.7 429 83.5 430 85.8 431 88.6 432 91.7 433 95 434 98.4 435 101.8 436 105.3 437 108.7 438 112.1 439 115.5 440 118.8 441 122.1 442 125.3 443 128.3 444 131.1 445 133.5 446 135.5 447 137.2 448 138.5 449 139.4 450 140.1 451 140.5 452 140.6 453 140.6 454 140.3 455 139.7 456 138.9 457 137.7 458 136.1 459 134.3 460 132.2 461 130 462 127.7 463 125.5 464 123.4 465 121.3 466 119.4 467 117.6 468 115.8 469 114 470 112.3 471 110.7 472 109.1 473 107.8 474 106.8 475 106 476 105.6 477 105.4 478 105.6 479 105.9 480 106.5 481 107.1 482 108 483 108.9 484 110.1 485 111.5 486 113.2 487 115.1 488 117.3 489 119.6 490 122 491 124.4 492 126.7 493 128.9 494 131 495 132.9 496 134.6 497 136.4 498 138.1 499 139.8 500 141.4 501 143.1 502 144.6 503 146 504 147.2 505 148.3 506 149.1 507 149.9 508 150.6 509 151.3 510 152 511 152.7 512 153.4 513 154 514 154.5 515 154.9 516 155.1 517 155.1 518 155 519 154.8 520 154.7 521 154.6 522 154.6 523 154.8 524 155 525 155.4 526 155.7 527 156 528 156.2 529 156.3 530 156.4 531 156.4 532 156.4 533 156.5 534 156.6 535 156.7"/>
</g></svg>
<g opacity="0.999">
<text x="6.6" y="16.1" font-size="15.2" stroke="#000" stroke-width="0.2">A</text>
<text x="278.4" y="16.7" font-size="15" stroke="#000" stroke-width="0.2">B</text>
<g font-size="6" font-weight="bold" fill="#111" stroke="#111" stroke-width="0.25" text-anchor="middle">
<text x="141.7" y="24.7" textLength="49.5" lengthAdjust="spacingAndGlyphs">Melting Peaks</text>
<text x="413.5" y="24.7" textLength="49.5" lengthAdjust="spacingAndGlyphs">Melting Peaks</text>
<text x="156" y="255.2" textLength="53.8" lengthAdjust="spacingAndGlyphs">Temperature (°C)</text>
<text x="428" y="255.2" textLength="53.8" lengthAdjust="spacingAndGlyphs">Temperature (°C)</text>
<text transform="translate(25.7,134.7) rotate(-90)" textLength="98.5" lengthAdjust="spacingAndGlyphs">-(d/dT) Fluorescence (533-580)</text>
<text transform="translate(297.7,134.7) rotate(-90)" textLength="98.5" lengthAdjust="spacingAndGlyphs">-(d/dT) Fluorescence (618-660)</text>
</g>
<g font-size="6.4" fill="#4a4a55" stroke="#4a4a55" stroke-width="0.2" text-anchor="end">
<text x="46.2" y="44.7" textLength="14.4" lengthAdjust="spacingAndGlyphs">0.330</text>
<text x="46.2" y="59.7" textLength="14.4" lengthAdjust="spacingAndGlyphs">0.290</text>
<text x="46.2" y="74.8" textLength="14.4" lengthAdjust="spacingAndGlyphs">0.250</text>
<text x="46.2" y="89.8" textLength="14.4" lengthAdjust="spacingAndGlyphs">0.210</text>
<text x="46.2" y="104.8" textLength="14.4" lengthAdjust="spacingAndGlyphs">0.170</text>
<text x="46.2" y="119.8" textLength="14.4" lengthAdjust="spacingAndGlyphs">0.130</text>
<text x="46.2" y="134.9" textLength="14.4" lengthAdjust="spacingAndGlyphs">0.090</text>
<text x="46.2" y="149.9" textLength="14.4" lengthAdjust="spacingAndGlyphs">0.050</text>
<text x="46.2" y="164.9" textLength="14.4" lengthAdjust="spacingAndGlyphs">0.010</text>
<text x="46.2" y="180.0" textLength="15.4" lengthAdjust="spacingAndGlyphs">-0.030</text>
<text x="46.2" y="195.0" textLength="15.4" lengthAdjust="spacingAndGlyphs">-0.070</text>
<text x="46.2" y="210.0" textLength="15.4" lengthAdjust="spacingAndGlyphs">-0.110</text>
<text x="46.2" y="225.1" textLength="15.4" lengthAdjust="spacingAndGlyphs">-0.150</text>
<text x="318.2" y="44.7" textLength="14.4" lengthAdjust="spacingAndGlyphs">0.538</text>
<text x="318.2" y="61.8" textLength="14.4" lengthAdjust="spacingAndGlyphs">0.468</text>
<text x="318.2" y="78.8" textLength="14.4" lengthAdjust="spacingAndGlyphs">0.398</text>
<text x="318.2" y="95.9" textLength="14.4" lengthAdjust="spacingAndGlyphs">0.328</text>
<text x="318.2" y="113.0" textLength="14.4" lengthAdjust="spacingAndGlyphs">0.258</text>
<text x="318.2" y="130.1" textLength="14.4" lengthAdjust="spacingAndGlyphs">0.188</text>
<text x="318.2" y="147.1" textLength="14.4" lengthAdjust="spacingAndGlyphs">0.118</text>
<text x="318.2" y="164.2" textLength="14.4" lengthAdjust="spacingAndGlyphs">0.048</text>
<text x="318.2" y="181.3" textLength="15.4" lengthAdjust="spacingAndGlyphs">-0.022</text>
<text x="318.2" y="198.3" textLength="15.4" lengthAdjust="spacingAndGlyphs">-0.092</text>
<text x="318.2" y="215.4" textLength="15.4" lengthAdjust="spacingAndGlyphs">-0.162</text>
</g>
<g font-size="6.2" fill="#4a4a55" stroke="#4a4a55" stroke-width="0.2" text-anchor="middle">
<text x="47.7" y="247.5">50</text>
<text x="83.7" y="247.5">55</text>
<text x="119.7" y="247.5">60</text>
<text x="155.7" y="247.5">65</text>
<text x="191.7" y="247.5">70</text>
<text x="227.7" y="247.5">75</text>
<text x="263.7" y="247.5">80</text>
<text x="320.5" y="247.5">50</text>
<text x="356.6" y="247.5">55</text>
<text x="392.7" y="247.5">60</text>
<text x="428.8" y="247.5">65</text>
<text x="464.9" y="247.5">70</text>
<text x="501.0" y="247.5">75</text>
</g>
<g font-size="14.7" fill="#111" stroke="#111" stroke-width="0.25">
<text x="116.5" y="53.6">385T</text>
<text x="157.0" y="41.4">385A</text>
<text x="191.3" y="102.6">375G</text>
<text x="409.0" y="66.2">571T</text>
<text x="458.6" y="41.4">571C</text>
</g>
</g>
</svg>
</body></html>
